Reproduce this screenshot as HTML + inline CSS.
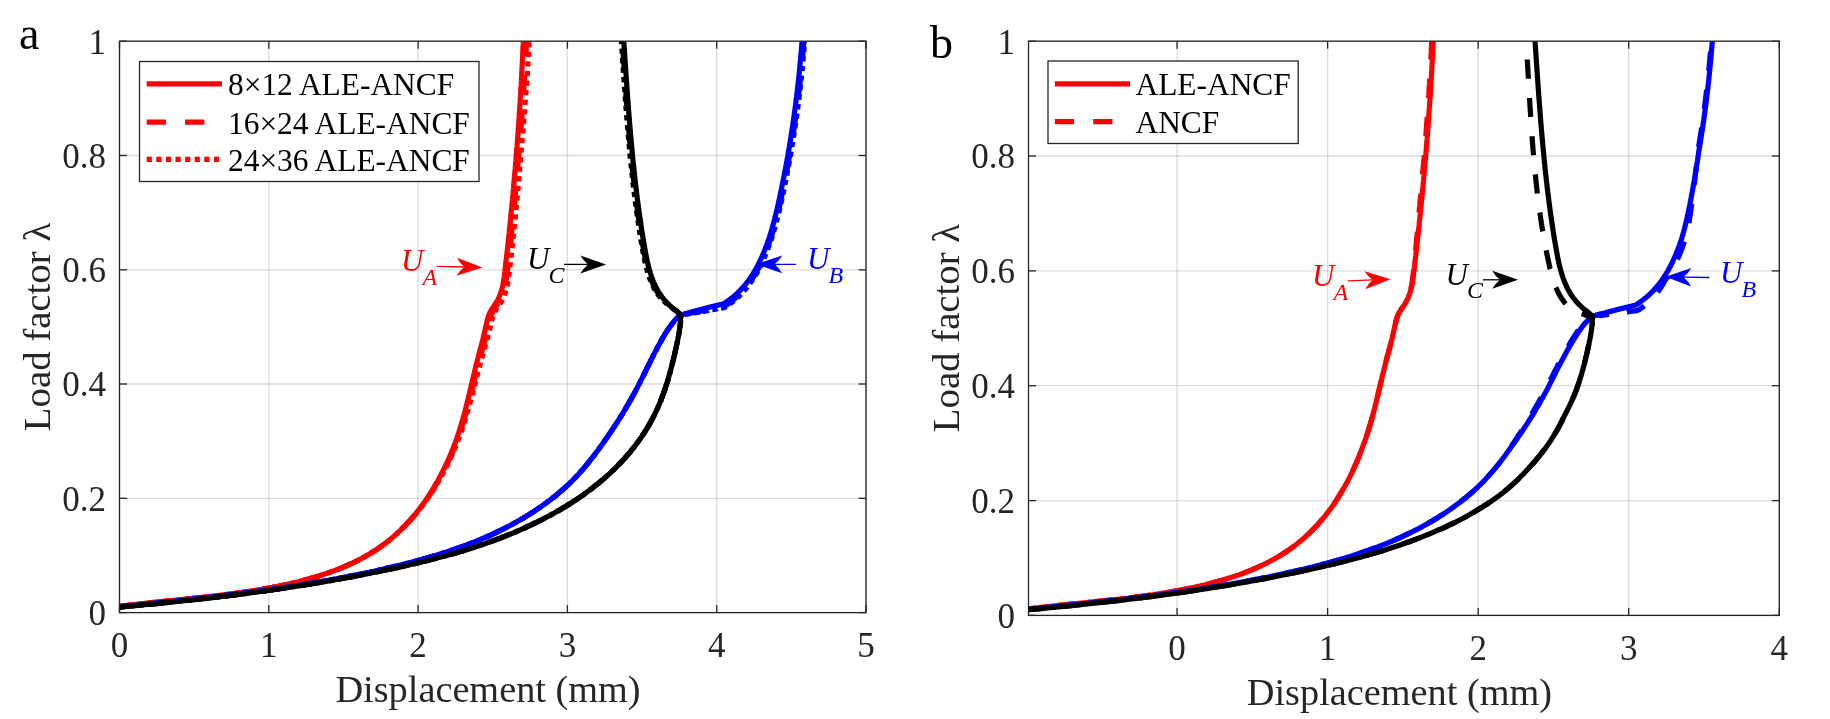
<!DOCTYPE html><html><head><meta charset="utf-8"><style>html,body{margin:0;padding:0;background:#fff;width:1830px;height:719px;overflow:hidden}</style></head><body><svg width="1830" height="719" viewBox="0 0 1830 719" style="position:absolute;left:0;top:0;will-change:transform;font-family:'Liberation Serif',serif">
<defs><clipPath id="ca"><rect x="119.5" y="41.2" width="746.5" height="571.4"/></clipPath><clipPath id="cb"><rect x="1028.5" y="41.2" width="750.8" height="574.2"/></clipPath></defs>
<rect width="1830" height="719" fill="#fff"/>
<line x1="119.5" y1="41.2" x2="119.5" y2="612.6" stroke="#262626" stroke-opacity="0.16" stroke-width="1.3"/>
<line x1="268.8" y1="41.2" x2="268.8" y2="612.6" stroke="#262626" stroke-opacity="0.16" stroke-width="1.3"/>
<line x1="418.1" y1="41.2" x2="418.1" y2="612.6" stroke="#262626" stroke-opacity="0.16" stroke-width="1.3"/>
<line x1="567.4" y1="41.2" x2="567.4" y2="612.6" stroke="#262626" stroke-opacity="0.16" stroke-width="1.3"/>
<line x1="716.7" y1="41.2" x2="716.7" y2="612.6" stroke="#262626" stroke-opacity="0.16" stroke-width="1.3"/>
<line x1="866.0" y1="41.2" x2="866.0" y2="612.6" stroke="#262626" stroke-opacity="0.16" stroke-width="1.3"/>
<line x1="119.5" y1="612.6" x2="866.0" y2="612.6" stroke="#262626" stroke-opacity="0.16" stroke-width="1.3"/>
<line x1="119.5" y1="498.3" x2="866.0" y2="498.3" stroke="#262626" stroke-opacity="0.16" stroke-width="1.3"/>
<line x1="119.5" y1="384.0" x2="866.0" y2="384.0" stroke="#262626" stroke-opacity="0.16" stroke-width="1.3"/>
<line x1="119.5" y1="269.8" x2="866.0" y2="269.8" stroke="#262626" stroke-opacity="0.16" stroke-width="1.3"/>
<line x1="119.5" y1="155.5" x2="866.0" y2="155.5" stroke="#262626" stroke-opacity="0.16" stroke-width="1.3"/>
<line x1="119.5" y1="41.2" x2="866.0" y2="41.2" stroke="#262626" stroke-opacity="0.16" stroke-width="1.3"/>
<g clip-path="url(#ca)" fill="none" stroke-linejoin="round">
<path d="M110.0 607.5 L112.7 607.3 L115.5 606.9 L118.4 606.5 L121.2 606.2 L124.0 605.8 L126.8 605.5 L129.6 605.1 L132.4 604.8 L135.2 604.5 L138.0 604.2 L140.8 603.8 L143.6 603.5 L146.4 603.2 L149.2 602.9 L151.9 602.6 L154.7 602.3 L157.5 602.0 L160.2 601.8 L163.0 601.5 L165.7 601.2 L168.5 600.9 L171.2 600.6 L174.0 600.3 L176.7 600.1 L179.5 599.8 L182.2 599.5 L185.0 599.2 L187.7 598.9 L190.4 598.6 L193.2 598.3 L195.9 598.0 L198.6 597.8 L201.4 597.5 L204.1 597.2 L206.8 596.8 L209.5 596.5 L212.3 596.2 L215.0 595.9 L217.7 595.6 L220.5 595.2 L223.2 594.9 L225.9 594.6 L228.6 594.2 L231.4 593.8 L234.1 593.5 L236.8 593.1 L239.6 592.7 L242.3 592.3 L245.0 591.9 L247.8 591.5 L250.5 591.1 L253.3 590.6 L256.0 590.2 L258.7 589.7 L261.5 589.3 L264.2 588.8 L267.0 588.3 L269.7 587.8 L272.5 587.3 L275.3 586.7 L278.0 586.2 L280.8 585.6 L283.5 585.1 L286.3 584.5 L289.1 583.9 L291.8 583.2 L294.6 582.6 L297.3 581.9 L300.1 581.2 L302.8 580.5 L305.5 579.8 L308.3 579.1 L311.0 578.3 L313.7 577.5 L316.4 576.7 L319.1 575.9 L321.8 575.0 L324.5 574.1 L327.1 573.2 L329.8 572.3 L332.4 571.4 L335.0 570.4 L337.6 569.4 L340.2 568.4 L342.8 567.3 L345.4 566.2 L347.9 565.1 L350.5 563.9 L353.0 562.8 L355.5 561.6 L357.9 560.3 L360.4 559.1 L362.8 557.8 L365.2 556.4 L367.6 555.1 L370.0 553.7 L372.3 552.2 L374.7 550.8 L376.9 549.3 L379.2 547.7 L381.5 546.1 L383.7 544.5 L385.9 542.9 L388.0 541.2 L390.1 539.5 L392.2 537.7 L394.3 535.9 L396.4 534.1 L398.4 532.2 L400.4 530.3 L402.4 528.4 L404.4 526.4 L406.3 524.4 L408.2 522.4 L410.1 520.4 L412.0 518.3 L413.9 516.2 L415.7 514.1 L417.5 511.9 L419.2 509.7 L421.0 507.5 L422.7 505.3 L424.4 503.0 L426.0 500.7 L427.6 498.4 L429.3 496.1 L430.8 493.7 L432.4 491.4 L433.9 489.0 L435.4 486.6 L436.9 484.1 L438.3 481.7 L439.7 479.2 L441.1 476.8 L442.5 474.3 L443.8 471.8 L445.2 469.3 L446.4 466.7 L447.7 464.2 L448.9 461.6 L450.1 459.1 L451.3 456.5 L452.5 453.9 L453.6 451.3 L454.7 448.7 L455.8 446.1 L456.8 443.5 L457.9 440.8 L458.9 438.2 L459.8 435.6 L460.8 432.9 L461.7 430.3 L462.6 427.6 L463.5 425.0 L464.3 422.3 L465.1 419.7 L466.0 417.0 L466.7 414.4 L467.5 411.7 L468.3 409.0 L469.0 406.4 L469.8 403.7 L470.5 401.0 L471.2 398.3 L471.9 395.7 L472.6 393.0 L473.3 390.3 L474.0 387.6 L474.7 384.9 L475.4 382.2 L476.1 379.5 L476.8 376.8 L477.5 374.1 L478.2 371.4 L478.9 368.7 L479.6 366.0 L480.3 363.3 L481.1 360.6 L481.9 357.9 L482.6 355.2 L483.4 352.5 L484.2 349.7 L485.0 347.0 L485.8 344.3 L486.5 341.6 L487.3 338.9 L488.0 336.2 L488.7 333.5 L489.4 330.7 L490.0 328.0 L490.6 325.4 L491.2 322.7 L491.8 320.0 L492.5 317.4 L493.4 314.9 L494.5 312.4 L495.8 310.0 L497.3 307.7 L498.8 305.4 L500.4 303.1 L501.8 300.7 L503.1 298.3 L504.2 295.8 L505.1 293.2 L505.9 290.6 L506.7 287.9 L507.3 285.3 L507.8 282.5 L508.3 279.8 L508.7 277.0 L509.0 274.3 L509.4 271.5 L509.7 268.7 L510.0 265.9 L510.3 263.1 L510.6 260.3 L510.9 257.5 L511.3 254.7 L511.6 252.0 L511.9 249.2 L512.2 246.4 L512.5 243.6 L512.8 240.8 L513.1 238.1 L513.4 235.3 L513.7 232.5 L513.9 229.7 L514.2 226.9 L514.5 224.2 L514.8 221.4 L515.1 218.6 L515.4 215.9 L515.6 213.1 L515.9 210.3 L516.2 207.5 L516.4 204.8 L516.7 202.0 L517.0 199.2 L517.2 196.5 L517.5 193.7 L517.7 190.9 L518.0 188.2 L518.2 185.4 L518.5 182.6 L518.7 179.9 L519.0 177.1 L519.2 174.3 L519.4 171.6 L519.7 168.8 L519.9 166.0 L520.1 163.3 L520.4 160.5 L520.6 157.7 L520.8 155.0 L521.0 152.2 L521.3 149.4 L521.5 146.7 L521.8 143.9 L522.0 141.2 L522.2 138.4 L522.5 135.6 L522.7 132.9 L523.0 130.1 L523.2 127.3 L523.4 124.5 L523.7 121.8 L523.9 119.0 L524.1 116.2 L524.3 113.5 L524.6 110.7 L524.8 107.9 L525.0 105.2 L525.2 102.4 L525.4 99.6 L525.6 96.8 L525.8 94.1 L526.0 91.3 L526.2 88.5 L526.4 85.7 L526.6 83.0 L526.8 80.2 L527.0 77.4 L527.2 74.6 L527.4 71.8 L527.6 69.0 L527.8 66.3 L527.9 63.5 L528.1 60.7 L528.3 57.9 L528.5 55.1 L528.6 52.3 L528.8 49.5 L529.0 46.7 L529.1 43.9 L529.3 41.1 L529.4 38.3 L529.5 35.5 L529.6 32.7 L530.0 30.0" stroke="#f00" stroke-width="5.2" stroke-dasharray="5.2 4.4"/>
<path d="M110.0 607.5 L112.7 607.3 L115.5 606.9 L118.4 606.5 L121.2 606.2 L124.0 605.8 L126.8 605.5 L129.6 605.1 L132.4 604.8 L135.2 604.5 L138.0 604.2 L140.8 603.8 L143.6 603.5 L146.4 603.2 L149.2 602.9 L151.9 602.6 L154.7 602.3 L157.5 602.0 L160.2 601.8 L163.0 601.5 L165.7 601.2 L168.5 600.9 L171.2 600.6 L174.0 600.3 L176.7 600.1 L179.5 599.8 L182.2 599.5 L185.0 599.2 L187.7 598.9 L190.4 598.6 L193.2 598.3 L195.9 598.0 L198.6 597.8 L201.4 597.5 L204.1 597.2 L206.8 596.8 L209.5 596.5 L212.3 596.2 L215.0 595.9 L217.7 595.6 L220.5 595.2 L223.2 594.9 L225.9 594.6 L228.6 594.2 L231.4 593.8 L234.1 593.5 L236.8 593.1 L239.6 592.7 L242.3 592.3 L245.0 591.9 L247.8 591.5 L250.5 591.1 L253.3 590.6 L256.0 590.2 L258.7 589.7 L261.5 589.3 L264.2 588.8 L267.0 588.3 L269.7 587.8 L272.5 587.3 L275.3 586.7 L278.0 586.2 L280.8 585.6 L283.5 585.1 L286.3 584.5 L289.1 583.9 L291.8 583.2 L294.6 582.6 L297.3 581.9 L300.1 581.2 L302.8 580.5 L305.5 579.8 L308.3 579.1 L311.0 578.3 L313.7 577.5 L316.4 576.7 L319.1 575.9 L321.8 575.0 L324.5 574.1 L327.1 573.2 L329.8 572.3 L332.4 571.4 L335.0 570.4 L337.6 569.4 L340.2 568.4 L342.8 567.3 L345.4 566.2 L347.9 565.1 L350.5 563.9 L353.0 562.8 L355.5 561.6 L357.9 560.3 L360.4 559.1 L362.8 557.8 L365.2 556.4 L367.6 555.1 L370.0 553.7 L372.3 552.2 L374.7 550.8 L376.9 549.3 L379.2 547.7 L381.5 546.1 L383.7 544.5 L385.9 542.9 L388.0 541.2 L390.1 539.5 L392.2 537.7 L394.3 535.9 L396.4 534.1 L398.4 532.2 L400.4 530.3 L402.4 528.4 L404.3 526.4 L406.3 524.4 L408.2 522.4 L410.0 520.4 L411.9 518.3 L413.7 516.2 L415.5 514.1 L417.3 511.9 L419.0 509.7 L420.7 507.5 L422.4 505.3 L424.1 503.0 L425.7 500.7 L427.3 498.4 L428.9 496.1 L430.5 493.7 L432.0 491.4 L433.5 489.0 L435.0 486.6 L436.4 484.1 L437.8 481.7 L439.2 479.2 L440.6 476.8 L441.9 474.3 L443.3 471.8 L444.5 469.3 L445.8 466.7 L447.0 464.2 L448.2 461.6 L449.4 459.1 L450.6 456.5 L451.7 453.9 L452.8 451.3 L453.9 448.7 L454.9 446.1 L456.0 443.5 L457.0 440.8 L457.9 438.2 L458.9 435.6 L459.8 432.9 L460.7 430.3 L461.6 427.6 L462.4 425.0 L463.2 422.3 L464.0 419.7 L464.8 417.0 L465.6 414.4 L466.3 411.7 L467.1 409.0 L467.8 406.4 L468.5 403.7 L469.2 401.0 L469.9 398.3 L470.5 395.7 L471.2 393.0 L471.9 390.3 L472.5 387.6 L473.2 384.9 L473.9 382.2 L474.5 379.5 L475.2 376.8 L475.9 374.1 L476.6 371.4 L477.3 368.7 L478.0 366.0 L478.7 363.3 L479.4 360.6 L480.1 357.9 L480.9 355.2 L481.6 352.5 L482.4 349.7 L483.1 347.0 L483.9 344.3 L484.6 341.6 L485.3 338.9 L486.0 336.2 L486.7 333.5 L487.4 330.7 L488.0 328.0 L488.6 325.4 L489.1 322.7 L489.8 320.0 L490.5 317.4 L491.4 314.9 L492.5 312.4 L493.8 310.0 L495.3 307.7 L496.8 305.4 L498.3 303.1 L499.8 300.7 L501.0 298.3 L502.1 295.8 L503.1 293.2 L503.9 290.6 L504.6 287.9 L505.2 285.3 L505.8 282.5 L506.2 279.8 L506.6 277.0 L507.0 274.3 L507.3 271.5 L507.7 268.7 L508.0 265.9 L508.3 263.1 L508.6 260.3 L508.9 257.5 L509.2 254.7 L509.5 252.0 L509.8 249.2 L510.1 246.4 L510.5 243.6 L510.7 240.8 L511.0 238.1 L511.3 235.3 L511.6 232.5 L511.9 229.7 L512.2 226.9 L512.5 224.2 L512.8 221.4 L513.0 218.6 L513.3 215.9 L513.6 213.1 L513.9 210.3 L514.1 207.5 L514.4 204.8 L514.7 202.0 L514.9 199.2 L515.2 196.5 L515.4 193.7 L515.7 190.9 L516.0 188.2 L516.2 185.4 L516.4 182.6 L516.7 179.9 L516.9 177.1 L517.2 174.3 L517.4 171.6 L517.6 168.8 L517.9 166.0 L518.1 163.3 L518.3 160.5 L518.6 157.7 L518.8 155.0 L519.0 152.2 L519.2 149.4 L519.5 146.7 L519.7 143.9 L519.9 141.2 L520.1 138.4 L520.4 135.6 L520.6 132.9 L520.8 130.1 L521.0 127.3 L521.3 124.5 L521.5 121.8 L521.7 119.0 L521.9 116.2 L522.1 113.5 L522.3 110.7 L522.5 107.9 L522.7 105.2 L522.9 102.4 L523.1 99.6 L523.3 96.8 L523.5 94.1 L523.7 91.3 L523.8 88.5 L524.0 85.7 L524.2 83.0 L524.4 80.2 L524.5 77.4 L524.7 74.6 L524.9 71.8 L525.1 69.0 L525.2 66.3 L525.4 63.5 L525.5 60.7 L525.7 57.9 L525.9 55.1 L526.0 52.3 L526.2 49.5 L526.3 46.7 L526.4 43.9 L526.6 41.1 L526.7 38.3 L526.8 35.5 L526.9 32.7 L527.3 30.0" stroke="#f00" stroke-width="5.2" stroke-dasharray="19.2 19.2"/>
<path d="M110.0 607.5 L112.7 607.3 L115.5 606.9 L118.4 606.5 L121.2 606.2 L124.0 605.8 L126.8 605.5 L129.6 605.1 L132.4 604.8 L135.2 604.5 L138.0 604.2 L140.8 603.8 L143.6 603.5 L146.4 603.2 L149.2 602.9 L151.9 602.6 L154.7 602.3 L157.5 602.0 L160.2 601.8 L163.0 601.5 L165.7 601.2 L168.5 600.9 L171.2 600.6 L174.0 600.3 L176.7 600.1 L179.5 599.8 L182.2 599.5 L185.0 599.2 L187.7 598.9 L190.4 598.6 L193.2 598.3 L195.9 598.0 L198.6 597.8 L201.4 597.5 L204.1 597.2 L206.8 596.8 L209.5 596.5 L212.3 596.2 L215.0 595.9 L217.7 595.6 L220.5 595.2 L223.2 594.9 L225.9 594.6 L228.6 594.2 L231.4 593.8 L234.1 593.5 L236.8 593.1 L239.6 592.7 L242.3 592.3 L245.0 591.9 L247.8 591.5 L250.5 591.1 L253.3 590.6 L256.0 590.2 L258.7 589.7 L261.5 589.3 L264.2 588.8 L267.0 588.3 L269.7 587.8 L272.5 587.3 L275.3 586.7 L278.0 586.2 L280.8 585.6 L283.5 585.1 L286.3 584.5 L289.1 583.9 L291.8 583.2 L294.6 582.6 L297.3 581.9 L300.1 581.2 L302.8 580.5 L305.5 579.8 L308.3 579.1 L311.0 578.3 L313.7 577.5 L316.4 576.7 L319.1 575.9 L321.8 575.0 L324.5 574.1 L327.1 573.2 L329.8 572.3 L332.4 571.4 L335.0 570.4 L337.6 569.4 L340.2 568.4 L342.8 567.3 L345.4 566.2 L347.9 565.1 L350.5 563.9 L353.0 562.8 L355.5 561.6 L357.9 560.3 L360.4 559.1 L362.8 557.8 L365.2 556.4 L367.6 555.1 L370.0 553.7 L372.3 552.2 L374.7 550.8 L376.9 549.3 L379.2 547.7 L381.5 546.1 L383.7 544.5 L385.9 542.9 L388.0 541.2 L390.1 539.5 L392.2 537.7 L394.3 535.9 L396.4 534.1 L398.4 532.2 L400.4 530.3 L402.3 528.4 L404.3 526.4 L406.2 524.4 L408.1 522.4 L409.9 520.4 L411.7 518.3 L413.5 516.2 L415.3 514.1 L417.1 511.9 L418.8 509.7 L420.5 507.5 L422.1 505.3 L423.8 503.0 L425.4 500.7 L426.9 498.4 L428.5 496.1 L430.0 493.7 L431.5 491.4 L433.0 489.0 L434.4 486.6 L435.8 484.1 L437.2 481.7 L438.6 479.2 L439.9 476.8 L441.2 474.3 L442.5 471.8 L443.8 469.3 L445.0 466.7 L446.2 464.2 L447.4 461.6 L448.5 459.1 L449.7 456.5 L450.8 453.9 L451.8 451.3 L452.9 448.7 L453.9 446.1 L454.9 443.5 L455.9 440.8 L456.8 438.2 L457.7 435.6 L458.6 432.9 L459.5 430.3 L460.3 427.6 L461.1 425.0 L461.9 422.3 L462.7 419.7 L463.4 417.0 L464.1 414.4 L464.9 411.7 L465.6 409.0 L466.2 406.4 L466.9 403.7 L467.6 401.0 L468.2 398.3 L468.9 395.7 L469.5 393.0 L470.1 390.3 L470.8 387.6 L471.4 384.9 L472.0 382.2 L472.7 379.5 L473.3 376.8 L474.0 374.1 L474.6 371.4 L475.3 368.7 L475.9 366.0 L476.6 363.3 L477.3 360.6 L478.0 357.9 L478.7 355.2 L479.4 352.5 L480.1 349.7 L480.9 347.0 L481.6 344.3 L482.3 341.6 L483.0 338.9 L483.6 336.2 L484.3 333.5 L484.9 330.7 L485.5 328.0 L486.1 325.4 L486.7 322.7 L487.3 320.0 L488.0 317.4 L488.9 314.9 L490.0 312.4 L491.3 310.0 L492.8 307.7 L494.3 305.4 L495.9 303.1 L497.3 300.7 L498.6 298.3 L499.7 295.8 L500.6 293.2 L501.4 290.6 L502.2 287.9 L502.8 285.3 L503.3 282.5 L503.8 279.8 L504.2 277.0 L504.5 274.3 L504.9 271.5 L505.2 268.7 L505.5 265.9 L505.8 263.1 L506.1 260.3 L506.4 257.5 L506.8 254.7 L507.1 252.0 L507.4 249.2 L507.7 246.4 L508.0 243.6 L508.3 240.8 L508.6 238.1 L508.9 235.3 L509.2 232.5 L509.4 229.7 L509.7 226.9 L510.0 224.2 L510.3 221.4 L510.6 218.6 L510.9 215.9 L511.1 213.1 L511.4 210.3 L511.7 207.5 L511.9 204.8 L512.2 202.0 L512.5 199.2 L512.7 196.5 L513.0 193.7 L513.2 190.9 L513.5 188.2 L513.7 185.4 L514.0 182.6 L514.2 179.9 L514.5 177.1 L514.7 174.3 L514.9 171.6 L515.2 168.8 L515.4 166.0 L515.6 163.3 L515.9 160.5 L516.1 157.7 L516.3 155.0 L516.5 152.2 L516.7 149.4 L517.0 146.7 L517.2 143.9 L517.4 141.2 L517.6 138.4 L517.8 135.6 L518.0 132.9 L518.2 130.1 L518.4 127.3 L518.6 124.5 L518.8 121.8 L519.0 119.0 L519.2 116.2 L519.3 113.5 L519.5 110.7 L519.7 107.9 L519.9 105.2 L520.1 102.4 L520.2 99.6 L520.4 96.8 L520.6 94.1 L520.7 91.3 L520.9 88.5 L521.1 85.7 L521.2 83.0 L521.4 80.2 L521.5 77.4 L521.7 74.6 L521.8 71.8 L522.0 69.0 L522.1 66.3 L522.3 63.5 L522.4 60.7 L522.5 57.9 L522.7 55.1 L522.8 52.3 L522.9 49.5 L523.0 46.7 L523.2 43.9 L523.3 41.1 L523.4 38.3 L523.5 35.5 L523.6 32.7 L524.0 30.0" stroke="#f00" stroke-width="5.2"/>
<path d="M110.0 607.7 L112.3 607.5 L114.6 607.2 L116.9 607.0 L119.1 606.8 L121.4 606.5 L123.7 606.3 L126.0 606.1 L128.3 605.8 L130.6 605.6 L132.9 605.4 L135.2 605.1 L137.5 604.9 L139.7 604.7 L142.0 604.5 L144.3 604.2 L146.6 604.0 L148.9 603.7 L151.2 603.5 L153.5 603.3 L155.8 603.0 L158.0 602.8 L160.3 602.6 L162.6 602.3 L164.9 602.1 L167.2 601.9 L169.5 601.6 L171.8 601.4 L174.1 601.1 L176.3 600.9 L178.6 600.6 L180.9 600.4 L183.2 600.2 L185.5 599.9 L187.8 599.7 L190.1 599.4 L192.3 599.2 L194.6 598.9 L196.9 598.7 L199.2 598.4 L201.5 598.1 L203.8 597.9 L206.0 597.6 L208.3 597.4 L210.6 597.1 L212.9 596.8 L215.2 596.6 L217.5 596.3 L219.7 596.0 L222.0 595.8 L224.3 595.5 L226.6 595.2 L228.9 594.9 L231.2 594.7 L233.4 594.4 L235.7 594.1 L238.0 593.8 L240.3 593.5 L242.6 593.2 L244.8 592.9 L247.1 592.6 L249.4 592.3 L251.7 592.0 L254.0 591.7 L256.2 591.4 L258.5 591.1 L260.8 590.8 L263.1 590.5 L265.3 590.2 L267.6 589.9 L269.9 589.6 L272.2 589.2 L274.4 588.9 L276.7 588.6 L279.0 588.3 L281.2 587.9 L283.5 587.6 L285.8 587.2 L288.1 586.9 L290.3 586.6 L292.6 586.2 L294.9 585.9 L297.1 585.5 L299.4 585.1 L301.7 584.8 L303.9 584.4 L306.2 584.0 L308.5 583.7 L310.7 583.3 L313.0 582.9 L315.3 582.5 L317.5 582.1 L319.8 581.8 L322.1 581.4 L324.3 581.0 L326.6 580.6 L328.9 580.2 L331.1 579.7 L333.4 579.3 L335.6 578.9 L337.9 578.5 L340.2 578.1 L342.4 577.6 L344.7 577.2 L346.9 576.8 L349.2 576.3 L351.4 575.9 L353.7 575.4 L355.9 575.0 L358.2 574.5 L360.4 574.1 L362.7 573.6 L364.9 573.1 L367.2 572.6 L369.4 572.2 L371.7 571.7 L373.9 571.2 L376.2 570.7 L378.4 570.2 L380.7 569.7 L382.9 569.2 L385.2 568.7 L387.4 568.1 L389.7 567.6 L391.9 567.1 L394.1 566.5 L396.4 566.0 L398.6 565.5 L400.9 564.9 L403.1 564.4 L405.3 563.8 L407.6 563.2 L409.8 562.6 L412.0 562.1 L414.2 561.5 L416.5 560.9 L418.7 560.3 L420.9 559.7 L423.1 559.0 L425.3 558.4 L427.6 557.8 L429.8 557.1 L432.0 556.5 L434.2 555.8 L436.4 555.2 L438.6 554.5 L440.8 553.8 L443.0 553.1 L445.2 552.4 L447.3 551.7 L449.5 551.0 L451.7 550.3 L453.9 549.5 L456.0 548.8 L458.2 548.0 L460.4 547.2 L462.5 546.4 L464.7 545.7 L466.8 544.9 L469.0 544.0 L471.1 543.2 L473.2 542.4 L475.4 541.5 L477.5 540.7 L479.6 539.8 L481.7 538.9 L483.8 538.0 L485.9 537.1 L488.0 536.2 L490.1 535.3 L492.2 534.3 L494.2 533.4 L496.3 532.4 L498.4 531.4 L500.4 530.4 L502.5 529.4 L504.5 528.4 L506.6 527.3 L508.6 526.3 L510.6 525.2 L512.6 524.1 L514.6 523.0 L516.6 521.9 L518.6 520.8 L520.6 519.6 L522.6 518.5 L524.6 517.3 L526.5 516.1 L528.5 514.9 L530.4 513.7 L532.4 512.4 L534.3 511.2 L536.2 509.9 L538.1 508.6 L540.0 507.3 L541.9 506.0 L543.8 504.7 L545.7 503.3 L547.5 501.9 L549.4 500.5 L551.2 499.1 L553.0 497.7 L554.9 496.3 L556.7 494.8 L558.4 493.3 L560.2 491.8 L562.0 490.3 L563.7 488.8 L565.4 487.2 L567.1 485.7 L568.8 484.1 L570.5 482.5 L572.1 480.9 L573.7 479.2 L575.3 477.6 L576.9 475.9 L578.5 474.2 L580.0 472.5 L581.5 470.8 L583.0 469.1 L584.5 467.3 L586.0 465.5 L587.4 463.8 L588.9 462.0 L590.3 460.2 L591.7 458.4 L593.1 456.6 L594.5 454.8 L595.9 452.9 L597.3 451.1 L598.6 449.3 L600.0 447.4 L601.3 445.5 L602.7 443.7 L604.0 441.8 L605.3 439.9 L606.6 438.1 L607.9 436.2 L609.2 434.3 L610.5 432.4 L611.8 430.5 L613.0 428.6 L614.3 426.7 L615.5 424.7 L616.8 422.8 L618.0 420.9 L619.2 419.0 L620.5 417.0 L621.7 415.1 L622.9 413.1 L624.1 411.1 L625.2 409.2 L626.4 407.2 L627.6 405.2 L628.7 403.2 L629.9 401.2 L631.0 399.2 L632.1 397.2 L633.2 395.2 L634.3 393.2 L635.4 391.2 L636.5 389.1 L637.5 387.1 L638.6 385.0 L639.7 383.0 L640.7 380.9 L641.7 378.9 L642.8 376.8 L643.8 374.7 L644.8 372.7 L645.8 370.6 L646.8 368.5 L647.9 366.4 L648.9 364.4 L649.9 362.3 L650.9 360.2 L652.0 358.2 L653.0 356.1 L654.0 354.1 L655.1 352.0 L656.2 350.0 L657.2 348.0 L658.3 345.9 L659.4 343.9 L660.5 341.9 L661.6 339.9 L662.8 337.9 L663.9 336.0 L665.1 334.0 L666.3 332.1 L667.5 330.2 L668.8 328.3 L670.2 326.4 L671.6 324.6 L673.1 322.8 L674.6 321.0 L676.2 319.3 L677.8 317.7 L679.5 316.1 L681.6 314.8 L681.7 314.8 L681.8 314.8 L682.0 314.8 L682.1 314.7 L682.3 314.7 L682.4 314.7 L682.5 314.7 L682.7 314.6 L682.8 314.6 L683.0 314.6 L683.1 314.6 L683.2 314.6 L683.4 314.5 L683.5 314.5 L683.6 314.5 L683.8 314.5 L683.9 314.5 L684.1 314.4 L684.2 314.4 L684.3 314.4 L684.5 314.4 L684.6 314.4 L684.8 314.3 L684.9 314.3 L685.0 314.3 L685.2 314.3 L685.3 314.2 L685.4 314.2 L685.6 314.2 L685.7 314.2 L685.9 314.2 L686.0 314.1 L686.1 314.1 L686.3 314.1 L686.4 314.1 L686.6 314.1 L686.7 314.0 L686.8 314.0 L687.0 314.0 L687.1 314.0 L687.3 313.9 L687.4 313.9 L687.5 313.9 L687.7 313.9 L687.8 313.9 L687.9 313.8 L688.1 313.8 L688.2 313.8 L688.4 313.8 L688.5 313.8 L688.6 313.7 L688.8 313.7 L688.9 313.7 L689.1 313.7 L689.2 313.7 L689.3 313.6 L689.5 313.6 L689.6 313.6 L689.7 313.6 L689.9 313.5 L690.0 313.5 L690.2 313.5 L690.3 313.5 L690.4 313.5 L690.6 313.4 L690.7 313.4 L690.9 313.4 L691.0 313.4 L691.1 313.4 L691.3 313.3 L691.4 313.3 L691.5 313.3 L691.7 313.3 L691.8 313.2 L692.0 313.2 L692.1 313.2 L692.2 313.2 L692.4 313.2 L692.5 313.1 L692.7 313.1 L692.8 313.1 L692.9 313.1 L693.1 313.1 L693.2 313.0 L693.4 313.0 L693.5 313.0 L693.6 313.0 L693.8 313.0 L693.9 312.9 L694.0 312.9 L694.2 312.9 L694.3 312.9 L694.5 312.8 L694.6 312.8 L694.7 312.8 L694.9 312.8 L695.0 312.8 L695.2 312.7 L695.3 312.7 L695.4 312.7 L695.6 312.7 L695.7 312.7 L695.8 312.6 L696.0 312.6 L696.1 312.6 L696.3 312.6 L696.4 312.6 L696.5 312.5 L696.7 312.5 L696.8 312.5 L697.0 312.5 L697.1 312.5 L697.2 312.4 L697.4 312.4 L697.5 312.4 L697.7 312.4 L697.8 312.3 L697.9 312.3 L698.1 312.3 L698.2 312.3 L698.3 312.3 L698.5 312.2 L698.6 312.2 L698.8 312.2 L698.9 312.2 L699.0 312.2 L699.2 312.1 L699.3 312.1 L699.5 312.1 L699.6 312.1 L699.7 312.1 L699.9 312.0 L700.0 312.0 L700.1 312.0 L700.3 312.0 L700.4 312.0 L700.6 311.9 L700.7 311.9 L700.8 311.9 L701.0 311.9 L701.1 311.8 L701.3 311.8 L701.4 311.8 L701.5 311.8 L701.7 311.7 L701.8 311.7 L702.0 311.7 L702.1 311.7 L702.2 311.6 L702.4 311.6 L702.5 311.6 L702.6 311.5 L702.8 311.5 L702.9 311.5 L703.1 311.5 L703.2 311.4 L703.3 311.4 L703.5 311.4 L703.6 311.4 L703.8 311.3 L703.9 311.3 L704.0 311.3 L704.2 311.2 L704.3 311.2 L704.5 311.2 L704.6 311.2 L704.7 311.1 L704.9 311.1 L705.0 311.1 L705.1 311.1 L705.3 311.0 L705.4 311.0 L705.6 311.0 L705.7 310.9 L705.8 310.9 L706.0 310.9 L706.1 310.9 L706.3 310.8 L706.4 310.8 L706.5 310.8 L706.7 310.8 L706.8 310.7 L707.0 310.7 L707.1 310.7 L707.2 310.7 L707.4 310.6 L707.5 310.6 L707.6 310.6 L707.8 310.5 L707.9 310.5 L708.1 310.5 L708.2 310.5 L708.3 310.4 L708.5 310.4 L708.6 310.4 L708.8 310.4 L708.9 310.3 L709.0 310.3 L709.2 310.3 L709.3 310.3 L709.5 310.2 L709.6 310.2 L709.7 310.2 L709.9 310.2 L710.0 310.1 L710.2 310.1 L710.3 310.1 L710.4 310.1 L710.6 310.0 L710.7 310.0 L710.8 310.0 L711.0 310.0 L711.1 309.9 L711.3 309.9 L711.4 309.9 L711.5 309.8 L711.7 309.8 L711.8 309.8 L712.0 309.8 L712.1 309.7 L712.2 309.7 L712.4 309.7 L712.5 309.7 L712.7 309.6 L712.8 309.6 L712.9 309.6 L713.1 309.6 L713.2 309.5 L713.4 309.5 L713.5 309.5 L713.6 309.5 L713.8 309.4 L713.9 309.4 L714.1 309.4 L714.2 309.4 L714.3 309.3 L714.5 309.3 L714.6 309.3 L714.7 309.3 L714.9 309.2 L715.0 309.2 L715.2 309.2 L715.3 309.2 L715.4 309.1 L715.6 309.1 L715.7 309.1 L715.9 309.1 L716.0 309.0 L716.1 309.0 L716.3 309.0 L716.4 309.0 L716.6 308.9 L716.7 308.9 L716.8 308.9 L717.0 308.9 L717.1 308.8 L717.3 308.8 L717.4 308.8 L717.5 308.8 L717.7 308.8 L717.8 308.7 L718.0 308.7 L718.1 308.7 L718.2 308.7 L718.4 308.6 L718.5 308.6 L718.7 308.6 L718.8 308.6 L718.9 308.5 L719.1 308.5 L719.2 308.5 L719.4 308.5 L719.5 308.4 L719.6 308.4 L719.8 308.4 L719.9 308.4 L720.0 308.3 L720.2 308.3 L720.3 308.3 L720.5 308.3 L720.6 308.3 L720.7 308.2 L720.9 308.2 L721.0 308.2 L721.2 308.2 L721.3 308.1 L721.4 308.1 L721.6 308.1 L721.7 308.1 L721.9 308.0 L722.0 308.0 L722.1 308.0 L722.3 308.0 L722.4 308.0 L722.6 307.9 L722.7 307.9 L722.8 307.9 L723.0 307.9 L723.1 307.8 L724.2 307.7 L725.1 307.2 L726.0 306.7 L726.9 306.1 L727.7 305.5 L728.6 304.9 L729.5 304.2 L730.3 303.6 L731.1 302.9 L732.0 302.3 L732.8 301.6 L733.6 300.9 L734.4 300.3 L735.2 299.6 L736.0 298.9 L736.8 298.2 L737.5 297.5 L738.3 296.8 L739.0 296.1 L739.8 295.3 L740.5 294.6 L741.2 293.9 L741.9 293.1 L742.6 292.4 L743.3 291.6 L744.0 290.9 L744.7 290.1 L745.4 289.3 L746.0 288.6 L746.7 287.8 L747.3 287.0 L748.0 286.2 L748.6 285.3 L749.2 284.5 L749.8 283.6 L750.4 282.8 L751.0 282.0 L751.6 281.1 L752.2 280.2 L752.8 279.4 L753.4 278.5 L753.9 277.7 L754.5 276.8 L755.1 275.9 L755.6 275.0 L756.1 274.2 L756.7 273.3 L757.2 272.4 L757.7 271.5 L758.2 270.6 L758.7 269.7 L759.1 268.8 L759.6 267.9 L760.1 267.0 L760.5 266.1 L761.0 265.1 L761.4 264.2 L761.8 263.3 L762.2 262.4 L762.7 261.5 L763.1 260.5 L763.5 259.6 L763.9 258.7 L764.3 257.7 L764.7 256.8 L765.1 255.8 L765.5 254.9 L765.8 254.0 L766.2 253.0 L766.6 252.1 L767.0 251.1 L767.3 250.2 L767.7 249.2 L768.0 248.3 L768.4 247.4 L768.7 246.5 L769.1 245.6 L769.4 244.6 L769.7 243.7 L770.1 242.8 L770.4 241.9 L770.7 240.9 L771.0 240.0 L771.4 239.1 L771.7 238.1 L772.0 237.2 L772.3 236.2 L772.6 235.3 L772.9 234.4 L773.2 233.4 L773.5 232.5 L773.7 231.5 L774.0 230.6 L774.3 229.6 L774.6 228.7 L774.9 227.7 L775.1 226.8 L775.4 225.8 L775.7 224.8 L775.9 223.9 L776.2 222.9 L776.4 222.0 L776.7 221.0 L776.9 220.0 L777.2 219.1 L777.4 218.1 L777.7 217.1 L777.9 216.2 L778.2 215.2 L778.4 214.2 L778.6 213.3 L778.9 212.3 L779.1 211.3 L779.3 210.4 L779.6 209.4 L779.8 208.4 L780.0 207.5 L780.2 206.5 L780.5 205.5 L780.7 204.5 L780.9 203.6 L781.1 202.6 L781.3 201.6 L781.6 200.6 L781.8 199.7 L782.0 198.7 L782.2 197.7 L782.4 196.7 L782.6 195.8 L782.8 194.8 L783.0 193.8 L783.2 192.8 L783.4 191.9 L783.6 190.9 L783.8 189.9 L784.0 189.0 L784.2 188.0 L784.4 187.0 L784.6 186.0 L784.8 185.1 L785.0 184.1 L785.2 183.1 L785.4 182.1 L785.6 181.2 L785.8 180.2 L786.0 179.2 L786.2 178.3 L786.4 177.3 L786.6 176.3 L786.8 175.3 L787.0 174.4 L787.1 173.4 L787.3 172.4 L787.5 171.5 L787.7 170.5 L787.9 169.5 L788.1 168.5 L788.3 167.6 L788.4 166.6 L788.6 165.6 L788.8 164.7 L789.0 163.7 L789.1 162.7 L789.3 161.8 L789.5 160.8 L789.7 159.8 L789.8 158.8 L790.0 157.9 L790.2 156.9 L790.4 155.9 L790.5 155.0 L790.7 154.0 L790.9 153.0 L791.0 152.1 L791.2 151.1 L791.4 150.1 L791.5 149.1 L791.7 148.2 L791.9 147.2 L792.0 146.2 L792.2 145.3 L792.3 144.3 L792.5 143.3 L792.7 142.4 L792.8 141.4 L793.0 140.4 L793.1 139.4 L793.3 138.5 L793.4 137.5 L793.6 136.5 L793.7 135.6 L793.9 134.6 L794.0 133.6 L794.2 132.7 L794.3 131.7 L794.5 130.7 L794.6 129.7 L794.8 128.8 L794.9 127.8 L795.1 126.8 L795.2 125.9 L795.4 124.9 L795.5 123.9 L795.6 122.9 L795.8 122.0 L795.9 121.0 L796.1 120.0 L796.2 119.1 L796.3 118.1 L796.5 117.1 L796.6 116.2 L796.7 115.2 L796.9 114.2 L797.0 113.2 L797.1 112.3 L797.3 111.3 L797.4 110.3 L797.5 109.4 L797.7 108.4 L797.8 107.4 L797.9 106.4 L798.1 105.5 L798.2 104.5 L798.3 103.5 L798.4 102.5 L798.5 101.6 L798.7 100.6 L798.8 99.6 L798.9 98.7 L799.0 97.7 L799.2 96.7 L799.3 95.7 L799.4 94.8 L799.5 93.8 L799.6 92.8 L799.7 91.8 L799.9 90.9 L800.0 89.9 L800.1 88.9 L800.2 87.9 L800.3 87.0 L800.4 86.0 L800.5 85.0 L800.6 84.0 L800.7 83.1 L800.8 82.1 L801.0 81.1 L801.1 80.1 L801.2 79.1 L801.3 78.2 L801.4 77.2 L801.5 76.2 L801.6 75.2 L801.7 74.3 L801.8 73.3 L801.9 72.3 L802.0 71.3 L802.1 70.3 L802.2 69.4 L802.3 68.4 L802.4 67.4 L802.5 66.4 L802.6 65.4 L802.6 64.5 L802.7 63.5 L802.8 62.5 L802.9 61.5 L803.0 60.5 L803.1 59.6 L803.2 58.6 L803.3 57.6 L803.4 56.6 L803.5 55.6 L803.5 54.6 L803.6 53.7 L803.7 52.7 L803.8 51.7 L803.9 50.7 L804.0 49.7 L804.0 48.7 L804.1 47.8 L804.2 46.8 L804.3 45.8 L804.4 44.8 L804.4 43.8 L804.5 42.8 L804.6 41.8 L804.7 40.8 L804.8 39.9 L804.8 38.9 L804.9 37.9 L805.0 36.9 L805.0 35.9 L805.1 34.9 L805.2 33.9 L805.3 32.9 L805.3 31.9 L805.4 30.9 L805.6 30.0" stroke="#00f" stroke-width="5.2" stroke-dasharray="5.2 4.4"/>
<path d="M110.0 607.7 L112.3 607.5 L114.6 607.2 L116.9 607.0 L119.1 606.8 L121.4 606.5 L123.7 606.3 L126.0 606.1 L128.3 605.8 L130.6 605.6 L132.9 605.4 L135.2 605.1 L137.5 604.9 L139.7 604.7 L142.0 604.5 L144.3 604.2 L146.6 604.0 L148.9 603.7 L151.2 603.5 L153.5 603.3 L155.8 603.0 L158.0 602.8 L160.3 602.6 L162.6 602.3 L164.9 602.1 L167.2 601.9 L169.5 601.6 L171.8 601.4 L174.1 601.1 L176.3 600.9 L178.6 600.6 L180.9 600.4 L183.2 600.2 L185.5 599.9 L187.8 599.7 L190.1 599.4 L192.3 599.2 L194.6 598.9 L196.9 598.7 L199.2 598.4 L201.5 598.1 L203.8 597.9 L206.0 597.6 L208.3 597.4 L210.6 597.1 L212.9 596.8 L215.2 596.6 L217.5 596.3 L219.7 596.0 L222.0 595.8 L224.3 595.5 L226.6 595.2 L228.9 594.9 L231.2 594.7 L233.4 594.4 L235.7 594.1 L238.0 593.8 L240.3 593.5 L242.6 593.2 L244.8 592.9 L247.1 592.6 L249.4 592.3 L251.7 592.0 L254.0 591.7 L256.2 591.4 L258.5 591.1 L260.8 590.8 L263.1 590.5 L265.3 590.2 L267.6 589.9 L269.9 589.6 L272.2 589.2 L274.4 588.9 L276.7 588.6 L279.0 588.3 L281.2 587.9 L283.5 587.6 L285.8 587.2 L288.1 586.9 L290.3 586.6 L292.6 586.2 L294.9 585.9 L297.1 585.5 L299.4 585.1 L301.7 584.8 L303.9 584.4 L306.2 584.0 L308.5 583.7 L310.7 583.3 L313.0 582.9 L315.3 582.5 L317.5 582.1 L319.8 581.8 L322.1 581.4 L324.3 581.0 L326.6 580.6 L328.9 580.2 L331.1 579.7 L333.4 579.3 L335.6 578.9 L337.9 578.5 L340.2 578.1 L342.4 577.6 L344.7 577.2 L346.9 576.8 L349.2 576.3 L351.4 575.9 L353.7 575.4 L355.9 575.0 L358.2 574.5 L360.4 574.1 L362.7 573.6 L364.9 573.1 L367.2 572.6 L369.4 572.2 L371.7 571.7 L373.9 571.2 L376.2 570.7 L378.4 570.2 L380.7 569.7 L382.9 569.2 L385.2 568.7 L387.4 568.1 L389.7 567.6 L391.9 567.1 L394.1 566.5 L396.4 566.0 L398.6 565.5 L400.9 564.9 L403.1 564.4 L405.3 563.8 L407.6 563.2 L409.8 562.6 L412.0 562.1 L414.2 561.5 L416.5 560.9 L418.7 560.3 L420.9 559.7 L423.1 559.0 L425.3 558.4 L427.6 557.8 L429.8 557.1 L432.0 556.5 L434.2 555.8 L436.4 555.2 L438.6 554.5 L440.8 553.8 L443.0 553.1 L445.2 552.4 L447.3 551.7 L449.5 551.0 L451.7 550.3 L453.9 549.5 L456.0 548.8 L458.2 548.0 L460.4 547.2 L462.5 546.4 L464.7 545.7 L466.8 544.9 L469.0 544.0 L471.1 543.2 L473.2 542.4 L475.4 541.5 L477.5 540.7 L479.6 539.8 L481.7 538.9 L483.8 538.0 L485.9 537.1 L488.0 536.2 L490.1 535.3 L492.2 534.3 L494.2 533.4 L496.3 532.4 L498.4 531.4 L500.4 530.4 L502.5 529.4 L504.5 528.4 L506.6 527.3 L508.6 526.3 L510.6 525.2 L512.6 524.1 L514.6 523.0 L516.6 521.9 L518.6 520.8 L520.6 519.6 L522.6 518.5 L524.6 517.3 L526.5 516.1 L528.5 514.9 L530.4 513.7 L532.4 512.4 L534.3 511.2 L536.2 509.9 L538.1 508.6 L540.0 507.3 L541.9 506.0 L543.8 504.7 L545.7 503.3 L547.5 501.9 L549.4 500.5 L551.2 499.1 L553.0 497.7 L554.9 496.3 L556.7 494.8 L558.4 493.3 L560.2 491.8 L562.0 490.3 L563.7 488.8 L565.4 487.2 L567.1 485.7 L568.8 484.1 L570.5 482.5 L572.1 480.9 L573.7 479.2 L575.3 477.6 L576.9 475.9 L578.5 474.2 L580.0 472.5 L581.5 470.8 L583.0 469.1 L584.5 467.3 L586.0 465.5 L587.4 463.8 L588.9 462.0 L590.3 460.2 L591.7 458.4 L593.1 456.6 L594.5 454.8 L595.9 452.9 L597.3 451.1 L598.6 449.3 L600.0 447.4 L601.3 445.5 L602.7 443.7 L604.0 441.8 L605.3 439.9 L606.6 438.1 L607.9 436.2 L609.2 434.3 L610.5 432.4 L611.8 430.5 L613.0 428.6 L614.3 426.7 L615.5 424.7 L616.8 422.8 L618.0 420.9 L619.2 419.0 L620.5 417.0 L621.7 415.1 L622.9 413.1 L624.1 411.1 L625.2 409.2 L626.4 407.2 L627.6 405.2 L628.7 403.2 L629.9 401.2 L631.0 399.2 L632.1 397.2 L633.2 395.2 L634.3 393.2 L635.4 391.2 L636.5 389.1 L637.5 387.1 L638.6 385.0 L639.7 383.0 L640.7 380.9 L641.7 378.9 L642.8 376.8 L643.8 374.7 L644.8 372.7 L645.8 370.6 L646.8 368.5 L647.9 366.4 L648.9 364.4 L649.9 362.3 L650.9 360.2 L652.0 358.2 L653.0 356.1 L654.0 354.1 L655.1 352.0 L656.2 350.0 L657.2 348.0 L658.3 345.9 L659.4 343.9 L660.5 341.9 L661.6 339.9 L662.8 337.9 L663.9 336.0 L665.1 334.0 L666.3 332.1 L667.5 330.2 L668.8 328.3 L670.2 326.4 L671.6 324.6 L673.0 322.8 L674.5 321.0 L676.0 319.3 L677.7 317.7 L679.3 316.1 L681.4 314.8 L681.5 314.8 L681.6 314.8 L681.8 314.7 L681.9 314.7 L682.1 314.7 L682.2 314.7 L682.3 314.6 L682.5 314.6 L682.6 314.6 L682.7 314.6 L682.9 314.5 L683.0 314.5 L683.2 314.5 L683.3 314.5 L683.4 314.4 L683.6 314.4 L683.7 314.4 L683.9 314.4 L684.0 314.3 L684.1 314.3 L684.3 314.3 L684.4 314.3 L684.5 314.2 L684.7 314.2 L684.8 314.2 L685.0 314.1 L685.1 314.1 L685.2 314.1 L685.4 314.1 L685.5 314.0 L685.7 314.0 L685.8 314.0 L685.9 314.0 L686.1 313.9 L686.2 313.9 L686.3 313.9 L686.5 313.9 L686.6 313.8 L686.8 313.8 L686.9 313.8 L687.0 313.8 L687.2 313.7 L687.3 313.7 L687.4 313.7 L687.6 313.7 L687.7 313.6 L687.9 313.6 L688.0 313.6 L688.1 313.5 L688.3 313.5 L688.4 313.5 L688.6 313.5 L688.7 313.4 L688.8 313.4 L689.0 313.4 L689.1 313.4 L689.2 313.3 L689.4 313.3 L689.5 313.3 L689.7 313.3 L689.8 313.2 L689.9 313.2 L690.1 313.2 L690.2 313.2 L690.3 313.1 L690.5 313.1 L690.6 313.1 L690.8 313.1 L690.9 313.0 L691.0 313.0 L691.2 313.0 L691.3 313.0 L691.5 312.9 L691.6 312.9 L691.7 312.9 L691.9 312.8 L692.0 312.8 L692.1 312.8 L692.3 312.8 L692.4 312.7 L692.6 312.7 L692.7 312.7 L692.8 312.7 L693.0 312.6 L693.1 312.6 L693.3 312.6 L693.4 312.6 L693.5 312.5 L693.7 312.5 L693.8 312.5 L693.9 312.5 L694.1 312.4 L694.2 312.4 L694.4 312.4 L694.5 312.4 L694.6 312.3 L694.8 312.3 L694.9 312.3 L695.0 312.3 L695.2 312.2 L695.3 312.2 L695.5 312.2 L695.6 312.2 L695.7 312.1 L695.9 312.1 L696.0 312.1 L696.2 312.0 L696.3 312.0 L696.4 312.0 L696.6 312.0 L696.7 311.9 L696.8 311.9 L697.0 311.9 L697.1 311.9 L697.3 311.8 L697.4 311.8 L697.5 311.8 L697.7 311.8 L697.8 311.7 L698.0 311.7 L698.1 311.7 L698.2 311.7 L698.4 311.6 L698.5 311.6 L698.6 311.6 L698.8 311.6 L698.9 311.5 L699.1 311.5 L699.2 311.5 L699.3 311.5 L699.5 311.4 L699.6 311.4 L699.7 311.4 L699.9 311.4 L700.0 311.3 L700.2 311.3 L700.3 311.3 L700.4 311.3 L700.6 311.2 L700.7 311.2 L700.9 311.2 L701.0 311.1 L701.1 311.1 L701.3 311.1 L701.4 311.1 L701.5 311.0 L701.7 311.0 L701.8 311.0 L702.0 310.9 L702.1 310.9 L702.2 310.9 L702.4 310.8 L702.5 310.8 L702.7 310.8 L702.8 310.8 L702.9 310.7 L703.1 310.7 L703.2 310.7 L703.3 310.6 L703.5 310.6 L703.6 310.6 L703.8 310.6 L703.9 310.5 L704.0 310.5 L704.2 310.5 L704.3 310.4 L704.5 310.4 L704.6 310.4 L704.7 310.3 L704.9 310.3 L705.0 310.3 L705.1 310.3 L705.3 310.2 L705.4 310.2 L705.6 310.2 L705.7 310.1 L705.8 310.1 L706.0 310.1 L706.1 310.0 L706.3 310.0 L706.4 310.0 L706.5 310.0 L706.7 309.9 L706.8 309.9 L706.9 309.9 L707.1 309.8 L707.2 309.8 L707.4 309.8 L707.5 309.8 L707.6 309.7 L707.8 309.7 L707.9 309.7 L708.1 309.6 L708.2 309.6 L708.3 309.6 L708.5 309.6 L708.6 309.5 L708.7 309.5 L708.9 309.5 L709.0 309.4 L709.2 309.4 L709.3 309.4 L709.4 309.4 L709.6 309.3 L709.7 309.3 L709.9 309.3 L710.0 309.2 L710.1 309.2 L710.3 309.2 L710.4 309.2 L710.6 309.1 L710.7 309.1 L710.8 309.1 L711.0 309.0 L711.1 309.0 L711.2 309.0 L711.4 309.0 L711.5 308.9 L711.7 308.9 L711.8 308.9 L711.9 308.8 L712.1 308.8 L712.2 308.8 L712.4 308.8 L712.5 308.7 L712.6 308.7 L712.8 308.7 L712.9 308.6 L713.0 308.6 L713.2 308.6 L713.3 308.6 L713.5 308.5 L713.6 308.5 L713.7 308.5 L713.9 308.5 L714.0 308.4 L714.2 308.4 L714.3 308.4 L714.4 308.3 L714.6 308.3 L714.7 308.3 L714.9 308.3 L715.0 308.2 L715.1 308.2 L715.3 308.2 L715.4 308.2 L715.5 308.1 L715.7 308.1 L715.8 308.1 L716.0 308.0 L716.1 308.0 L716.2 308.0 L716.4 308.0 L716.5 307.9 L716.7 307.9 L716.8 307.9 L716.9 307.9 L717.1 307.8 L717.2 307.8 L717.4 307.8 L717.5 307.7 L717.6 307.7 L717.8 307.7 L717.9 307.7 L718.1 307.6 L718.2 307.6 L718.3 307.6 L718.5 307.6 L718.6 307.5 L718.7 307.5 L718.9 307.5 L719.0 307.5 L719.2 307.4 L719.3 307.4 L719.4 307.4 L719.6 307.3 L719.7 307.3 L719.9 307.3 L720.0 307.3 L720.1 307.2 L720.3 307.2 L720.4 307.2 L720.6 307.2 L720.7 307.1 L720.8 307.1 L721.0 307.1 L721.1 307.1 L721.3 307.0 L721.4 307.0 L721.5 307.0 L721.7 307.0 L721.8 306.9 L722.0 306.9 L722.1 306.9 L722.2 306.9 L722.4 306.8 L722.5 306.8 L722.7 306.8 L722.8 306.7 L723.8 306.6 L724.7 306.1 L725.6 305.6 L726.5 305.0 L727.4 304.4 L728.2 303.8 L729.1 303.2 L729.9 302.5 L730.8 301.9 L731.6 301.3 L732.4 300.6 L733.2 299.9 L734.0 299.3 L734.8 298.6 L735.5 297.9 L736.3 297.2 L737.1 296.6 L737.8 295.9 L738.5 295.2 L739.3 294.4 L740.0 293.7 L740.7 293.0 L741.4 292.3 L742.1 291.5 L742.8 290.8 L743.5 290.1 L744.1 289.3 L744.8 288.6 L745.4 287.8 L746.1 287.0 L746.7 286.2 L747.4 285.4 L748.0 284.6 L748.6 283.8 L749.2 283.0 L749.8 282.2 L750.4 281.4 L751.0 280.5 L751.5 279.7 L752.1 278.8 L752.7 278.0 L753.2 277.2 L753.8 276.3 L754.3 275.4 L754.9 274.6 L755.4 273.7 L755.9 272.9 L756.4 272.0 L756.9 271.1 L757.4 270.2 L757.9 269.4 L758.4 268.5 L758.8 267.6 L759.3 266.7 L759.7 265.8 L760.2 264.9 L760.6 264.0 L761.0 263.1 L761.5 262.2 L761.9 261.3 L762.3 260.4 L762.7 259.4 L763.1 258.5 L763.5 257.6 L763.9 256.7 L764.3 255.8 L764.7 254.8 L765.1 253.9 L765.4 253.0 L765.8 252.0 L766.2 251.1 L766.5 250.1 L766.9 249.2 L767.3 248.3 L767.6 247.4 L768.0 246.5 L768.3 245.6 L768.6 244.6 L769.0 243.7 L769.3 242.8 L769.6 241.9 L769.9 240.9 L770.3 240.0 L770.6 239.1 L770.9 238.1 L771.2 237.2 L771.5 236.2 L771.8 235.3 L772.1 234.4 L772.4 233.4 L772.7 232.5 L773.0 231.5 L773.2 230.6 L773.5 229.6 L773.8 228.7 L774.1 227.7 L774.3 226.8 L774.6 225.8 L774.9 224.8 L775.1 223.9 L775.4 222.9 L775.7 222.0 L775.9 221.0 L776.2 220.0 L776.4 219.1 L776.7 218.1 L776.9 217.1 L777.1 216.2 L777.4 215.2 L777.6 214.2 L777.9 213.3 L778.1 212.3 L778.3 211.3 L778.6 210.4 L778.8 209.4 L779.0 208.4 L779.2 207.5 L779.5 206.5 L779.7 205.5 L779.9 204.5 L780.1 203.6 L780.3 202.6 L780.6 201.6 L780.8 200.6 L781.0 199.7 L781.2 198.7 L781.4 197.7 L781.6 196.7 L781.8 195.8 L782.0 194.8 L782.2 193.8 L782.4 192.8 L782.7 191.9 L782.9 190.9 L783.1 189.9 L783.3 189.0 L783.5 188.0 L783.7 187.0 L783.9 186.0 L784.1 185.1 L784.3 184.1 L784.5 183.1 L784.6 182.1 L784.8 181.2 L785.0 180.2 L785.2 179.2 L785.4 178.3 L785.6 177.3 L785.8 176.3 L786.0 175.3 L786.2 174.4 L786.4 173.4 L786.6 172.4 L786.7 171.5 L786.9 170.5 L787.1 169.5 L787.3 168.5 L787.5 167.6 L787.7 166.6 L787.8 165.6 L788.0 164.7 L788.2 163.7 L788.4 162.7 L788.5 161.8 L788.7 160.8 L788.9 159.8 L789.1 158.8 L789.2 157.9 L789.4 156.9 L789.6 155.9 L789.8 155.0 L789.9 154.0 L790.1 153.0 L790.3 152.1 L790.4 151.1 L790.6 150.1 L790.8 149.1 L790.9 148.2 L791.1 147.2 L791.2 146.2 L791.4 145.3 L791.6 144.3 L791.7 143.3 L791.9 142.4 L792.0 141.4 L792.2 140.4 L792.3 139.4 L792.5 138.5 L792.7 137.5 L792.8 136.5 L793.0 135.6 L793.1 134.6 L793.3 133.6 L793.4 132.7 L793.6 131.7 L793.7 130.7 L793.9 129.7 L794.0 128.8 L794.2 127.8 L794.3 126.8 L794.4 125.9 L794.6 124.9 L794.7 123.9 L794.9 122.9 L795.0 122.0 L795.1 121.0 L795.3 120.0 L795.4 119.1 L795.6 118.1 L795.7 117.1 L795.8 116.2 L796.0 115.2 L796.1 114.2 L796.2 113.2 L796.4 112.3 L796.5 111.3 L796.6 110.3 L796.8 109.4 L796.9 108.4 L797.0 107.4 L797.1 106.4 L797.3 105.5 L797.4 104.5 L797.5 103.5 L797.6 102.5 L797.8 101.6 L797.9 100.6 L798.0 99.6 L798.1 98.7 L798.3 97.7 L798.4 96.7 L798.5 95.7 L798.6 94.8 L798.7 93.8 L798.8 92.8 L799.0 91.8 L799.1 90.9 L799.2 89.9 L799.3 88.9 L799.4 87.9 L799.5 87.0 L799.6 86.0 L799.7 85.0 L799.9 84.0 L800.0 83.1 L800.1 82.1 L800.2 81.1 L800.3 80.1 L800.4 79.1 L800.5 78.2 L800.6 77.2 L800.7 76.2 L800.8 75.2 L800.9 74.3 L801.0 73.3 L801.1 72.3 L801.2 71.3 L801.3 70.3 L801.4 69.4 L801.5 68.4 L801.6 67.4 L801.7 66.4 L801.8 65.4 L801.9 64.5 L802.0 63.5 L802.1 62.5 L802.1 61.5 L802.2 60.5 L802.3 59.6 L802.4 58.6 L802.5 57.6 L802.6 56.6 L802.7 55.6 L802.8 54.6 L802.9 53.7 L802.9 52.7 L803.0 51.7 L803.1 50.7 L803.2 49.7 L803.3 48.7 L803.3 47.8 L803.4 46.8 L803.5 45.8 L803.6 44.8 L803.7 43.8 L803.7 42.8 L803.8 41.8 L803.9 40.8 L804.0 39.9 L804.0 38.9 L804.1 37.9 L804.2 36.9 L804.3 35.9 L804.3 34.9 L804.4 33.9 L804.5 32.9 L804.6 31.9 L804.6 30.9 L804.8 30.0" stroke="#00f" stroke-width="5.2" stroke-dasharray="19.2 19.2"/>
<path d="M110.0 607.7 L112.3 607.5 L114.6 607.2 L116.9 607.0 L119.1 606.8 L121.4 606.5 L123.7 606.3 L126.0 606.1 L128.3 605.8 L130.6 605.6 L132.9 605.4 L135.2 605.1 L137.5 604.9 L139.7 604.7 L142.0 604.5 L144.3 604.2 L146.6 604.0 L148.9 603.7 L151.2 603.5 L153.5 603.3 L155.8 603.0 L158.0 602.8 L160.3 602.6 L162.6 602.3 L164.9 602.1 L167.2 601.9 L169.5 601.6 L171.8 601.4 L174.1 601.1 L176.3 600.9 L178.6 600.6 L180.9 600.4 L183.2 600.2 L185.5 599.9 L187.8 599.7 L190.1 599.4 L192.3 599.2 L194.6 598.9 L196.9 598.7 L199.2 598.4 L201.5 598.1 L203.8 597.9 L206.0 597.6 L208.3 597.4 L210.6 597.1 L212.9 596.8 L215.2 596.6 L217.5 596.3 L219.7 596.0 L222.0 595.8 L224.3 595.5 L226.6 595.2 L228.9 594.9 L231.2 594.7 L233.4 594.4 L235.7 594.1 L238.0 593.8 L240.3 593.5 L242.6 593.2 L244.8 592.9 L247.1 592.6 L249.4 592.3 L251.7 592.0 L254.0 591.7 L256.2 591.4 L258.5 591.1 L260.8 590.8 L263.1 590.5 L265.3 590.2 L267.6 589.9 L269.9 589.6 L272.2 589.2 L274.4 588.9 L276.7 588.6 L279.0 588.3 L281.2 587.9 L283.5 587.6 L285.8 587.2 L288.1 586.9 L290.3 586.6 L292.6 586.2 L294.9 585.9 L297.1 585.5 L299.4 585.1 L301.7 584.8 L303.9 584.4 L306.2 584.0 L308.5 583.7 L310.7 583.3 L313.0 582.9 L315.3 582.5 L317.5 582.1 L319.8 581.8 L322.1 581.4 L324.3 581.0 L326.6 580.6 L328.9 580.2 L331.1 579.7 L333.4 579.3 L335.6 578.9 L337.9 578.5 L340.2 578.1 L342.4 577.6 L344.7 577.2 L346.9 576.8 L349.2 576.3 L351.4 575.9 L353.7 575.4 L355.9 575.0 L358.2 574.5 L360.4 574.1 L362.7 573.6 L364.9 573.1 L367.2 572.6 L369.4 572.2 L371.7 571.7 L373.9 571.2 L376.2 570.7 L378.4 570.2 L380.7 569.7 L382.9 569.2 L385.2 568.7 L387.4 568.1 L389.7 567.6 L391.9 567.1 L394.1 566.5 L396.4 566.0 L398.6 565.5 L400.9 564.9 L403.1 564.4 L405.3 563.8 L407.6 563.2 L409.8 562.6 L412.0 562.1 L414.2 561.5 L416.5 560.9 L418.7 560.3 L420.9 559.7 L423.1 559.0 L425.3 558.4 L427.6 557.8 L429.8 557.1 L432.0 556.5 L434.2 555.8 L436.4 555.2 L438.6 554.5 L440.8 553.8 L443.0 553.1 L445.2 552.4 L447.3 551.7 L449.5 551.0 L451.7 550.3 L453.9 549.5 L456.0 548.8 L458.2 548.0 L460.4 547.2 L462.5 546.4 L464.7 545.7 L466.8 544.9 L469.0 544.0 L471.1 543.2 L473.2 542.4 L475.4 541.5 L477.5 540.7 L479.6 539.8 L481.7 538.9 L483.8 538.0 L485.9 537.1 L488.0 536.2 L490.1 535.3 L492.2 534.3 L494.2 533.4 L496.3 532.4 L498.4 531.4 L500.4 530.4 L502.5 529.4 L504.5 528.4 L506.6 527.3 L508.6 526.3 L510.6 525.2 L512.6 524.1 L514.6 523.0 L516.6 521.9 L518.6 520.8 L520.6 519.6 L522.6 518.5 L524.6 517.3 L526.5 516.1 L528.5 514.9 L530.4 513.7 L532.4 512.4 L534.3 511.2 L536.2 509.9 L538.1 508.6 L540.0 507.3 L541.9 506.0 L543.8 504.7 L545.7 503.3 L547.5 501.9 L549.4 500.5 L551.2 499.1 L553.0 497.7 L554.9 496.3 L556.7 494.8 L558.4 493.3 L560.2 491.8 L562.0 490.3 L563.7 488.8 L565.4 487.2 L567.1 485.7 L568.8 484.1 L570.5 482.5 L572.1 480.9 L573.7 479.2 L575.3 477.6 L576.9 475.9 L578.5 474.2 L580.0 472.5 L581.5 470.8 L583.0 469.1 L584.5 467.3 L586.0 465.5 L587.4 463.8 L588.9 462.0 L590.3 460.2 L591.7 458.4 L593.1 456.6 L594.5 454.8 L595.9 452.9 L597.3 451.1 L598.6 449.3 L600.0 447.4 L601.3 445.5 L602.7 443.7 L604.0 441.8 L605.3 439.9 L606.6 438.1 L607.9 436.2 L609.2 434.3 L610.5 432.4 L611.8 430.5 L613.0 428.6 L614.3 426.7 L615.5 424.7 L616.8 422.8 L618.0 420.9 L619.2 419.0 L620.5 417.0 L621.7 415.1 L622.9 413.1 L624.1 411.1 L625.2 409.2 L626.4 407.2 L627.6 405.2 L628.7 403.2 L629.9 401.2 L631.0 399.2 L632.1 397.2 L633.2 395.2 L634.3 393.2 L635.4 391.2 L636.5 389.1 L637.5 387.1 L638.6 385.0 L639.7 383.0 L640.7 380.9 L641.7 378.9 L642.8 376.8 L643.8 374.7 L644.8 372.7 L645.8 370.6 L646.8 368.5 L647.9 366.4 L648.9 364.4 L649.9 362.3 L650.9 360.2 L652.0 358.2 L653.0 356.1 L654.0 354.1 L655.1 352.0 L656.2 350.0 L657.2 348.0 L658.3 345.9 L659.4 343.9 L660.5 341.9 L661.6 339.9 L662.8 337.9 L663.9 336.0 L665.1 334.0 L666.3 332.1 L667.5 330.2 L668.8 328.3 L670.1 326.4 L671.4 324.6 L672.8 322.8 L674.2 321.0 L675.7 319.3 L677.3 317.7 L678.9 316.1 L680.9 314.8 L681.0 314.8 L681.2 314.8 L681.3 314.7 L681.5 314.7 L681.6 314.6 L681.7 314.6 L681.9 314.6 L682.0 314.5 L682.1 314.5 L682.3 314.5 L682.4 314.4 L682.6 314.4 L682.7 314.3 L682.8 314.3 L683.0 314.3 L683.1 314.2 L683.2 314.2 L683.4 314.2 L683.5 314.1 L683.6 314.1 L683.8 314.1 L683.9 314.0 L684.1 314.0 L684.2 313.9 L684.3 313.9 L684.5 313.9 L684.6 313.8 L684.7 313.8 L684.9 313.8 L685.0 313.7 L685.2 313.7 L685.3 313.6 L685.4 313.6 L685.6 313.6 L685.7 313.5 L685.8 313.5 L686.0 313.5 L686.1 313.4 L686.3 313.4 L686.4 313.3 L686.5 313.3 L686.7 313.3 L686.8 313.2 L686.9 313.2 L687.1 313.2 L687.2 313.1 L687.3 313.1 L687.5 313.0 L687.6 313.0 L687.8 313.0 L687.9 312.9 L688.0 312.9 L688.2 312.9 L688.3 312.8 L688.4 312.8 L688.6 312.8 L688.7 312.7 L688.9 312.7 L689.0 312.6 L689.1 312.6 L689.3 312.6 L689.4 312.5 L689.5 312.5 L689.7 312.5 L689.8 312.4 L690.0 312.4 L690.1 312.3 L690.2 312.3 L690.4 312.3 L690.5 312.2 L690.6 312.2 L690.8 312.2 L690.9 312.1 L691.0 312.1 L691.2 312.0 L691.3 312.0 L691.5 312.0 L691.6 311.9 L691.7 311.9 L691.9 311.9 L692.0 311.8 L692.1 311.8 L692.3 311.8 L692.4 311.7 L692.6 311.7 L692.7 311.6 L692.8 311.6 L693.0 311.6 L693.1 311.5 L693.2 311.5 L693.4 311.5 L693.5 311.4 L693.7 311.4 L693.8 311.3 L693.9 311.3 L694.1 311.3 L694.2 311.2 L694.3 311.2 L694.5 311.2 L694.6 311.1 L694.8 311.1 L694.9 311.1 L695.0 311.0 L695.2 311.0 L695.3 310.9 L695.4 310.9 L695.6 310.9 L695.7 310.8 L695.8 310.8 L696.0 310.8 L696.1 310.7 L696.3 310.7 L696.4 310.6 L696.5 310.6 L696.7 310.6 L696.8 310.5 L696.9 310.5 L697.1 310.5 L697.2 310.4 L697.4 310.4 L697.5 310.4 L697.6 310.3 L697.8 310.3 L697.9 310.2 L698.0 310.2 L698.2 310.2 L698.3 310.1 L698.5 310.1 L698.6 310.1 L698.7 310.0 L698.9 310.0 L699.0 310.0 L699.1 309.9 L699.3 309.9 L699.4 309.8 L699.6 309.8 L699.7 309.8 L699.8 309.7 L700.0 309.7 L700.1 309.7 L700.2 309.6 L700.4 309.6 L700.5 309.6 L700.6 309.5 L700.8 309.5 L700.9 309.4 L701.1 309.4 L701.2 309.4 L701.3 309.3 L701.5 309.3 L701.6 309.3 L701.7 309.2 L701.9 309.2 L702.0 309.2 L702.2 309.1 L702.3 309.1 L702.4 309.1 L702.6 309.0 L702.7 309.0 L702.8 308.9 L703.0 308.9 L703.1 308.9 L703.3 308.8 L703.4 308.8 L703.5 308.8 L703.7 308.7 L703.8 308.7 L703.9 308.7 L704.1 308.6 L704.2 308.6 L704.4 308.5 L704.5 308.5 L704.6 308.5 L704.8 308.4 L704.9 308.4 L705.0 308.4 L705.2 308.3 L705.3 308.3 L705.5 308.3 L705.6 308.2 L705.7 308.2 L705.9 308.2 L706.0 308.1 L706.1 308.1 L706.3 308.1 L706.4 308.0 L706.6 308.0 L706.7 307.9 L706.8 307.9 L707.0 307.9 L707.1 307.8 L707.2 307.8 L707.4 307.8 L707.5 307.7 L707.7 307.7 L707.8 307.7 L707.9 307.6 L708.1 307.6 L708.2 307.6 L708.3 307.5 L708.5 307.5 L708.6 307.5 L708.8 307.4 L708.9 307.4 L709.0 307.4 L709.2 307.3 L709.3 307.3 L709.4 307.2 L709.6 307.2 L709.7 307.2 L709.9 307.1 L710.0 307.1 L710.1 307.1 L710.3 307.0 L710.4 307.0 L710.5 307.0 L710.7 306.9 L710.8 306.9 L711.0 306.9 L711.1 306.8 L711.2 306.8 L711.4 306.8 L711.5 306.7 L711.6 306.7 L711.8 306.7 L711.9 306.6 L712.1 306.6 L712.2 306.6 L712.3 306.5 L712.5 306.5 L712.6 306.5 L712.8 306.4 L712.9 306.4 L713.0 306.4 L713.2 306.3 L713.3 306.3 L713.4 306.3 L713.6 306.2 L713.7 306.2 L713.9 306.2 L714.0 306.1 L714.1 306.1 L714.3 306.1 L714.4 306.0 L714.5 306.0 L714.7 306.0 L714.8 305.9 L715.0 305.9 L715.1 305.9 L715.2 305.8 L715.4 305.8 L715.5 305.8 L715.6 305.7 L715.8 305.7 L715.9 305.7 L716.1 305.6 L716.2 305.6 L716.3 305.6 L716.5 305.5 L716.6 305.5 L716.8 305.5 L716.9 305.4 L717.0 305.4 L717.2 305.4 L717.3 305.3 L717.4 305.3 L717.6 305.3 L717.7 305.2 L717.9 305.2 L718.0 305.2 L718.1 305.1 L718.3 305.1 L718.4 305.1 L718.5 305.0 L718.7 305.0 L718.8 305.0 L719.0 304.9 L719.1 304.9 L719.2 304.9 L719.4 304.8 L719.5 304.8 L719.7 304.8 L719.8 304.7 L719.9 304.7 L720.1 304.7 L720.2 304.6 L720.3 304.6 L720.5 304.6 L720.6 304.5 L720.8 304.5 L720.9 304.5 L721.0 304.5 L721.2 304.4 L721.3 304.4 L721.5 304.4 L721.6 304.3 L721.7 304.3 L721.9 304.3 L722.0 304.2 L723.0 304.1 L723.9 303.5 L724.8 303.0 L725.7 302.4 L726.5 301.8 L727.4 301.2 L728.2 300.7 L729.0 300.1 L729.8 299.5 L730.6 298.9 L731.4 298.2 L732.2 297.6 L733.0 297.0 L733.7 296.3 L734.5 295.7 L735.2 295.1 L736.0 294.4 L736.7 293.7 L737.4 293.1 L738.1 292.4 L738.8 291.7 L739.5 291.0 L740.2 290.3 L740.9 289.6 L741.5 288.9 L742.2 288.2 L742.8 287.5 L743.5 286.7 L744.1 286.0 L744.7 285.3 L745.3 284.5 L746.0 283.8 L746.5 283.0 L747.1 282.3 L747.7 281.5 L748.3 280.7 L748.9 279.9 L749.4 279.2 L750.0 278.4 L750.5 277.6 L751.1 276.8 L751.6 276.0 L752.1 275.2 L752.6 274.4 L753.2 273.6 L753.7 272.7 L754.2 271.9 L754.6 271.1 L755.1 270.2 L755.6 269.4 L756.1 268.6 L756.5 267.7 L757.0 266.9 L757.5 266.0 L757.9 265.2 L758.4 264.3 L758.8 263.4 L759.2 262.6 L759.6 261.7 L760.1 260.8 L760.5 260.0 L760.9 259.1 L761.3 258.2 L761.7 257.3 L762.1 256.4 L762.5 255.5 L762.9 254.6 L763.2 253.7 L763.6 252.8 L764.0 251.9 L764.4 251.0 L764.7 250.1 L765.1 249.2 L765.4 248.3 L765.8 247.4 L766.1 246.5 L766.5 245.6 L766.8 244.6 L767.1 243.7 L767.5 242.8 L767.8 241.9 L768.1 240.9 L768.4 240.0 L768.8 239.1 L769.1 238.1 L769.4 237.2 L769.7 236.2 L770.0 235.3 L770.3 234.4 L770.6 233.4 L770.9 232.5 L771.1 231.5 L771.4 230.6 L771.7 229.6 L772.0 228.7 L772.3 227.7 L772.5 226.8 L772.8 225.8 L773.1 224.8 L773.3 223.9 L773.6 222.9 L773.8 222.0 L774.1 221.0 L774.3 220.0 L774.6 219.1 L774.8 218.1 L775.1 217.1 L775.3 216.2 L775.6 215.2 L775.8 214.2 L776.0 213.3 L776.3 212.3 L776.5 211.3 L776.7 210.4 L777.0 209.4 L777.2 208.4 L777.4 207.5 L777.6 206.5 L777.9 205.5 L778.1 204.5 L778.3 203.6 L778.5 202.6 L778.7 201.6 L779.0 200.6 L779.2 199.7 L779.4 198.7 L779.6 197.7 L779.8 196.7 L780.0 195.8 L780.2 194.8 L780.4 193.8 L780.6 192.8 L780.8 191.9 L781.0 190.9 L781.2 189.9 L781.4 189.0 L781.6 188.0 L781.8 187.0 L782.0 186.0 L782.2 185.1 L782.4 184.1 L782.6 183.1 L782.8 182.1 L783.0 181.2 L783.2 180.2 L783.4 179.2 L783.6 178.3 L783.8 177.3 L784.0 176.3 L784.2 175.3 L784.4 174.4 L784.5 173.4 L784.7 172.4 L784.9 171.5 L785.1 170.5 L785.3 169.5 L785.5 168.5 L785.7 167.6 L785.8 166.6 L786.0 165.6 L786.2 164.7 L786.4 163.7 L786.5 162.7 L786.7 161.8 L786.9 160.8 L787.1 159.8 L787.2 158.8 L787.4 157.9 L787.6 156.9 L787.8 155.9 L787.9 155.0 L788.1 154.0 L788.3 153.0 L788.4 152.1 L788.6 151.1 L788.8 150.1 L788.9 149.1 L789.1 148.2 L789.3 147.2 L789.4 146.2 L789.6 145.3 L789.7 144.3 L789.9 143.3 L790.1 142.4 L790.2 141.4 L790.4 140.4 L790.5 139.4 L790.7 138.5 L790.8 137.5 L791.0 136.5 L791.1 135.6 L791.3 134.6 L791.4 133.6 L791.6 132.7 L791.7 131.7 L791.9 130.7 L792.0 129.7 L792.2 128.8 L792.3 127.8 L792.5 126.8 L792.6 125.9 L792.8 124.9 L792.9 123.9 L793.0 122.9 L793.2 122.0 L793.3 121.0 L793.5 120.0 L793.6 119.1 L793.7 118.1 L793.9 117.1 L794.0 116.2 L794.1 115.2 L794.3 114.2 L794.4 113.2 L794.5 112.3 L794.7 111.3 L794.8 110.3 L794.9 109.4 L795.1 108.4 L795.2 107.4 L795.3 106.4 L795.5 105.5 L795.6 104.5 L795.7 103.5 L795.8 102.5 L795.9 101.6 L796.1 100.6 L796.2 99.6 L796.3 98.7 L796.4 97.7 L796.6 96.7 L796.7 95.7 L796.8 94.8 L796.9 93.8 L797.0 92.8 L797.1 91.8 L797.3 90.9 L797.4 89.9 L797.5 88.9 L797.6 87.9 L797.7 87.0 L797.8 86.0 L797.9 85.0 L798.0 84.0 L798.1 83.1 L798.2 82.1 L798.4 81.1 L798.5 80.1 L798.6 79.1 L798.7 78.2 L798.8 77.2 L798.9 76.2 L799.0 75.2 L799.1 74.3 L799.2 73.3 L799.3 72.3 L799.4 71.3 L799.5 70.3 L799.6 69.4 L799.7 68.4 L799.8 67.4 L799.9 66.4 L800.0 65.4 L800.0 64.5 L800.1 63.5 L800.2 62.5 L800.3 61.5 L800.4 60.5 L800.5 59.6 L800.6 58.6 L800.7 57.6 L800.8 56.6 L800.9 55.6 L800.9 54.6 L801.0 53.7 L801.1 52.7 L801.2 51.7 L801.3 50.7 L801.4 49.7 L801.4 48.7 L801.5 47.8 L801.6 46.8 L801.7 45.8 L801.8 44.8 L801.8 43.8 L801.9 42.8 L802.0 41.8 L802.1 40.8 L802.2 39.9 L802.2 38.9 L802.3 37.9 L802.4 36.9 L802.4 35.9 L802.5 34.9 L802.6 33.9 L802.7 32.9 L802.7 31.9 L802.8 30.9 L803.0 30.0" stroke="#00f" stroke-width="5.2"/>
<path d="M110.0 608.0 L112.3 607.6 L114.6 607.4 L117.0 607.2 L119.3 607.0 L121.6 606.8 L124.0 606.6 L126.3 606.4 L128.6 606.2 L131.0 606.0 L133.3 605.8 L135.6 605.6 L137.9 605.4 L140.3 605.1 L142.6 604.9 L144.9 604.7 L147.3 604.5 L149.6 604.3 L151.9 604.0 L154.2 603.8 L156.6 603.6 L158.9 603.4 L161.2 603.1 L163.6 602.9 L165.9 602.7 L168.2 602.4 L170.5 602.2 L172.9 602.0 L175.2 601.7 L177.5 601.5 L179.9 601.2 L182.2 601.0 L184.5 600.7 L186.8 600.5 L189.2 600.2 L191.5 600.0 L193.8 599.7 L196.1 599.5 L198.5 599.2 L200.8 598.9 L203.1 598.7 L205.4 598.4 L207.8 598.1 L210.1 597.9 L212.4 597.6 L214.7 597.3 L217.1 597.1 L219.4 596.8 L221.7 596.5 L224.0 596.2 L226.4 595.9 L228.7 595.6 L231.0 595.4 L233.3 595.1 L235.6 594.8 L238.0 594.5 L240.3 594.2 L242.6 593.9 L244.9 593.6 L247.2 593.3 L249.6 593.0 L251.9 592.7 L254.2 592.3 L256.5 592.0 L258.8 591.7 L261.2 591.4 L263.5 591.1 L265.8 590.8 L268.1 590.4 L270.4 590.1 L272.7 589.8 L275.0 589.4 L277.4 589.1 L279.7 588.8 L282.0 588.4 L284.3 588.1 L286.6 587.7 L288.9 587.4 L291.2 587.0 L293.6 586.7 L295.9 586.3 L298.2 585.9 L300.5 585.6 L302.8 585.2 L305.1 584.8 L307.4 584.5 L309.7 584.1 L312.0 583.7 L314.3 583.3 L316.6 583.0 L319.0 582.6 L321.3 582.2 L323.6 581.8 L325.9 581.4 L328.2 581.0 L330.5 580.6 L332.8 580.2 L335.1 579.8 L337.4 579.4 L339.7 579.0 L342.0 578.5 L344.3 578.1 L346.6 577.7 L348.9 577.3 L351.2 576.9 L353.5 576.4 L355.8 576.0 L358.1 575.5 L360.4 575.1 L362.7 574.7 L365.0 574.2 L367.3 573.8 L369.5 573.3 L371.8 572.8 L374.1 572.4 L376.4 571.9 L378.7 571.5 L381.0 571.0 L383.3 570.5 L385.6 570.0 L387.9 569.5 L390.2 569.1 L392.4 568.6 L394.7 568.1 L397.0 567.6 L399.3 567.1 L401.6 566.6 L403.9 566.1 L406.1 565.6 L408.4 565.0 L410.7 564.5 L413.0 564.0 L415.3 563.5 L417.5 562.9 L419.8 562.4 L422.1 561.8 L424.4 561.3 L426.6 560.7 L428.9 560.2 L431.2 559.6 L433.4 559.0 L435.7 558.4 L437.9 557.8 L440.2 557.2 L442.5 556.6 L444.7 556.0 L447.0 555.4 L449.2 554.8 L451.5 554.2 L453.7 553.5 L456.0 552.9 L458.2 552.2 L460.4 551.5 L462.7 550.9 L464.9 550.2 L467.1 549.5 L469.4 548.8 L471.6 548.1 L473.8 547.4 L476.0 546.7 L478.3 545.9 L480.5 545.2 L482.7 544.4 L484.9 543.7 L487.1 542.9 L489.3 542.1 L491.5 541.3 L493.7 540.5 L495.9 539.7 L498.1 538.9 L500.3 538.1 L502.4 537.2 L504.6 536.4 L506.8 535.5 L509.0 534.6 L511.1 533.8 L513.3 532.9 L515.5 532.0 L517.6 531.0 L519.8 530.1 L521.9 529.2 L524.1 528.2 L526.2 527.2 L528.3 526.2 L530.5 525.3 L532.6 524.2 L534.7 523.2 L536.8 522.2 L538.9 521.1 L541.0 520.1 L543.1 519.0 L545.2 517.9 L547.3 516.8 L549.4 515.7 L551.5 514.6 L553.5 513.5 L555.6 512.3 L557.6 511.1 L559.7 510.0 L561.7 508.8 L563.7 507.6 L565.7 506.4 L567.7 505.1 L569.7 503.9 L571.7 502.6 L573.6 501.3 L575.6 500.1 L577.6 498.8 L579.5 497.4 L581.4 496.1 L583.3 494.8 L585.2 493.4 L587.1 492.0 L589.0 490.6 L590.9 489.2 L592.7 487.8 L594.5 486.4 L596.4 484.9 L598.2 483.5 L600.0 482.0 L601.7 480.5 L603.5 479.0 L605.2 477.5 L607.0 475.9 L608.7 474.4 L610.4 472.8 L612.1 471.2 L613.8 469.6 L615.4 468.0 L617.0 466.4 L618.7 464.7 L620.3 463.1 L621.8 461.4 L623.4 459.7 L625.0 458.0 L626.5 456.3 L628.0 454.5 L629.5 452.8 L631.0 451.0 L632.4 449.2 L633.8 447.4 L635.2 445.6 L636.6 443.7 L638.0 441.9 L639.3 440.0 L640.7 438.1 L642.0 436.2 L643.3 434.2 L644.5 432.3 L645.8 430.3 L647.0 428.4 L648.2 426.4 L649.3 424.4 L650.5 422.3 L651.6 420.3 L652.7 418.2 L653.8 416.1 L654.8 414.0 L655.8 411.9 L656.8 409.8 L657.8 407.6 L658.7 405.4 L659.7 403.3 L660.6 401.0 L661.4 398.8 L662.3 396.6 L663.1 394.4 L663.9 392.1 L664.7 389.8 L665.5 387.6 L666.2 385.3 L667.0 383.0 L667.7 380.7 L668.4 378.4 L669.0 376.1 L669.7 373.8 L670.3 371.5 L670.9 369.2 L671.5 366.9 L672.1 364.5 L672.7 362.2 L673.3 359.9 L673.8 357.6 L674.4 355.3 L674.9 353.0 L675.4 350.8 L675.9 348.5 L676.4 346.2 L676.9 344.0 L677.3 341.7 L677.8 339.5 L678.2 337.2 L678.7 335.0 L679.1 332.8 L679.4 330.5 L679.8 328.3 L680.1 326.1 L680.4 323.8 L680.6 321.6 L680.4 319.0 L680.7 317.7 L680.6 316.7 L680.4 315.7 L680.0 314.9 L679.6 314.1 L679.0 313.3 L678.4 312.7 L677.7 312.0 L676.9 311.4 L676.0 310.7 L675.1 310.1 L674.2 309.5 L673.4 308.9 L672.5 308.3 L671.6 307.6 L670.7 307.0 L669.9 306.3 L669.0 305.6 L668.2 304.9 L667.4 304.2 L666.5 303.5 L665.7 302.8 L664.9 302.1 L664.1 301.3 L663.4 300.6 L662.6 299.8 L661.9 299.1 L661.1 298.3 L660.4 297.5 L659.7 296.7 L659.0 295.9 L658.3 295.1 L657.7 294.3 L657.2 293.5 L656.6 292.6 L656.1 291.8 L655.6 290.9 L655.1 290.1 L654.7 289.2 L654.2 288.4 L653.7 287.5 L653.3 286.6 L652.9 285.7 L652.4 284.8 L652.0 284.0 L651.6 283.1 L651.2 282.1 L650.9 281.2 L650.5 280.3 L650.1 279.4 L649.8 278.5 L649.4 277.5 L649.1 276.6 L648.8 275.6 L648.5 274.7 L648.2 273.7 L647.9 272.8 L647.6 271.8 L647.3 270.9 L647.0 269.9 L646.8 268.9 L646.5 268.0 L646.2 267.0 L646.0 266.0 L645.7 265.0 L645.5 264.0 L645.3 263.0 L645.0 262.1 L644.8 261.1 L644.6 260.1 L644.4 259.1 L644.2 258.1 L644.0 257.1 L643.8 256.1 L643.6 255.1 L643.4 254.1 L643.2 253.1 L643.0 252.0 L642.8 251.0 L642.7 250.0 L642.5 249.0 L642.3 248.0 L642.1 247.0 L642.0 246.0 L641.8 245.0 L641.6 244.0 L641.4 243.0 L641.3 242.0 L641.1 241.0 L640.9 239.9 L640.8 238.9 L640.6 237.9 L640.4 236.9 L640.3 235.9 L640.1 234.9 L640.0 233.9 L639.8 232.9 L639.6 231.9 L639.5 230.9 L639.3 229.9 L639.2 228.9 L639.0 227.9 L638.9 226.9 L638.7 225.9 L638.6 224.9 L638.4 223.8 L638.3 222.8 L638.1 221.8 L638.0 220.8 L637.8 219.8 L637.7 218.8 L637.5 217.8 L637.4 216.8 L637.2 215.8 L637.1 214.8 L637.0 213.8 L636.8 212.8 L636.7 211.8 L636.5 210.8 L636.4 209.8 L636.3 208.8 L636.1 207.8 L636.0 206.8 L635.9 205.8 L635.7 204.8 L635.6 203.8 L635.5 202.8 L635.3 201.8 L635.2 200.8 L635.1 199.8 L634.9 198.8 L634.8 197.8 L634.7 196.8 L634.6 195.8 L634.4 194.8 L634.3 193.8 L634.2 192.8 L634.1 191.8 L634.0 190.8 L633.8 189.8 L633.7 188.8 L633.6 187.8 L633.5 186.8 L633.4 185.8 L633.2 184.8 L633.1 183.7 L633.0 182.7 L632.9 181.7 L632.8 180.7 L632.7 179.7 L632.5 178.7 L632.4 177.7 L632.3 176.7 L632.2 175.7 L632.1 174.7 L632.0 173.7 L631.9 172.7 L631.8 171.7 L631.7 170.7 L631.6 169.7 L631.5 168.7 L631.4 167.7 L631.3 166.7 L631.1 165.7 L631.0 164.7 L630.9 163.7 L630.8 162.7 L630.7 161.7 L630.6 160.7 L630.5 159.7 L630.4 158.7 L630.3 157.7 L630.2 156.7 L630.1 155.7 L630.0 154.7 L629.9 153.7 L629.9 152.7 L629.8 151.7 L629.7 150.7 L629.6 149.7 L629.5 148.7 L629.4 147.7 L629.3 146.7 L629.2 145.7 L629.1 144.7 L629.0 143.7 L628.9 142.7 L628.8 141.7 L628.7 140.7 L628.7 139.7 L628.6 138.7 L628.5 137.7 L628.4 136.7 L628.3 135.7 L628.2 134.7 L628.1 133.7 L628.0 132.7 L628.0 131.7 L627.9 130.7 L627.8 129.7 L627.7 128.7 L627.6 127.7 L627.5 126.7 L627.5 125.7 L627.4 124.7 L627.3 123.7 L627.2 122.7 L627.1 121.7 L627.0 120.7 L627.0 119.7 L626.9 118.7 L626.8 117.7 L626.7 116.7 L626.6 115.7 L626.6 114.7 L626.5 113.7 L626.4 112.7 L626.3 111.7 L626.3 110.7 L626.2 109.7 L626.1 108.7 L626.0 107.7 L625.9 106.7 L625.9 105.7 L625.8 104.7 L625.7 103.7 L625.6 102.7 L625.6 101.7 L625.5 100.7 L625.4 99.7 L625.3 98.7 L625.3 97.7 L625.2 96.7 L625.1 95.7 L625.1 94.7 L625.0 93.6 L624.9 92.6 L624.8 91.6 L624.8 90.6 L624.7 89.6 L624.6 88.6 L624.5 87.6 L624.5 86.6 L624.4 85.6 L624.3 84.6 L624.3 83.6 L624.2 82.6 L624.1 81.6 L624.1 80.6 L624.0 79.6 L623.9 78.6 L623.8 77.5 L623.8 76.5 L623.7 75.5 L623.6 74.5 L623.6 73.5 L623.5 72.5 L623.4 71.5 L623.4 70.5 L623.3 69.5 L623.2 68.5 L623.2 67.5 L623.1 66.4 L623.0 65.4 L622.9 64.4 L622.9 63.4 L622.8 62.4 L622.7 61.4 L622.7 60.4 L622.6 59.4 L622.5 58.4 L622.5 57.3 L622.4 56.3 L622.3 55.3 L622.3 54.3 L622.2 53.3 L622.1 52.3 L622.1 51.3 L622.0 50.3 L621.9 49.2 L621.8 48.2 L621.8 47.2 L621.7 46.2 L621.6 45.2 L621.6 44.2 L621.5 43.1 L621.4 42.1 L621.4 41.1 L621.3 40.1 L621.2 39.1 L621.2 38.1 L621.1 37.0 L621.0 36.0 L621.0 35.0 L620.9 34.0 L620.8 33.0 L620.7 32.0 L620.7 30.9 L620.6 30.0" stroke="#000" stroke-width="5.2" stroke-dasharray="5.2 4.4"/>
<path d="M110.0 608.0 L112.3 607.6 L114.6 607.4 L117.0 607.2 L119.3 607.0 L121.6 606.8 L124.0 606.6 L126.3 606.4 L128.6 606.2 L131.0 606.0 L133.3 605.8 L135.6 605.6 L137.9 605.4 L140.3 605.1 L142.6 604.9 L144.9 604.7 L147.3 604.5 L149.6 604.3 L151.9 604.0 L154.2 603.8 L156.6 603.6 L158.9 603.4 L161.2 603.1 L163.6 602.9 L165.9 602.7 L168.2 602.4 L170.5 602.2 L172.9 602.0 L175.2 601.7 L177.5 601.5 L179.9 601.2 L182.2 601.0 L184.5 600.7 L186.8 600.5 L189.2 600.2 L191.5 600.0 L193.8 599.7 L196.1 599.5 L198.5 599.2 L200.8 598.9 L203.1 598.7 L205.4 598.4 L207.8 598.1 L210.1 597.9 L212.4 597.6 L214.7 597.3 L217.1 597.1 L219.4 596.8 L221.7 596.5 L224.0 596.2 L226.4 595.9 L228.7 595.6 L231.0 595.4 L233.3 595.1 L235.6 594.8 L238.0 594.5 L240.3 594.2 L242.6 593.9 L244.9 593.6 L247.2 593.3 L249.6 593.0 L251.9 592.7 L254.2 592.3 L256.5 592.0 L258.8 591.7 L261.2 591.4 L263.5 591.1 L265.8 590.8 L268.1 590.4 L270.4 590.1 L272.7 589.8 L275.0 589.4 L277.4 589.1 L279.7 588.8 L282.0 588.4 L284.3 588.1 L286.6 587.7 L288.9 587.4 L291.2 587.0 L293.6 586.7 L295.9 586.3 L298.2 585.9 L300.5 585.6 L302.8 585.2 L305.1 584.8 L307.4 584.5 L309.7 584.1 L312.0 583.7 L314.3 583.3 L316.6 583.0 L319.0 582.6 L321.3 582.2 L323.6 581.8 L325.9 581.4 L328.2 581.0 L330.5 580.6 L332.8 580.2 L335.1 579.8 L337.4 579.4 L339.7 579.0 L342.0 578.5 L344.3 578.1 L346.6 577.7 L348.9 577.3 L351.2 576.9 L353.5 576.4 L355.8 576.0 L358.1 575.5 L360.4 575.1 L362.7 574.7 L365.0 574.2 L367.3 573.8 L369.5 573.3 L371.8 572.8 L374.1 572.4 L376.4 571.9 L378.7 571.5 L381.0 571.0 L383.3 570.5 L385.6 570.0 L387.9 569.5 L390.2 569.1 L392.4 568.6 L394.7 568.1 L397.0 567.6 L399.3 567.1 L401.6 566.6 L403.9 566.1 L406.1 565.6 L408.4 565.0 L410.7 564.5 L413.0 564.0 L415.3 563.5 L417.5 562.9 L419.8 562.4 L422.1 561.8 L424.4 561.3 L426.6 560.7 L428.9 560.2 L431.2 559.6 L433.4 559.0 L435.7 558.4 L437.9 557.8 L440.2 557.2 L442.5 556.6 L444.7 556.0 L447.0 555.4 L449.2 554.8 L451.5 554.2 L453.7 553.5 L456.0 552.9 L458.2 552.2 L460.4 551.5 L462.7 550.9 L464.9 550.2 L467.1 549.5 L469.4 548.8 L471.6 548.1 L473.8 547.4 L476.0 546.7 L478.3 545.9 L480.5 545.2 L482.7 544.4 L484.9 543.7 L487.1 542.9 L489.3 542.1 L491.5 541.3 L493.7 540.5 L495.9 539.7 L498.1 538.9 L500.3 538.1 L502.4 537.2 L504.6 536.4 L506.8 535.5 L509.0 534.6 L511.1 533.8 L513.3 532.9 L515.5 532.0 L517.6 531.0 L519.8 530.1 L521.9 529.2 L524.1 528.2 L526.2 527.2 L528.3 526.2 L530.5 525.3 L532.6 524.2 L534.7 523.2 L536.8 522.2 L538.9 521.1 L541.0 520.1 L543.1 519.0 L545.2 517.9 L547.3 516.8 L549.4 515.7 L551.5 514.6 L553.5 513.5 L555.6 512.3 L557.6 511.1 L559.7 510.0 L561.7 508.8 L563.7 507.6 L565.7 506.4 L567.7 505.1 L569.7 503.9 L571.7 502.6 L573.6 501.3 L575.6 500.1 L577.6 498.8 L579.5 497.4 L581.4 496.1 L583.3 494.8 L585.2 493.4 L587.1 492.0 L589.0 490.6 L590.9 489.2 L592.7 487.8 L594.5 486.4 L596.4 484.9 L598.2 483.5 L600.0 482.0 L601.7 480.5 L603.5 479.0 L605.2 477.5 L607.0 475.9 L608.7 474.4 L610.4 472.8 L612.1 471.2 L613.8 469.6 L615.4 468.0 L617.0 466.4 L618.7 464.7 L620.3 463.1 L621.8 461.4 L623.4 459.7 L625.0 458.0 L626.5 456.3 L628.0 454.5 L629.5 452.8 L631.0 451.0 L632.4 449.2 L633.8 447.4 L635.2 445.6 L636.6 443.7 L638.0 441.9 L639.3 440.0 L640.7 438.1 L642.0 436.2 L643.3 434.2 L644.5 432.3 L645.8 430.3 L647.0 428.4 L648.2 426.4 L649.3 424.4 L650.5 422.3 L651.6 420.3 L652.7 418.2 L653.8 416.1 L654.8 414.0 L655.8 411.9 L656.8 409.8 L657.8 407.6 L658.7 405.4 L659.7 403.3 L660.6 401.0 L661.4 398.8 L662.3 396.6 L663.1 394.4 L663.9 392.1 L664.7 389.8 L665.5 387.6 L666.2 385.3 L667.0 383.0 L667.7 380.7 L668.4 378.4 L669.0 376.1 L669.7 373.8 L670.3 371.5 L670.9 369.2 L671.5 366.9 L672.1 364.5 L672.7 362.2 L673.3 359.9 L673.8 357.6 L674.4 355.3 L674.9 353.0 L675.4 350.8 L675.9 348.5 L676.4 346.2 L676.9 344.0 L677.3 341.7 L677.8 339.5 L678.2 337.2 L678.7 335.0 L679.1 332.8 L679.4 330.5 L679.8 328.3 L680.1 326.1 L680.4 323.8 L680.6 321.6 L680.4 319.0 L680.7 317.7 L680.6 316.7 L680.4 315.7 L680.0 314.9 L679.6 314.1 L679.0 313.3 L678.4 312.7 L677.7 312.0 L676.9 311.4 L676.1 310.7 L675.2 310.1 L674.4 309.5 L673.5 308.9 L672.7 308.3 L671.8 307.6 L671.0 307.0 L670.2 306.3 L669.4 305.6 L668.6 304.9 L667.8 304.2 L667.0 303.5 L666.3 302.8 L665.5 302.1 L664.7 301.3 L664.0 300.6 L663.3 299.8 L662.6 299.1 L661.9 298.3 L661.2 297.5 L660.5 296.7 L659.9 295.9 L659.2 295.1 L658.7 294.3 L658.1 293.5 L657.6 292.6 L657.1 291.8 L656.6 290.9 L656.1 290.1 L655.6 289.2 L655.1 288.4 L654.7 287.5 L654.2 286.6 L653.8 285.7 L653.4 284.8 L653.0 284.0 L652.6 283.1 L652.2 282.1 L651.8 281.2 L651.4 280.3 L651.1 279.4 L650.7 278.5 L650.4 277.5 L650.1 276.6 L649.7 275.6 L649.4 274.7 L649.1 273.7 L648.8 272.8 L648.5 271.8 L648.3 270.9 L648.0 269.9 L647.7 268.9 L647.4 268.0 L647.2 267.0 L646.9 266.0 L646.7 265.0 L646.5 264.0 L646.2 263.0 L646.0 262.1 L645.8 261.1 L645.6 260.1 L645.4 259.1 L645.2 258.1 L644.9 257.1 L644.8 256.1 L644.6 255.1 L644.4 254.1 L644.2 253.1 L644.0 252.0 L643.8 251.0 L643.6 250.0 L643.4 249.0 L643.3 248.0 L643.1 247.0 L642.9 246.0 L642.7 245.0 L642.6 244.0 L642.4 243.0 L642.2 242.0 L642.1 241.0 L641.9 239.9 L641.7 238.9 L641.6 237.9 L641.4 236.9 L641.2 235.9 L641.1 234.9 L640.9 233.9 L640.8 232.9 L640.6 231.9 L640.4 230.9 L640.3 229.9 L640.1 228.9 L640.0 227.9 L639.8 226.9 L639.7 225.9 L639.5 224.9 L639.4 223.8 L639.2 222.8 L639.1 221.8 L638.9 220.8 L638.8 219.8 L638.6 218.8 L638.5 217.8 L638.3 216.8 L638.2 215.8 L638.1 214.8 L637.9 213.8 L637.8 212.8 L637.6 211.8 L637.5 210.8 L637.4 209.8 L637.2 208.8 L637.1 207.8 L637.0 206.8 L636.8 205.8 L636.7 204.8 L636.6 203.8 L636.4 202.8 L636.3 201.8 L636.2 200.8 L636.0 199.8 L635.9 198.8 L635.8 197.8 L635.7 196.8 L635.5 195.8 L635.4 194.8 L635.3 193.8 L635.2 192.8 L635.0 191.8 L634.9 190.8 L634.8 189.8 L634.7 188.8 L634.5 187.8 L634.4 186.8 L634.3 185.8 L634.2 184.8 L634.1 183.7 L634.0 182.7 L633.8 181.7 L633.7 180.7 L633.6 179.7 L633.5 178.7 L633.4 177.7 L633.3 176.7 L633.2 175.7 L633.1 174.7 L633.0 173.7 L632.8 172.7 L632.7 171.7 L632.6 170.7 L632.5 169.7 L632.4 168.7 L632.3 167.7 L632.2 166.7 L632.1 165.7 L632.0 164.7 L631.9 163.7 L631.8 162.7 L631.7 161.7 L631.6 160.7 L631.5 159.7 L631.4 158.7 L631.3 157.7 L631.2 156.7 L631.1 155.7 L631.0 154.7 L630.9 153.7 L630.8 152.7 L630.7 151.7 L630.6 150.7 L630.5 149.7 L630.4 148.7 L630.3 147.7 L630.2 146.7 L630.2 145.7 L630.1 144.7 L630.0 143.7 L629.9 142.7 L629.8 141.7 L629.7 140.7 L629.6 139.7 L629.5 138.7 L629.4 137.7 L629.3 136.7 L629.3 135.7 L629.2 134.7 L629.1 133.7 L629.0 132.7 L628.9 131.7 L628.8 130.7 L628.7 129.7 L628.7 128.7 L628.6 127.7 L628.5 126.7 L628.4 125.7 L628.3 124.7 L628.2 123.7 L628.2 122.7 L628.1 121.7 L628.0 120.7 L627.9 119.7 L627.8 118.7 L627.8 117.7 L627.7 116.7 L627.6 115.7 L627.5 114.7 L627.4 113.7 L627.4 112.7 L627.3 111.7 L627.2 110.7 L627.1 109.7 L627.1 108.7 L627.0 107.7 L626.9 106.7 L626.8 105.7 L626.8 104.7 L626.7 103.7 L626.6 102.7 L626.5 101.7 L626.5 100.7 L626.4 99.7 L626.3 98.7 L626.2 97.7 L626.2 96.7 L626.1 95.7 L626.0 94.7 L625.9 93.6 L625.9 92.6 L625.8 91.6 L625.7 90.6 L625.7 89.6 L625.6 88.6 L625.5 87.6 L625.4 86.6 L625.4 85.6 L625.3 84.6 L625.2 83.6 L625.2 82.6 L625.1 81.6 L625.0 80.6 L624.9 79.6 L624.9 78.6 L624.8 77.5 L624.7 76.5 L624.7 75.5 L624.6 74.5 L624.5 73.5 L624.5 72.5 L624.4 71.5 L624.3 70.5 L624.2 69.5 L624.2 68.5 L624.1 67.5 L624.0 66.4 L624.0 65.4 L623.9 64.4 L623.8 63.4 L623.8 62.4 L623.7 61.4 L623.6 60.4 L623.6 59.4 L623.5 58.4 L623.4 57.3 L623.4 56.3 L623.3 55.3 L623.2 54.3 L623.2 53.3 L623.1 52.3 L623.0 51.3 L622.9 50.3 L622.9 49.2 L622.8 48.2 L622.7 47.2 L622.7 46.2 L622.6 45.2 L622.5 44.2 L622.5 43.1 L622.4 42.1 L622.3 41.1 L622.3 40.1 L622.2 39.1 L622.1 38.1 L622.1 37.0 L622.0 36.0 L621.9 35.0 L621.8 34.0 L621.8 33.0 L621.7 32.0 L621.6 30.9 L621.6 30.0" stroke="#000" stroke-width="5.2" stroke-dasharray="19.2 19.2"/>
<path d="M110.0 608.0 L112.3 607.6 L114.6 607.4 L117.0 607.2 L119.3 607.0 L121.6 606.8 L124.0 606.6 L126.3 606.4 L128.6 606.2 L131.0 606.0 L133.3 605.8 L135.6 605.6 L137.9 605.4 L140.3 605.1 L142.6 604.9 L144.9 604.7 L147.3 604.5 L149.6 604.3 L151.9 604.0 L154.2 603.8 L156.6 603.6 L158.9 603.4 L161.2 603.1 L163.6 602.9 L165.9 602.7 L168.2 602.4 L170.5 602.2 L172.9 602.0 L175.2 601.7 L177.5 601.5 L179.9 601.2 L182.2 601.0 L184.5 600.7 L186.8 600.5 L189.2 600.2 L191.5 600.0 L193.8 599.7 L196.1 599.5 L198.5 599.2 L200.8 598.9 L203.1 598.7 L205.4 598.4 L207.8 598.1 L210.1 597.9 L212.4 597.6 L214.7 597.3 L217.1 597.1 L219.4 596.8 L221.7 596.5 L224.0 596.2 L226.4 595.9 L228.7 595.6 L231.0 595.4 L233.3 595.1 L235.6 594.8 L238.0 594.5 L240.3 594.2 L242.6 593.9 L244.9 593.6 L247.2 593.3 L249.6 593.0 L251.9 592.7 L254.2 592.3 L256.5 592.0 L258.8 591.7 L261.2 591.4 L263.5 591.1 L265.8 590.8 L268.1 590.4 L270.4 590.1 L272.7 589.8 L275.0 589.4 L277.4 589.1 L279.7 588.8 L282.0 588.4 L284.3 588.1 L286.6 587.7 L288.9 587.4 L291.2 587.0 L293.6 586.7 L295.9 586.3 L298.2 585.9 L300.5 585.6 L302.8 585.2 L305.1 584.8 L307.4 584.5 L309.7 584.1 L312.0 583.7 L314.3 583.3 L316.6 583.0 L319.0 582.6 L321.3 582.2 L323.6 581.8 L325.9 581.4 L328.2 581.0 L330.5 580.6 L332.8 580.2 L335.1 579.8 L337.4 579.4 L339.7 579.0 L342.0 578.5 L344.3 578.1 L346.6 577.7 L348.9 577.3 L351.2 576.9 L353.5 576.4 L355.8 576.0 L358.1 575.5 L360.4 575.1 L362.7 574.7 L365.0 574.2 L367.3 573.8 L369.5 573.3 L371.8 572.8 L374.1 572.4 L376.4 571.9 L378.7 571.5 L381.0 571.0 L383.3 570.5 L385.6 570.0 L387.9 569.5 L390.2 569.1 L392.4 568.6 L394.7 568.1 L397.0 567.6 L399.3 567.1 L401.6 566.6 L403.9 566.1 L406.1 565.6 L408.4 565.0 L410.7 564.5 L413.0 564.0 L415.3 563.5 L417.5 562.9 L419.8 562.4 L422.1 561.8 L424.4 561.3 L426.6 560.7 L428.9 560.2 L431.2 559.6 L433.4 559.0 L435.7 558.4 L437.9 557.8 L440.2 557.2 L442.5 556.6 L444.7 556.0 L447.0 555.4 L449.2 554.8 L451.5 554.2 L453.7 553.5 L456.0 552.9 L458.2 552.2 L460.4 551.5 L462.7 550.9 L464.9 550.2 L467.1 549.5 L469.4 548.8 L471.6 548.1 L473.8 547.4 L476.0 546.7 L478.3 545.9 L480.5 545.2 L482.7 544.4 L484.9 543.7 L487.1 542.9 L489.3 542.1 L491.5 541.3 L493.7 540.5 L495.9 539.7 L498.1 538.9 L500.3 538.1 L502.4 537.2 L504.6 536.4 L506.8 535.5 L509.0 534.6 L511.1 533.8 L513.3 532.9 L515.5 532.0 L517.6 531.0 L519.8 530.1 L521.9 529.2 L524.1 528.2 L526.2 527.2 L528.3 526.2 L530.5 525.3 L532.6 524.2 L534.7 523.2 L536.8 522.2 L538.9 521.1 L541.0 520.1 L543.1 519.0 L545.2 517.9 L547.3 516.8 L549.4 515.7 L551.5 514.6 L553.5 513.5 L555.6 512.3 L557.6 511.1 L559.7 510.0 L561.7 508.8 L563.7 507.6 L565.7 506.4 L567.7 505.1 L569.7 503.9 L571.7 502.6 L573.6 501.3 L575.6 500.1 L577.6 498.8 L579.5 497.4 L581.4 496.1 L583.3 494.8 L585.2 493.4 L587.1 492.0 L589.0 490.6 L590.9 489.2 L592.7 487.8 L594.5 486.4 L596.4 484.9 L598.2 483.5 L600.0 482.0 L601.7 480.5 L603.5 479.0 L605.2 477.5 L607.0 475.9 L608.7 474.4 L610.4 472.8 L612.1 471.2 L613.8 469.6 L615.4 468.0 L617.0 466.4 L618.7 464.7 L620.3 463.1 L621.8 461.4 L623.4 459.7 L625.0 458.0 L626.5 456.3 L628.0 454.5 L629.5 452.8 L631.0 451.0 L632.4 449.2 L633.8 447.4 L635.2 445.6 L636.6 443.7 L638.0 441.9 L639.3 440.0 L640.7 438.1 L642.0 436.2 L643.3 434.2 L644.5 432.3 L645.8 430.3 L647.0 428.4 L648.2 426.4 L649.3 424.4 L650.5 422.3 L651.6 420.3 L652.7 418.2 L653.8 416.1 L654.8 414.0 L655.8 411.9 L656.8 409.8 L657.8 407.6 L658.7 405.4 L659.7 403.3 L660.6 401.0 L661.4 398.8 L662.3 396.6 L663.1 394.4 L663.9 392.1 L664.7 389.8 L665.5 387.6 L666.2 385.3 L667.0 383.0 L667.7 380.7 L668.4 378.4 L669.0 376.1 L669.7 373.8 L670.3 371.5 L670.9 369.2 L671.5 366.9 L672.1 364.5 L672.7 362.2 L673.3 359.9 L673.8 357.6 L674.4 355.3 L674.9 353.0 L675.4 350.8 L675.9 348.5 L676.4 346.2 L676.9 344.0 L677.3 341.7 L677.8 339.5 L678.2 337.2 L678.7 335.0 L679.1 332.8 L679.4 330.5 L679.8 328.3 L680.1 326.1 L680.4 323.8 L680.6 321.6 L680.4 319.0 L680.7 317.7 L680.6 316.7 L680.4 315.7 L680.0 314.9 L679.6 314.1 L679.0 313.3 L678.4 312.7 L677.7 312.0 L677.0 311.4 L676.2 310.7 L675.4 310.1 L674.6 309.5 L673.8 308.9 L673.0 308.3 L672.2 307.6 L671.4 307.0 L670.7 306.3 L669.9 305.6 L669.2 304.9 L668.5 304.2 L667.7 303.5 L667.0 302.8 L666.3 302.1 L665.6 301.3 L665.0 300.6 L664.3 299.8 L663.7 299.1 L663.0 298.3 L662.4 297.5 L661.8 296.7 L661.3 295.9 L660.7 295.1 L660.1 294.3 L659.6 293.5 L659.0 292.6 L658.5 291.8 L658.0 290.9 L657.5 290.1 L657.1 289.2 L656.6 288.4 L656.1 287.5 L655.7 286.6 L655.3 285.7 L654.8 284.8 L654.4 284.0 L654.0 283.1 L653.6 282.1 L653.3 281.2 L652.9 280.3 L652.5 279.4 L652.2 278.5 L651.8 277.5 L651.5 276.6 L651.2 275.6 L650.9 274.7 L650.6 273.7 L650.3 272.8 L650.0 271.8 L649.7 270.9 L649.4 269.9 L649.2 268.9 L648.9 268.0 L648.6 267.0 L648.4 266.0 L648.1 265.0 L647.9 264.0 L647.7 263.0 L647.4 262.1 L647.2 261.1 L647.0 260.1 L646.8 259.1 L646.6 258.1 L646.4 257.1 L646.2 256.1 L646.0 255.1 L645.8 254.1 L645.6 253.1 L645.4 252.0 L645.2 251.0 L645.1 250.0 L644.9 249.0 L644.7 248.0 L644.5 247.0 L644.4 246.0 L644.2 245.0 L644.0 244.0 L643.8 243.0 L643.7 242.0 L643.5 241.0 L643.3 239.9 L643.2 238.9 L643.0 237.9 L642.8 236.9 L642.7 235.9 L642.5 234.9 L642.4 233.9 L642.2 232.9 L642.0 231.9 L641.9 230.9 L641.7 229.9 L641.6 228.9 L641.4 227.9 L641.3 226.9 L641.1 225.9 L641.0 224.9 L640.8 223.8 L640.7 222.8 L640.5 221.8 L640.4 220.8 L640.2 219.8 L640.1 218.8 L639.9 217.8 L639.8 216.8 L639.6 215.8 L639.5 214.8 L639.4 213.8 L639.2 212.8 L639.1 211.8 L638.9 210.8 L638.8 209.8 L638.7 208.8 L638.5 207.8 L638.4 206.8 L638.3 205.8 L638.1 204.8 L638.0 203.8 L637.9 202.8 L637.7 201.8 L637.6 200.8 L637.5 199.8 L637.3 198.8 L637.2 197.8 L637.1 196.8 L637.0 195.8 L636.8 194.8 L636.7 193.8 L636.6 192.8 L636.5 191.8 L636.4 190.8 L636.2 189.8 L636.1 188.8 L636.0 187.8 L635.9 186.8 L635.8 185.8 L635.6 184.8 L635.5 183.7 L635.4 182.7 L635.3 181.7 L635.2 180.7 L635.1 179.7 L634.9 178.7 L634.8 177.7 L634.7 176.7 L634.6 175.7 L634.5 174.7 L634.4 173.7 L634.3 172.7 L634.2 171.7 L634.1 170.7 L634.0 169.7 L633.9 168.7 L633.8 167.7 L633.7 166.7 L633.5 165.7 L633.4 164.7 L633.3 163.7 L633.2 162.7 L633.1 161.7 L633.0 160.7 L632.9 159.7 L632.8 158.7 L632.7 157.7 L632.6 156.7 L632.5 155.7 L632.4 154.7 L632.3 153.7 L632.3 152.7 L632.2 151.7 L632.1 150.7 L632.0 149.7 L631.9 148.7 L631.8 147.7 L631.7 146.7 L631.6 145.7 L631.5 144.7 L631.4 143.7 L631.3 142.7 L631.2 141.7 L631.1 140.7 L631.1 139.7 L631.0 138.7 L630.9 137.7 L630.8 136.7 L630.7 135.7 L630.6 134.7 L630.5 133.7 L630.4 132.7 L630.4 131.7 L630.3 130.7 L630.2 129.7 L630.1 128.7 L630.0 127.7 L629.9 126.7 L629.9 125.7 L629.8 124.7 L629.7 123.7 L629.6 122.7 L629.5 121.7 L629.4 120.7 L629.4 119.7 L629.3 118.7 L629.2 117.7 L629.1 116.7 L629.0 115.7 L629.0 114.7 L628.9 113.7 L628.8 112.7 L628.7 111.7 L628.7 110.7 L628.6 109.7 L628.5 108.7 L628.4 107.7 L628.3 106.7 L628.3 105.7 L628.2 104.7 L628.1 103.7 L628.0 102.7 L628.0 101.7 L627.9 100.7 L627.8 99.7 L627.7 98.7 L627.7 97.7 L627.6 96.7 L627.5 95.7 L627.5 94.7 L627.4 93.6 L627.3 92.6 L627.2 91.6 L627.2 90.6 L627.1 89.6 L627.0 88.6 L626.9 87.6 L626.9 86.6 L626.8 85.6 L626.7 84.6 L626.7 83.6 L626.6 82.6 L626.5 81.6 L626.5 80.6 L626.4 79.6 L626.3 78.6 L626.2 77.5 L626.2 76.5 L626.1 75.5 L626.0 74.5 L626.0 73.5 L625.9 72.5 L625.8 71.5 L625.8 70.5 L625.7 69.5 L625.6 68.5 L625.6 67.5 L625.5 66.4 L625.4 65.4 L625.3 64.4 L625.3 63.4 L625.2 62.4 L625.1 61.4 L625.1 60.4 L625.0 59.4 L624.9 58.4 L624.9 57.3 L624.8 56.3 L624.7 55.3 L624.7 54.3 L624.6 53.3 L624.5 52.3 L624.5 51.3 L624.4 50.3 L624.3 49.2 L624.2 48.2 L624.2 47.2 L624.1 46.2 L624.0 45.2 L624.0 44.2 L623.9 43.1 L623.8 42.1 L623.8 41.1 L623.7 40.1 L623.6 39.1 L623.6 38.1 L623.5 37.0 L623.4 36.0 L623.4 35.0 L623.3 34.0 L623.2 33.0 L623.1 32.0 L623.1 30.9 L623.0 30.0" stroke="#000" stroke-width="5.2"/>
</g>
<rect x="119.5" y="41.2" width="746.5" height="571.4" fill="none" stroke="#262626" stroke-width="1.3"/>
<line x1="119.5" y1="612.6" x2="119.5" y2="605.1" stroke="#262626" stroke-width="1.3"/>
<line x1="119.5" y1="41.2" x2="119.5" y2="48.7" stroke="#262626" stroke-width="1.3"/>
<line x1="268.8" y1="612.6" x2="268.8" y2="605.1" stroke="#262626" stroke-width="1.3"/>
<line x1="268.8" y1="41.2" x2="268.8" y2="48.7" stroke="#262626" stroke-width="1.3"/>
<line x1="418.1" y1="612.6" x2="418.1" y2="605.1" stroke="#262626" stroke-width="1.3"/>
<line x1="418.1" y1="41.2" x2="418.1" y2="48.7" stroke="#262626" stroke-width="1.3"/>
<line x1="567.4" y1="612.6" x2="567.4" y2="605.1" stroke="#262626" stroke-width="1.3"/>
<line x1="567.4" y1="41.2" x2="567.4" y2="48.7" stroke="#262626" stroke-width="1.3"/>
<line x1="716.7" y1="612.6" x2="716.7" y2="605.1" stroke="#262626" stroke-width="1.3"/>
<line x1="716.7" y1="41.2" x2="716.7" y2="48.7" stroke="#262626" stroke-width="1.3"/>
<line x1="866.0" y1="612.6" x2="866.0" y2="605.1" stroke="#262626" stroke-width="1.3"/>
<line x1="866.0" y1="41.2" x2="866.0" y2="48.7" stroke="#262626" stroke-width="1.3"/>
<line x1="119.5" y1="612.6" x2="127.0" y2="612.6" stroke="#262626" stroke-width="1.3"/>
<line x1="866.0" y1="612.6" x2="858.5" y2="612.6" stroke="#262626" stroke-width="1.3"/>
<line x1="119.5" y1="498.3" x2="127.0" y2="498.3" stroke="#262626" stroke-width="1.3"/>
<line x1="866.0" y1="498.3" x2="858.5" y2="498.3" stroke="#262626" stroke-width="1.3"/>
<line x1="119.5" y1="384.0" x2="127.0" y2="384.0" stroke="#262626" stroke-width="1.3"/>
<line x1="866.0" y1="384.0" x2="858.5" y2="384.0" stroke="#262626" stroke-width="1.3"/>
<line x1="119.5" y1="269.8" x2="127.0" y2="269.8" stroke="#262626" stroke-width="1.3"/>
<line x1="866.0" y1="269.8" x2="858.5" y2="269.8" stroke="#262626" stroke-width="1.3"/>
<line x1="119.5" y1="155.5" x2="127.0" y2="155.5" stroke="#262626" stroke-width="1.3"/>
<line x1="866.0" y1="155.5" x2="858.5" y2="155.5" stroke="#262626" stroke-width="1.3"/>
<line x1="119.5" y1="41.2" x2="127.0" y2="41.2" stroke="#262626" stroke-width="1.3"/>
<line x1="866.0" y1="41.2" x2="858.5" y2="41.2" stroke="#262626" stroke-width="1.3"/>
<text x="119.5" y="656.5" font-size="35.0" fill="#262626" text-anchor="middle" >0</text>
<text x="268.8" y="656.5" font-size="35.0" fill="#262626" text-anchor="middle" >1</text>
<text x="418.1" y="656.5" font-size="35.0" fill="#262626" text-anchor="middle" >2</text>
<text x="567.4" y="656.5" font-size="35.0" fill="#262626" text-anchor="middle" >3</text>
<text x="716.7" y="656.5" font-size="35.0" fill="#262626" text-anchor="middle" >4</text>
<text x="866.0" y="656.5" font-size="35.0" fill="#262626" text-anchor="middle" >5</text>
<text x="106.0" y="624.9" font-size="35.0" fill="#262626" text-anchor="end" >0</text>
<text x="106.0" y="510.6" font-size="35.0" fill="#262626" text-anchor="end" >0.2</text>
<text x="106.0" y="396.3" font-size="35.0" fill="#262626" text-anchor="end" >0.4</text>
<text x="106.0" y="282.1" font-size="35.0" fill="#262626" text-anchor="end" >0.6</text>
<text x="106.0" y="167.8" font-size="35.0" fill="#262626" text-anchor="end" >0.8</text>
<text x="106.0" y="53.5" font-size="35.0" fill="#262626" text-anchor="end" >1</text>
<text x="488.0" y="701.8" font-size="38.3" fill="#262626" text-anchor="middle" >Displacement (mm)</text>
<text x="49.5" y="327.0" font-size="38.8" fill="#262626" text-anchor="middle" transform="rotate(-90 49.5 327)">Load factor λ</text>
<text x="19.0" y="49.0" font-size="46.0" fill="#000" text-anchor="start" >a</text>
<rect x="139.5" y="61.5" width="339.5" height="120" fill="#fff" stroke="#262626" stroke-width="1.3"/>
<line x1="146.7" y1="83.9" x2="221.9" y2="83.9" stroke="#f00" stroke-width="5.2"/>
<line x1="146.7" y1="122.1" x2="221.9" y2="122.1" stroke="#f00" stroke-width="5.2" stroke-dasharray="19.2 19.2"/>
<line x1="146.7" y1="159.4" x2="221.9" y2="159.4" stroke="#f00" stroke-width="5.2" stroke-dasharray="5.2 4.4"/>
<text x="228.0" y="95.3" font-size="31.4" fill="#000" text-anchor="start" >8×12 ALE-ANCF</text>
<text x="228.0" y="133.5" font-size="31.4" fill="#000" text-anchor="start" >16×24 ALE-ANCF</text>
<text x="228.0" y="171.0" font-size="31.4" fill="#000" text-anchor="start" >24×36 ALE-ANCF</text>
<text x="401.0" y="270.8" font-size="31" fill="#f00" font-style="italic">U</text><text x="422.5" y="284.6" font-size="24" fill="#f00" font-style="italic">A</text>
<line x1="436.8" y1="266.4" x2="464.4" y2="267.0" stroke="#f00" stroke-width="1.3"/><path d="M482.4 267.4 L456.9 257.8 Q459.5 262.8 464.4 267.0 Q459.3 270.9 456.5 275.8 Z" fill="#f00"/>
<text x="527.0" y="269.2" font-size="31" fill="#000" font-style="italic">U</text><text x="548.5" y="283.0" font-size="24" fill="#000" font-style="italic">C</text>
<line x1="564.0" y1="264.4" x2="588.1" y2="264.4" stroke="#000" stroke-width="1.3"/><path d="M606.1 264.4 L580.4 255.4 Q583.1 260.3 588.1 264.4 Q583.1 268.4 580.4 273.4 Z" fill="#000"/>
<text x="807.0" y="269.0" font-size="31" fill="#00f" font-style="italic">U</text><text x="828.5" y="282.8" font-size="24" fill="#00f" font-style="italic">B</text>
<line x1="796.1" y1="264.4" x2="774.5" y2="264.3" stroke="#00f" stroke-width="1.3"/><path d="M756.5 264.2 L782.2 273.2 Q779.5 268.3 774.5 264.3 Q779.5 260.3 782.2 255.5 Z" fill="#00f"/>
<line x1="1177.1" y1="41.2" x2="1177.1" y2="615.4" stroke="#262626" stroke-opacity="0.16" stroke-width="1.3"/>
<line x1="1327.6" y1="41.2" x2="1327.6" y2="615.4" stroke="#262626" stroke-opacity="0.16" stroke-width="1.3"/>
<line x1="1478.2" y1="41.2" x2="1478.2" y2="615.4" stroke="#262626" stroke-opacity="0.16" stroke-width="1.3"/>
<line x1="1628.7" y1="41.2" x2="1628.7" y2="615.4" stroke="#262626" stroke-opacity="0.16" stroke-width="1.3"/>
<line x1="1779.3" y1="41.2" x2="1779.3" y2="615.4" stroke="#262626" stroke-opacity="0.16" stroke-width="1.3"/>
<line x1="1028.5" y1="615.4" x2="1779.3" y2="615.4" stroke="#262626" stroke-opacity="0.16" stroke-width="1.3"/>
<line x1="1028.5" y1="500.6" x2="1779.3" y2="500.6" stroke="#262626" stroke-opacity="0.16" stroke-width="1.3"/>
<line x1="1028.5" y1="385.7" x2="1779.3" y2="385.7" stroke="#262626" stroke-opacity="0.16" stroke-width="1.3"/>
<line x1="1028.5" y1="270.9" x2="1779.3" y2="270.9" stroke="#262626" stroke-opacity="0.16" stroke-width="1.3"/>
<line x1="1028.5" y1="156.0" x2="1779.3" y2="156.0" stroke="#262626" stroke-opacity="0.16" stroke-width="1.3"/>
<line x1="1028.5" y1="41.2" x2="1779.3" y2="41.2" stroke="#262626" stroke-opacity="0.16" stroke-width="1.3"/>
<g clip-path="url(#cb)" fill="none" stroke-linejoin="round">
<path d="M1016.9 610.3 L1019.7 610.0 L1022.5 609.7 L1025.3 609.3 L1028.2 608.9 L1031.0 608.6 L1033.8 608.2 L1036.7 607.9 L1039.5 607.6 L1042.3 607.2 L1045.1 606.9 L1047.9 606.6 L1050.7 606.3 L1053.5 606.0 L1056.3 605.7 L1059.1 605.4 L1061.9 605.1 L1064.7 604.8 L1067.5 604.5 L1070.2 604.2 L1073.0 603.9 L1075.8 603.7 L1078.5 603.4 L1081.3 603.1 L1084.1 602.8 L1086.8 602.5 L1089.6 602.2 L1092.3 602.0 L1095.1 601.7 L1097.9 601.4 L1100.6 601.1 L1103.4 600.8 L1106.1 600.5 L1108.9 600.2 L1111.6 599.9 L1114.4 599.6 L1117.1 599.3 L1119.8 599.0 L1122.6 598.6 L1125.3 598.3 L1128.1 598.0 L1130.8 597.6 L1133.6 597.3 L1136.3 596.9 L1139.1 596.6 L1141.8 596.2 L1144.6 595.8 L1147.3 595.5 L1150.1 595.1 L1152.8 594.7 L1155.6 594.2 L1158.3 593.8 L1161.1 593.4 L1163.8 592.9 L1166.6 592.5 L1169.4 592.0 L1172.1 591.5 L1174.9 591.0 L1177.7 590.5 L1180.5 590.0 L1183.2 589.5 L1186.0 588.9 L1188.8 588.4 L1191.6 587.8 L1194.3 587.2 L1197.1 586.6 L1199.9 586.0 L1202.7 585.3 L1205.4 584.7 L1208.2 584.0 L1211.0 583.3 L1213.7 582.6 L1216.4 581.8 L1219.2 581.0 L1221.9 580.3 L1224.6 579.5 L1227.4 578.6 L1230.1 577.8 L1232.8 576.9 L1235.4 576.0 L1238.1 575.1 L1240.8 574.1 L1243.4 573.2 L1246.0 572.1 L1248.7 571.1 L1251.3 570.1 L1253.8 569.0 L1256.4 567.9 L1259.0 566.7 L1261.5 565.5 L1264.0 564.3 L1266.5 563.1 L1269.0 561.8 L1271.4 560.5 L1273.9 559.2 L1276.3 557.8 L1278.7 556.4 L1281.0 555.0 L1283.4 553.5 L1285.7 552.0 L1288.0 550.5 L1290.2 548.9 L1292.5 547.3 L1294.7 545.7 L1296.9 544.0 L1299.0 542.2 L1301.1 540.5 L1303.2 538.7 L1305.3 536.9 L1307.3 535.0 L1309.3 533.1 L1311.3 531.2 L1313.3 529.2 L1315.2 527.2 L1317.1 525.2 L1319.0 523.1 L1320.8 521.0 L1322.6 518.9 L1324.4 516.8 L1326.1 514.6 L1327.8 512.4 L1329.4 510.2 L1331.1 508.0 L1332.7 505.7 L1334.3 503.4 L1335.8 501.1 L1337.3 498.8 L1338.8 496.4 L1340.3 494.0 L1341.7 491.6 L1343.1 489.2 L1344.5 486.8 L1345.9 484.3 L1347.2 481.9 L1348.5 479.4 L1349.8 476.9 L1351.0 474.4 L1352.3 471.8 L1353.4 469.3 L1354.6 466.7 L1355.7 464.2 L1356.9 461.6 L1357.9 459.0 L1359.0 456.4 L1360.0 453.8 L1361.0 451.2 L1362.0 448.6 L1363.0 445.9 L1364.0 443.3 L1365.0 440.6 L1365.9 438.0 L1366.8 435.3 L1367.7 432.7 L1368.5 430.0 L1369.3 427.3 L1370.1 424.7 L1370.9 422.0 L1371.7 419.3 L1372.4 416.7 L1373.1 414.0 L1373.8 411.3 L1374.5 408.6 L1375.2 405.9 L1375.9 403.2 L1376.5 400.5 L1377.2 397.8 L1377.8 395.1 L1378.5 392.4 L1379.1 389.7 L1379.8 387.0 L1380.4 384.3 L1381.0 381.6 L1381.7 378.9 L1382.3 376.2 L1383.0 373.5 L1383.7 370.8 L1384.3 368.0 L1385.0 365.3 L1385.7 362.6 L1386.4 359.9 L1387.1 357.1 L1387.9 354.4 L1388.6 351.7 L1389.3 348.9 L1390.1 346.2 L1390.8 343.5 L1391.5 340.7 L1392.2 338.0 L1392.8 335.3 L1393.4 332.6 L1394.0 329.8 L1394.6 327.1 L1395.2 324.4 L1395.8 321.8 L1396.5 319.1 L1397.4 316.6 L1398.4 314.1 L1399.7 311.7 L1401.2 309.3 L1402.8 307.0 L1404.4 304.7 L1405.8 302.3 L1407.1 299.8 L1408.3 297.3 L1409.3 294.8 L1410.1 292.2 L1410.9 289.5 L1411.5 286.8 L1412.1 284.1 L1412.5 281.3 L1413.0 278.5 L1413.3 275.7 L1413.7 272.9 L1414.0 270.1 L1414.4 267.3 L1414.7 264.5 L1415.0 261.7 L1415.3 258.9 L1415.7 256.1 L1416.0 253.3 L1416.3 250.5 L1416.6 247.7 L1416.9 244.9 L1417.2 242.1 L1417.5 239.3 L1417.8 236.5 L1418.2 233.7 L1418.5 230.9 L1418.8 228.1 L1419.1 225.3 L1419.3 222.5 L1419.6 219.7 L1419.9 217.0 L1420.2 214.2 L1420.5 211.4 L1420.8 208.6 L1421.1 205.8 L1421.3 203.0 L1421.6 200.2 L1421.9 197.5 L1422.2 194.7 L1422.4 191.9 L1422.7 189.1 L1423.0 186.3 L1423.2 183.5 L1423.5 180.7 L1423.7 178.0 L1424.0 175.2 L1424.2 172.4 L1424.5 169.6 L1424.7 166.8 L1425.0 164.1 L1425.2 161.3 L1425.5 158.5 L1425.7 155.7 L1425.9 152.9 L1426.2 150.1 L1426.4 147.4 L1426.6 144.6 L1426.8 141.8 L1427.1 139.0 L1427.3 136.2 L1427.5 133.4 L1427.7 130.7 L1427.9 127.9 L1428.1 125.1 L1428.3 122.3 L1428.5 119.5 L1428.7 116.7 L1428.9 113.9 L1429.1 111.2 L1429.3 108.4 L1429.5 105.6 L1429.7 102.8 L1429.9 100.0 L1430.1 97.2 L1430.3 94.4 L1430.4 91.6 L1430.6 88.8 L1430.8 86.0 L1431.0 83.2 L1431.1 80.4 L1431.3 77.6 L1431.5 74.8 L1431.6 72.0 L1431.8 69.2 L1431.9 66.4 L1432.1 63.6 L1432.2 60.8 L1432.4 58.0 L1432.5 55.2 L1432.7 52.4 L1432.8 49.6 L1432.9 46.8 L1433.1 44.0 L1433.2 41.2 L1433.3 38.3 L1433.4 35.5 L1433.5 32.7 L1433.9 29.9" stroke="#f00" stroke-width="5.2"/>
<path d="M1016.9 610.3 L1019.7 610.0 L1022.5 609.7 L1025.3 609.3 L1028.2 608.9 L1031.0 608.6 L1033.8 608.2 L1036.7 607.9 L1039.5 607.6 L1042.3 607.2 L1045.1 606.9 L1047.9 606.6 L1050.7 606.3 L1053.5 606.0 L1056.3 605.7 L1059.1 605.4 L1061.9 605.1 L1064.7 604.8 L1067.5 604.5 L1070.2 604.2 L1073.0 603.9 L1075.8 603.7 L1078.5 603.4 L1081.3 603.1 L1084.1 602.8 L1086.8 602.5 L1089.6 602.2 L1092.3 602.0 L1095.1 601.7 L1097.9 601.4 L1100.6 601.1 L1103.4 600.8 L1106.1 600.5 L1108.9 600.2 L1111.6 599.9 L1114.4 599.6 L1117.1 599.3 L1119.8 599.0 L1122.6 598.6 L1125.3 598.3 L1128.1 598.0 L1130.8 597.6 L1133.6 597.3 L1136.3 596.9 L1139.1 596.6 L1141.8 596.2 L1144.6 595.8 L1147.3 595.5 L1150.1 595.1 L1152.8 594.7 L1155.6 594.2 L1158.3 593.8 L1161.1 593.4 L1163.8 592.9 L1166.6 592.5 L1169.4 592.0 L1172.1 591.5 L1174.9 591.0 L1177.7 590.5 L1180.5 590.0 L1183.2 589.5 L1186.0 588.9 L1188.8 588.4 L1191.6 587.8 L1194.3 587.2 L1197.1 586.6 L1199.9 586.0 L1202.7 585.3 L1205.4 584.7 L1208.2 584.0 L1211.0 583.3 L1213.7 582.6 L1216.4 581.8 L1219.2 581.0 L1221.9 580.3 L1224.6 579.5 L1227.4 578.6 L1230.1 577.8 L1232.8 576.9 L1235.4 576.0 L1238.1 575.1 L1240.8 574.1 L1243.4 573.2 L1246.0 572.1 L1248.7 571.1 L1251.3 570.1 L1253.8 569.0 L1256.4 567.9 L1259.0 566.7 L1261.5 565.5 L1264.0 564.3 L1266.5 563.1 L1269.0 561.8 L1271.4 560.5 L1273.9 559.2 L1276.3 557.8 L1278.7 556.4 L1281.0 555.0 L1283.4 553.5 L1285.7 552.0 L1288.0 550.5 L1290.2 548.9 L1292.5 547.3 L1294.7 545.7 L1296.9 544.0 L1299.0 542.2 L1301.1 540.5 L1303.2 538.7 L1305.3 536.9 L1307.3 535.0 L1309.3 533.1 L1311.3 531.2 L1313.3 529.2 L1315.2 527.2 L1317.1 525.2 L1319.0 523.1 L1320.8 521.0 L1322.6 518.9 L1324.4 516.8 L1326.1 514.6 L1327.8 512.4 L1329.4 510.2 L1331.1 508.0 L1332.7 505.7 L1334.3 503.4 L1335.8 501.1 L1337.3 498.8 L1338.8 496.4 L1340.3 494.0 L1341.7 491.6 L1343.1 489.2 L1344.5 486.8 L1345.9 484.3 L1347.2 481.9 L1348.5 479.4 L1349.8 476.9 L1351.0 474.4 L1352.3 471.8 L1353.4 469.3 L1354.6 466.7 L1355.7 464.2 L1356.9 461.6 L1357.9 459.0 L1359.0 456.4 L1360.0 453.8 L1361.0 451.2 L1362.0 448.6 L1363.0 445.9 L1364.0 443.3 L1365.0 440.6 L1365.9 438.0 L1366.8 435.3 L1367.7 432.7 L1368.5 430.0 L1369.3 427.3 L1370.1 424.7 L1370.9 422.0 L1371.7 419.3 L1372.4 416.7 L1373.1 414.0 L1373.8 411.3 L1374.5 408.6 L1375.2 405.9 L1375.9 403.2 L1376.5 400.5 L1377.2 397.8 L1377.8 395.1 L1378.5 392.4 L1379.1 389.7 L1379.8 387.0 L1380.4 384.3 L1381.0 381.6 L1381.7 378.9 L1382.3 376.2 L1383.0 373.5 L1383.7 370.8 L1384.3 368.0 L1385.0 365.3 L1385.7 362.6 L1386.4 359.9 L1387.1 357.1 L1387.9 354.4 L1388.6 351.7 L1389.3 348.9 L1390.1 346.2 L1390.8 343.5 L1391.5 340.7 L1392.2 338.0 L1392.8 335.3 L1393.4 332.6 L1394.0 329.8 L1394.6 327.1 L1395.2 324.4 L1395.8 321.8 L1396.5 319.1 L1397.4 316.6 L1398.4 314.1 L1399.7 311.7 L1401.2 309.3 L1402.8 307.0 L1404.4 304.7 L1405.8 302.3 L1407.1 299.8 L1408.2 297.3 L1409.2 294.8 L1410.0 292.2 L1410.7 289.5 L1411.3 286.8 L1411.8 284.1 L1412.3 281.3 L1412.6 278.5 L1413.0 275.7 L1413.3 272.9 L1413.6 270.1 L1413.9 267.3 L1414.2 264.5 L1414.4 261.7 L1414.7 258.9 L1415.0 256.1 L1415.3 253.3 L1415.6 250.5 L1415.8 247.7 L1416.1 244.9 L1416.4 242.1 L1416.6 239.3 L1416.9 236.5 L1417.2 233.7 L1417.4 230.9 L1417.7 228.1 L1417.9 225.3 L1418.2 222.5 L1418.4 219.7 L1418.7 217.0 L1418.9 214.2 L1419.2 211.4 L1419.4 208.6 L1419.7 205.8 L1419.9 203.0 L1420.1 200.2 L1420.4 197.5 L1420.7 194.7 L1420.9 191.9 L1421.2 189.1 L1421.5 186.3 L1421.7 183.5 L1422.0 180.7 L1422.2 178.0 L1422.5 175.2 L1422.7 172.4 L1423.0 169.6 L1423.2 166.8 L1423.5 164.1 L1423.7 161.3 L1424.0 158.5 L1424.2 155.7 L1424.4 152.9 L1424.7 150.1 L1424.9 147.4 L1425.1 144.6 L1425.3 141.8 L1425.6 139.0 L1425.8 136.2 L1426.0 133.4 L1426.2 130.7 L1426.4 127.9 L1426.6 125.1 L1426.8 122.3 L1427.0 119.5 L1427.2 116.7 L1427.4 113.9 L1427.6 111.2 L1427.8 108.4 L1428.0 105.6 L1428.2 102.8 L1428.4 100.0 L1428.6 97.2 L1428.8 94.4 L1428.9 91.6 L1429.1 88.8 L1429.3 86.0 L1429.5 83.2 L1429.6 80.4 L1429.8 77.6 L1430.0 74.8 L1430.1 72.0 L1430.3 69.2 L1430.4 66.4 L1430.6 63.6 L1430.7 60.8 L1430.9 58.0 L1431.0 55.2 L1431.2 52.4 L1431.3 49.6 L1431.4 46.8 L1431.6 44.0 L1431.7 41.2 L1431.8 38.3 L1431.9 35.5 L1432.0 32.7 L1432.4 29.9" stroke="#f00" stroke-width="5.2" stroke-dasharray="19.2 19.2"/>
<path d="M1016.9 610.5 L1019.2 610.2 L1021.5 610.0 L1023.8 609.8 L1026.1 609.5 L1028.4 609.3 L1030.7 609.1 L1033.0 608.8 L1035.4 608.6 L1037.7 608.4 L1040.0 608.1 L1042.3 607.9 L1044.6 607.7 L1046.9 607.4 L1049.2 607.2 L1051.5 607.0 L1053.8 606.7 L1056.1 606.5 L1058.4 606.3 L1060.7 606.0 L1063.0 605.8 L1065.3 605.6 L1067.6 605.3 L1069.9 605.1 L1072.2 604.8 L1074.5 604.6 L1076.8 604.4 L1079.1 604.1 L1081.5 603.9 L1083.8 603.6 L1086.1 603.4 L1088.4 603.1 L1090.7 602.9 L1093.0 602.7 L1095.3 602.4 L1097.6 602.2 L1099.9 601.9 L1102.2 601.6 L1104.5 601.4 L1106.8 601.1 L1109.1 600.9 L1111.4 600.6 L1113.7 600.4 L1116.0 600.1 L1118.3 599.8 L1120.6 599.6 L1122.9 599.3 L1125.2 599.0 L1127.5 598.8 L1129.8 598.5 L1132.1 598.2 L1134.4 597.9 L1136.7 597.7 L1139.0 597.4 L1141.3 597.1 L1143.6 596.8 L1145.9 596.5 L1148.2 596.2 L1150.5 595.9 L1152.8 595.7 L1155.1 595.4 L1157.4 595.1 L1159.7 594.8 L1162.0 594.5 L1164.2 594.2 L1166.5 593.8 L1168.8 593.5 L1171.1 593.2 L1173.4 592.9 L1175.7 592.6 L1178.0 592.3 L1180.3 591.9 L1182.6 591.6 L1184.9 591.3 L1187.2 591.0 L1189.5 590.6 L1191.7 590.3 L1194.0 589.9 L1196.3 589.6 L1198.6 589.3 L1200.9 588.9 L1203.2 588.6 L1205.5 588.2 L1207.8 587.8 L1210.0 587.5 L1212.3 587.1 L1214.6 586.7 L1216.9 586.4 L1219.2 586.0 L1221.5 585.6 L1223.7 585.2 L1226.0 584.8 L1228.3 584.4 L1230.6 584.0 L1232.9 583.6 L1235.1 583.2 L1237.4 582.8 L1239.7 582.4 L1242.0 582.0 L1244.3 581.6 L1246.5 581.2 L1248.8 580.7 L1251.1 580.3 L1253.4 579.9 L1255.6 579.4 L1257.9 579.0 L1260.2 578.5 L1262.4 578.1 L1264.7 577.6 L1267.0 577.2 L1269.3 576.7 L1271.5 576.2 L1273.8 575.8 L1276.1 575.3 L1278.3 574.8 L1280.6 574.3 L1282.9 573.8 L1285.1 573.3 L1287.4 572.8 L1289.6 572.3 L1291.9 571.8 L1294.2 571.3 L1296.4 570.8 L1298.7 570.2 L1301.0 569.7 L1303.2 569.2 L1305.5 568.6 L1307.7 568.1 L1310.0 567.5 L1312.2 567.0 L1314.5 566.4 L1316.7 565.8 L1319.0 565.3 L1321.2 564.7 L1323.5 564.1 L1325.7 563.5 L1328.0 562.9 L1330.2 562.3 L1332.4 561.7 L1334.7 561.0 L1336.9 560.4 L1339.1 559.7 L1341.3 559.1 L1343.5 558.4 L1345.8 557.8 L1348.0 557.1 L1350.2 556.4 L1352.4 555.7 L1354.6 555.0 L1356.8 554.3 L1358.9 553.6 L1361.1 552.8 L1363.3 552.1 L1365.5 551.3 L1367.7 550.6 L1369.8 549.8 L1372.0 549.0 L1374.1 548.2 L1376.3 547.4 L1378.4 546.6 L1380.6 545.8 L1382.7 544.9 L1384.9 544.1 L1387.0 543.2 L1389.1 542.4 L1391.2 541.5 L1393.3 540.6 L1395.4 539.7 L1397.5 538.7 L1399.6 537.8 L1401.7 536.9 L1403.8 535.9 L1405.9 534.9 L1407.9 533.9 L1410.0 532.9 L1412.0 531.9 L1414.1 530.9 L1416.1 529.8 L1418.2 528.8 L1420.2 527.7 L1422.2 526.6 L1424.2 525.5 L1426.2 524.4 L1428.2 523.3 L1430.2 522.1 L1432.2 521.0 L1434.1 519.8 L1436.1 518.6 L1438.1 517.4 L1440.0 516.2 L1441.9 514.9 L1443.9 513.7 L1445.8 512.4 L1447.7 511.1 L1449.6 509.8 L1451.5 508.5 L1453.4 507.1 L1455.3 505.7 L1457.1 504.4 L1459.0 503.0 L1460.8 501.6 L1462.6 500.1 L1464.5 498.7 L1466.2 497.2 L1468.0 495.7 L1469.8 494.2 L1471.5 492.7 L1473.3 491.2 L1475.0 489.6 L1476.7 488.0 L1478.4 486.5 L1480.0 484.8 L1481.7 483.2 L1483.3 481.6 L1484.9 479.9 L1486.4 478.2 L1488.0 476.5 L1489.5 474.8 L1491.0 473.1 L1492.5 471.4 L1494.0 469.6 L1495.5 467.8 L1496.9 466.1 L1498.4 464.3 L1499.8 462.5 L1501.2 460.7 L1502.6 458.8 L1504.0 457.0 L1505.3 455.2 L1506.7 453.3 L1508.0 451.5 L1509.4 449.6 L1510.7 447.7 L1512.1 445.9 L1513.4 444.0 L1514.8 442.1 L1516.1 440.2 L1517.4 438.3 L1518.7 436.4 L1520.0 434.5 L1521.3 432.6 L1522.6 430.7 L1523.8 428.7 L1525.1 426.8 L1526.4 424.9 L1527.6 422.9 L1528.8 421.0 L1530.1 419.0 L1531.3 417.0 L1532.5 415.1 L1533.7 413.1 L1534.9 411.1 L1536.1 409.1 L1537.2 407.1 L1538.4 405.1 L1539.6 403.1 L1540.7 401.1 L1541.8 399.1 L1543.0 397.1 L1544.1 395.0 L1545.2 393.0 L1546.3 391.0 L1547.4 388.9 L1548.4 386.8 L1549.5 384.8 L1550.5 382.7 L1551.6 380.6 L1552.6 378.6 L1553.7 376.5 L1554.7 374.4 L1555.7 372.3 L1556.8 370.2 L1557.9 368.1 L1559.0 366.1 L1560.1 364.0 L1561.2 361.9 L1562.3 359.8 L1563.4 357.8 L1564.5 355.7 L1565.6 353.6 L1566.7 351.6 L1567.9 349.5 L1569.0 347.5 L1570.2 345.5 L1571.4 343.4 L1572.6 341.4 L1573.8 339.4 L1575.0 337.4 L1576.3 335.5 L1577.5 333.5 L1578.8 331.6 L1580.1 329.7 L1581.5 327.8 L1582.9 325.9 L1584.3 324.1 L1585.9 322.4 L1587.4 320.7 L1589.0 319.0 L1590.6 317.4 L1592.6 316.1 L1592.8 316.1 L1592.9 316.1 L1593.1 316.1 L1593.2 316.0 L1593.3 316.0 L1593.5 315.9 L1593.6 315.9 L1593.8 315.9 L1593.9 315.8 L1594.0 315.8 L1594.2 315.8 L1594.3 315.7 L1594.4 315.7 L1594.6 315.6 L1594.7 315.6 L1594.9 315.6 L1595.0 315.5 L1595.1 315.5 L1595.3 315.5 L1595.4 315.4 L1595.5 315.4 L1595.7 315.4 L1595.8 315.3 L1596.0 315.3 L1596.1 315.2 L1596.2 315.2 L1596.4 315.2 L1596.5 315.1 L1596.7 315.1 L1596.8 315.1 L1596.9 315.0 L1597.1 315.0 L1597.2 314.9 L1597.3 314.9 L1597.5 314.9 L1597.6 314.8 L1597.8 314.8 L1597.9 314.8 L1598.0 314.7 L1598.2 314.7 L1598.3 314.6 L1598.5 314.6 L1598.6 314.6 L1598.7 314.5 L1598.9 314.5 L1599.0 314.5 L1599.1 314.4 L1599.3 314.4 L1599.4 314.3 L1599.6 314.3 L1599.7 314.3 L1599.8 314.2 L1600.0 314.2 L1600.1 314.2 L1600.2 314.1 L1600.4 314.1 L1600.5 314.0 L1600.7 314.0 L1600.8 314.0 L1600.9 313.9 L1601.1 313.9 L1601.2 313.9 L1601.4 313.8 L1601.5 313.8 L1601.6 313.7 L1601.8 313.7 L1601.9 313.7 L1602.0 313.6 L1602.2 313.6 L1602.3 313.6 L1602.5 313.5 L1602.6 313.5 L1602.7 313.4 L1602.9 313.4 L1603.0 313.4 L1603.1 313.3 L1603.3 313.3 L1603.4 313.3 L1603.6 313.2 L1603.7 313.2 L1603.8 313.2 L1604.0 313.1 L1604.1 313.1 L1604.3 313.0 L1604.4 313.0 L1604.5 313.0 L1604.7 312.9 L1604.8 312.9 L1604.9 312.9 L1605.1 312.8 L1605.2 312.8 L1605.4 312.7 L1605.5 312.7 L1605.6 312.7 L1605.8 312.6 L1605.9 312.6 L1606.1 312.6 L1606.2 312.5 L1606.3 312.5 L1606.5 312.4 L1606.6 312.4 L1606.7 312.4 L1606.9 312.3 L1607.0 312.3 L1607.2 312.3 L1607.3 312.2 L1607.4 312.2 L1607.6 312.2 L1607.7 312.1 L1607.8 312.1 L1608.0 312.0 L1608.1 312.0 L1608.3 312.0 L1608.4 311.9 L1608.5 311.9 L1608.7 311.9 L1608.8 311.8 L1609.0 311.8 L1609.1 311.7 L1609.2 311.7 L1609.4 311.7 L1609.5 311.6 L1609.6 311.6 L1609.8 311.6 L1609.9 311.5 L1610.1 311.5 L1610.2 311.5 L1610.3 311.4 L1610.5 311.4 L1610.6 311.3 L1610.8 311.3 L1610.9 311.3 L1611.0 311.2 L1611.2 311.2 L1611.3 311.2 L1611.4 311.1 L1611.6 311.1 L1611.7 311.1 L1611.9 311.0 L1612.0 311.0 L1612.1 310.9 L1612.3 310.9 L1612.4 310.9 L1612.6 310.8 L1612.7 310.8 L1612.8 310.8 L1613.0 310.7 L1613.1 310.7 L1613.2 310.7 L1613.4 310.6 L1613.5 310.6 L1613.7 310.5 L1613.8 310.5 L1613.9 310.5 L1614.1 310.4 L1614.2 310.4 L1614.4 310.4 L1614.5 310.3 L1614.6 310.3 L1614.8 310.3 L1614.9 310.2 L1615.0 310.2 L1615.2 310.1 L1615.3 310.1 L1615.5 310.1 L1615.6 310.0 L1615.7 310.0 L1615.9 310.0 L1616.0 309.9 L1616.2 309.9 L1616.3 309.9 L1616.4 309.8 L1616.6 309.8 L1616.7 309.8 L1616.8 309.7 L1617.0 309.7 L1617.1 309.6 L1617.3 309.6 L1617.4 309.6 L1617.5 309.5 L1617.7 309.5 L1617.8 309.5 L1618.0 309.4 L1618.1 309.4 L1618.2 309.4 L1618.4 309.3 L1618.5 309.3 L1618.6 309.3 L1618.8 309.2 L1618.9 309.2 L1619.1 309.1 L1619.2 309.1 L1619.3 309.1 L1619.5 309.0 L1619.6 309.0 L1619.8 309.0 L1619.9 308.9 L1620.0 308.9 L1620.2 308.9 L1620.3 308.8 L1620.5 308.8 L1620.6 308.8 L1620.7 308.7 L1620.9 308.7 L1621.0 308.7 L1621.1 308.6 L1621.3 308.6 L1621.4 308.6 L1621.6 308.5 L1621.7 308.5 L1621.8 308.4 L1622.0 308.4 L1622.1 308.4 L1622.3 308.3 L1622.4 308.3 L1622.5 308.3 L1622.7 308.2 L1622.8 308.2 L1623.0 308.2 L1623.1 308.1 L1623.2 308.1 L1623.4 308.1 L1623.5 308.0 L1623.6 308.0 L1623.8 308.0 L1623.9 307.9 L1624.1 307.9 L1624.2 307.9 L1624.3 307.8 L1624.5 307.8 L1624.6 307.8 L1624.8 307.7 L1624.9 307.7 L1625.0 307.7 L1625.2 307.6 L1625.3 307.6 L1625.5 307.6 L1625.6 307.5 L1625.7 307.5 L1625.9 307.5 L1626.0 307.4 L1626.1 307.4 L1626.3 307.4 L1626.4 307.3 L1626.6 307.3 L1626.7 307.3 L1626.8 307.2 L1627.0 307.2 L1627.1 307.2 L1627.3 307.1 L1627.4 307.1 L1627.5 307.0 L1627.7 307.0 L1627.8 307.0 L1628.0 306.9 L1628.1 306.9 L1628.2 306.9 L1628.4 306.8 L1628.5 306.8 L1628.7 306.8 L1628.8 306.8 L1628.9 306.7 L1629.1 306.7 L1629.2 306.7 L1629.3 306.6 L1629.5 306.6 L1629.6 306.6 L1629.8 306.5 L1629.9 306.5 L1630.0 306.5 L1630.2 306.4 L1630.3 306.4 L1630.5 306.4 L1630.6 306.3 L1630.7 306.3 L1630.9 306.3 L1631.0 306.2 L1631.2 306.2 L1631.3 306.2 L1631.4 306.1 L1631.6 306.1 L1631.7 306.1 L1631.9 306.0 L1632.0 306.0 L1632.1 306.0 L1632.3 305.9 L1632.4 305.9 L1632.6 305.9 L1632.7 305.8 L1632.8 305.8 L1633.0 305.8 L1633.1 305.7 L1633.3 305.7 L1633.4 305.7 L1633.5 305.6 L1633.7 305.6 L1633.8 305.6 L1634.0 305.6 L1634.1 305.5 L1635.1 305.3 L1636.0 304.8 L1636.9 304.2 L1637.8 303.7 L1638.6 303.1 L1639.5 302.5 L1640.3 301.9 L1641.1 301.3 L1642.0 300.7 L1642.8 300.1 L1643.6 299.5 L1644.4 298.9 L1645.1 298.3 L1645.9 297.6 L1646.7 297.0 L1647.4 296.3 L1648.2 295.7 L1648.9 295.0 L1649.6 294.3 L1650.3 293.6 L1651.0 293.0 L1651.7 292.3 L1652.4 291.6 L1653.1 290.9 L1653.8 290.2 L1654.4 289.4 L1655.1 288.7 L1655.7 288.0 L1656.4 287.2 L1657.0 286.5 L1657.6 285.8 L1658.2 285.0 L1658.8 284.2 L1659.4 283.5 L1660.0 282.7 L1660.6 281.9 L1661.2 281.2 L1661.7 280.4 L1662.3 279.6 L1662.8 278.8 L1663.4 278.0 L1663.9 277.2 L1664.4 276.4 L1665.0 275.6 L1665.5 274.7 L1666.0 273.9 L1666.5 273.1 L1667.0 272.3 L1667.5 271.4 L1668.0 270.6 L1668.4 269.7 L1668.9 268.9 L1669.4 268.0 L1669.8 267.2 L1670.3 266.3 L1670.7 265.5 L1671.2 264.6 L1671.6 263.7 L1672.0 262.9 L1672.5 262.0 L1672.9 261.1 L1673.3 260.2 L1673.7 259.3 L1674.1 258.4 L1674.5 257.5 L1674.9 256.6 L1675.3 255.7 L1675.7 254.8 L1676.0 253.9 L1676.4 253.0 L1676.8 252.1 L1677.1 251.2 L1677.5 250.3 L1677.9 249.4 L1678.2 248.5 L1678.6 247.5 L1678.9 246.6 L1679.2 245.7 L1679.6 244.8 L1679.9 243.8 L1680.2 242.9 L1680.6 242.0 L1680.9 241.0 L1681.2 240.1 L1681.5 239.1 L1681.8 238.2 L1682.1 237.3 L1682.3 236.3 L1682.6 235.4 L1682.9 234.4 L1683.1 233.5 L1683.4 232.5 L1683.7 231.6 L1683.9 230.6 L1684.2 229.7 L1684.4 228.7 L1684.7 227.7 L1684.9 226.8 L1685.2 225.8 L1685.4 224.8 L1685.6 223.9 L1685.9 222.9 L1686.1 221.9 L1686.3 221.0 L1686.5 220.0 L1686.8 219.0 L1687.0 218.1 L1687.2 217.1 L1687.4 216.1 L1687.6 215.2 L1687.8 214.2 L1688.1 213.2 L1688.3 212.2 L1688.5 211.3 L1688.7 210.3 L1688.9 209.3 L1689.1 208.3 L1689.3 207.3 L1689.5 206.4 L1689.7 205.4 L1689.9 204.4 L1690.1 203.4 L1690.2 202.5 L1690.4 201.5 L1690.6 200.5 L1690.8 199.5 L1691.0 198.5 L1691.2 197.6 L1691.4 196.6 L1691.5 195.6 L1691.7 194.6 L1691.9 193.6 L1692.1 192.7 L1692.3 191.7 L1692.4 190.7 L1692.6 189.7 L1692.8 188.7 L1693.0 187.8 L1693.1 186.8 L1693.3 185.8 L1693.5 184.8 L1693.7 183.9 L1693.8 182.9 L1694.0 181.9 L1694.2 180.9 L1694.3 180.0 L1694.5 179.0 L1694.7 178.0 L1694.8 177.0 L1695.0 176.0 L1695.2 175.1 L1695.3 174.1 L1695.5 173.1 L1695.6 172.1 L1695.8 171.2 L1696.0 170.2 L1696.1 169.2 L1696.3 168.2 L1696.4 167.3 L1696.6 166.3 L1696.7 165.3 L1696.9 164.3 L1697.0 163.4 L1697.2 162.4 L1697.3 161.4 L1697.5 160.4 L1697.6 159.5 L1697.8 158.5 L1697.9 157.5 L1698.1 156.5 L1698.2 155.6 L1698.4 154.6 L1698.5 153.6 L1698.6 152.6 L1698.8 151.7 L1698.9 150.7 L1699.1 149.7 L1699.2 148.7 L1699.4 147.8 L1699.6 146.8 L1699.7 145.8 L1699.9 144.8 L1700.1 143.9 L1700.2 142.9 L1700.4 141.9 L1700.5 140.9 L1700.7 140.0 L1700.8 139.0 L1701.0 138.0 L1701.2 137.0 L1701.3 136.1 L1701.5 135.1 L1701.6 134.1 L1701.8 133.1 L1701.9 132.2 L1702.1 131.2 L1702.2 130.2 L1702.4 129.2 L1702.5 128.3 L1702.7 127.3 L1702.8 126.3 L1702.9 125.3 L1703.1 124.4 L1703.2 123.4 L1703.4 122.4 L1703.5 121.4 L1703.7 120.5 L1703.8 119.5 L1703.9 118.5 L1704.1 117.5 L1704.2 116.6 L1704.3 115.6 L1704.5 114.6 L1704.6 113.6 L1704.7 112.6 L1704.9 111.7 L1705.0 110.7 L1705.1 109.7 L1705.3 108.7 L1705.4 107.8 L1705.5 106.8 L1705.7 105.8 L1705.8 104.8 L1705.9 103.9 L1706.0 102.9 L1706.2 101.9 L1706.3 100.9 L1706.4 99.9 L1706.5 99.0 L1706.6 98.0 L1706.8 97.0 L1706.9 96.0 L1707.0 95.0 L1707.1 94.1 L1707.2 93.1 L1707.4 92.1 L1707.5 91.1 L1707.6 90.1 L1707.7 89.2 L1707.8 88.2 L1707.9 87.2 L1708.0 86.2 L1708.1 85.2 L1708.3 84.3 L1708.4 83.3 L1708.5 82.3 L1708.6 81.3 L1708.7 80.3 L1708.8 79.4 L1708.9 78.4 L1709.0 77.4 L1709.1 76.4 L1709.2 75.4 L1709.3 74.4 L1709.4 73.5 L1709.5 72.5 L1709.6 71.5 L1709.7 70.5 L1709.8 69.5 L1709.9 68.5 L1710.0 67.6 L1710.1 66.6 L1710.2 65.6 L1710.3 64.6 L1710.4 63.6 L1710.5 62.6 L1710.6 61.6 L1710.7 60.6 L1710.8 59.7 L1710.8 58.7 L1710.9 57.7 L1711.0 56.7 L1711.1 55.7 L1711.2 54.7 L1711.3 53.7 L1711.4 52.7 L1711.5 51.8 L1711.5 50.8 L1711.6 49.8 L1711.7 48.8 L1711.8 47.8 L1711.9 46.8 L1711.9 45.8 L1712.0 44.8 L1712.1 43.8 L1712.2 42.8 L1712.3 41.8 L1712.3 40.8 L1712.4 39.9 L1712.5 38.9 L1712.6 37.9 L1712.6 36.9 L1712.7 35.9 L1712.8 34.9 L1712.9 33.9 L1712.9 32.9 L1713.0 31.9 L1713.1 30.9 L1713.3 29.9" stroke="#00f" stroke-width="5.2"/>
<path d="M1016.9 610.5 L1019.2 610.2 L1021.5 610.0 L1023.8 609.8 L1026.1 609.5 L1028.4 609.3 L1030.7 609.1 L1033.0 608.8 L1035.4 608.6 L1037.7 608.4 L1040.0 608.1 L1042.3 607.9 L1044.6 607.7 L1046.9 607.4 L1049.2 607.2 L1051.5 607.0 L1053.8 606.7 L1056.1 606.5 L1058.4 606.3 L1060.7 606.0 L1063.0 605.8 L1065.3 605.6 L1067.6 605.3 L1069.9 605.1 L1072.2 604.8 L1074.5 604.6 L1076.8 604.4 L1079.1 604.1 L1081.5 603.9 L1083.8 603.6 L1086.1 603.4 L1088.4 603.1 L1090.7 602.9 L1093.0 602.7 L1095.3 602.4 L1097.6 602.2 L1099.9 601.9 L1102.2 601.6 L1104.5 601.4 L1106.8 601.1 L1109.1 600.9 L1111.4 600.6 L1113.7 600.4 L1116.0 600.1 L1118.3 599.8 L1120.6 599.6 L1122.9 599.3 L1125.2 599.0 L1127.5 598.8 L1129.8 598.5 L1132.1 598.2 L1134.4 597.9 L1136.7 597.7 L1139.0 597.4 L1141.3 597.1 L1143.6 596.8 L1145.9 596.5 L1148.2 596.2 L1150.5 595.9 L1152.8 595.7 L1155.1 595.4 L1157.4 595.1 L1159.7 594.8 L1162.0 594.5 L1164.2 594.2 L1166.5 593.8 L1168.8 593.5 L1171.1 593.2 L1173.4 592.9 L1175.7 592.6 L1178.0 592.3 L1180.3 591.9 L1182.6 591.6 L1184.9 591.3 L1187.2 591.0 L1189.5 590.6 L1191.7 590.3 L1194.0 589.9 L1196.3 589.6 L1198.6 589.3 L1200.9 588.9 L1203.2 588.6 L1205.5 588.2 L1207.8 587.8 L1210.0 587.5 L1212.3 587.1 L1214.6 586.7 L1216.9 586.4 L1219.2 586.0 L1221.5 585.6 L1223.7 585.2 L1226.0 584.8 L1228.3 584.4 L1230.6 584.0 L1232.9 583.6 L1235.1 583.2 L1237.4 582.8 L1239.7 582.4 L1242.0 582.0 L1244.3 581.6 L1246.5 581.2 L1248.8 580.7 L1251.1 580.3 L1253.4 579.9 L1255.6 579.4 L1257.9 579.0 L1260.2 578.5 L1262.4 578.1 L1264.7 577.6 L1267.0 577.2 L1269.3 576.7 L1271.5 576.2 L1273.8 575.8 L1276.1 575.3 L1278.3 574.8 L1280.6 574.3 L1282.9 573.8 L1285.1 573.3 L1287.4 572.8 L1289.6 572.3 L1291.9 571.8 L1294.2 571.3 L1296.4 570.8 L1298.7 570.2 L1301.0 569.7 L1303.2 569.2 L1305.5 568.6 L1307.7 568.1 L1310.0 567.5 L1312.2 567.0 L1314.5 566.4 L1316.7 565.8 L1319.0 565.3 L1321.2 564.7 L1323.5 564.1 L1325.7 563.5 L1328.0 562.9 L1330.2 562.3 L1332.4 561.7 L1334.7 561.0 L1336.9 560.4 L1339.1 559.7 L1341.3 559.1 L1343.5 558.4 L1345.8 557.8 L1348.0 557.1 L1350.2 556.4 L1352.4 555.7 L1354.6 555.0 L1356.8 554.3 L1358.9 553.6 L1361.1 552.8 L1363.3 552.1 L1365.5 551.3 L1367.7 550.6 L1369.8 549.8 L1372.0 549.0 L1374.1 548.2 L1376.3 547.4 L1378.4 546.6 L1380.6 545.8 L1382.7 544.9 L1384.9 544.1 L1387.0 543.2 L1389.1 542.4 L1391.2 541.5 L1393.3 540.6 L1395.4 539.7 L1397.5 538.7 L1399.6 537.8 L1401.7 536.9 L1403.8 535.9 L1405.9 534.9 L1407.9 533.9 L1410.0 532.9 L1412.0 531.9 L1414.1 530.9 L1416.1 529.8 L1418.2 528.8 L1420.2 527.7 L1422.2 526.6 L1424.2 525.5 L1426.2 524.4 L1428.2 523.3 L1430.2 522.1 L1432.2 521.0 L1434.1 519.8 L1436.1 518.6 L1438.1 517.4 L1440.0 516.2 L1441.9 514.9 L1443.9 513.7 L1445.8 512.4 L1447.7 511.1 L1449.6 509.8 L1451.5 508.5 L1453.4 507.1 L1455.3 505.7 L1457.1 504.4 L1459.0 503.0 L1460.8 501.6 L1462.6 500.1 L1464.5 498.7 L1466.2 497.2 L1468.0 495.7 L1469.8 494.2 L1471.5 492.7 L1473.3 491.2 L1475.0 489.6 L1476.7 488.0 L1478.4 486.5 L1480.0 484.8 L1481.7 483.2 L1483.3 481.6 L1484.9 479.9 L1486.4 478.2 L1488.0 476.5 L1489.5 474.8 L1491.0 473.1 L1492.5 471.4 L1494.0 469.6 L1495.5 467.8 L1496.9 466.1 L1498.4 464.3 L1499.8 462.5 L1501.2 460.7 L1502.5 458.8 L1503.9 457.0 L1505.2 455.2 L1506.4 453.3 L1507.7 451.5 L1509.0 449.6 L1510.3 447.7 L1511.6 445.9 L1512.8 444.0 L1514.1 442.1 L1515.3 440.2 L1516.6 438.3 L1517.8 436.4 L1519.0 434.5 L1520.3 432.6 L1521.5 430.7 L1522.7 428.7 L1523.9 426.8 L1525.0 424.9 L1526.2 422.9 L1527.4 421.0 L1528.6 419.0 L1529.8 417.0 L1531.0 415.1 L1532.2 413.1 L1533.4 411.1 L1534.6 409.1 L1535.7 407.1 L1536.9 405.1 L1538.1 403.1 L1539.2 401.1 L1540.3 399.1 L1541.5 397.1 L1542.6 395.0 L1543.7 393.0 L1544.8 391.0 L1545.9 388.9 L1546.9 386.8 L1548.0 384.8 L1549.0 382.7 L1550.1 380.6 L1551.1 378.6 L1552.2 376.5 L1553.2 374.4 L1554.2 372.3 L1555.3 370.2 L1556.4 368.1 L1557.5 366.1 L1558.6 364.0 L1559.7 361.9 L1560.8 359.8 L1561.9 357.8 L1563.0 355.7 L1564.1 353.6 L1565.2 351.6 L1566.4 349.5 L1567.5 347.5 L1568.7 345.5 L1569.9 343.4 L1571.1 341.4 L1572.3 339.4 L1573.5 337.4 L1574.8 335.5 L1576.0 333.5 L1577.3 331.6 L1578.7 329.7 L1580.3 327.8 L1582.0 325.9 L1583.7 324.1 L1585.5 322.4 L1587.3 320.7 L1589.0 319.0 L1590.6 317.4 L1592.6 316.1 L1592.8 316.1 L1592.9 316.1 L1593.1 316.1 L1593.2 316.0 L1593.3 316.0 L1593.5 315.9 L1593.6 315.9 L1593.8 315.9 L1593.9 315.8 L1594.0 315.8 L1594.2 315.8 L1594.3 315.7 L1594.4 315.7 L1594.6 315.6 L1594.7 315.6 L1594.9 315.6 L1595.0 315.5 L1595.1 315.5 L1595.3 315.5 L1595.4 315.4 L1595.5 315.4 L1595.7 315.4 L1595.8 315.3 L1596.0 315.3 L1596.1 315.2 L1596.2 315.2 L1596.4 315.2 L1596.5 315.1 L1596.7 315.1 L1596.8 315.1 L1596.9 315.0 L1597.1 315.0 L1597.2 314.9 L1597.3 314.9 L1597.5 314.9 L1597.6 314.8 L1597.8 314.8 L1597.9 314.8 L1598.0 314.7 L1598.2 314.7 L1598.3 314.6 L1598.5 314.6 L1598.6 314.6 L1598.7 314.5 L1598.9 314.5 L1599.0 314.5 L1599.1 314.4 L1599.3 314.4 L1599.4 314.3 L1599.6 314.3 L1599.7 314.3 L1599.8 314.2 L1600.0 314.2 L1600.1 315.6 L1600.2 315.6 L1600.4 315.6 L1600.5 315.5 L1600.7 315.5 L1600.8 315.5 L1600.9 315.5 L1601.1 315.4 L1601.2 315.4 L1601.4 315.4 L1601.5 315.4 L1601.6 315.4 L1601.8 315.3 L1601.9 315.3 L1602.0 315.3 L1602.2 315.3 L1602.3 315.3 L1602.5 315.2 L1602.6 315.2 L1602.7 315.2 L1602.9 315.2 L1603.0 315.2 L1603.1 315.1 L1603.3 315.1 L1603.4 315.1 L1603.6 315.1 L1603.7 315.1 L1603.8 315.0 L1604.0 315.0 L1604.1 315.0 L1604.3 315.0 L1604.4 315.0 L1604.5 314.9 L1604.7 314.9 L1604.8 314.9 L1604.9 314.9 L1605.1 314.8 L1605.2 314.8 L1605.4 314.8 L1605.5 314.8 L1605.6 314.8 L1605.8 314.7 L1605.9 314.7 L1606.1 314.7 L1606.2 314.7 L1606.3 314.7 L1606.5 314.6 L1606.6 314.6 L1606.7 314.6 L1606.9 314.6 L1607.0 314.6 L1607.2 314.5 L1607.3 314.5 L1607.4 314.5 L1607.6 314.5 L1607.7 314.5 L1607.8 314.4 L1608.0 314.4 L1608.1 314.4 L1608.3 314.4 L1608.4 314.4 L1608.6 314.3 L1608.7 314.3 L1608.8 314.3 L1609.0 314.3 L1609.1 314.3 L1609.3 314.2 L1609.4 314.2 L1609.6 314.2 L1609.7 314.2 L1609.9 314.2 L1610.0 314.1 L1610.1 314.1 L1610.3 314.1 L1610.4 314.1 L1610.6 314.1 L1610.7 314.0 L1610.9 314.0 L1611.0 314.0 L1611.2 314.0 L1611.3 314.0 L1611.4 313.9 L1611.6 313.9 L1611.7 313.9 L1611.9 313.9 L1612.0 313.9 L1612.2 313.8 L1612.3 313.8 L1612.5 313.8 L1612.6 313.8 L1612.7 313.8 L1612.9 313.7 L1613.0 313.7 L1613.2 313.7 L1613.3 313.7 L1613.5 313.7 L1613.6 313.6 L1613.8 313.6 L1613.9 313.6 L1614.0 313.6 L1614.2 313.6 L1614.3 313.5 L1614.5 313.5 L1614.6 313.5 L1614.8 313.5 L1614.9 313.5 L1615.1 313.4 L1615.2 313.4 L1615.3 313.4 L1615.5 313.4 L1615.6 313.4 L1615.8 313.3 L1615.9 313.3 L1616.1 313.3 L1616.2 313.3 L1616.4 313.3 L1616.5 313.2 L1616.6 313.2 L1616.8 313.2 L1616.9 313.2 L1617.1 313.2 L1617.2 313.1 L1617.4 313.1 L1617.5 313.1 L1617.7 313.1 L1617.8 313.1 L1617.9 313.0 L1618.1 313.0 L1618.2 313.0 L1618.4 313.0 L1618.5 313.0 L1618.7 312.9 L1618.8 312.9 L1619.0 312.9 L1619.1 312.9 L1619.3 312.9 L1619.4 312.9 L1619.5 312.8 L1619.7 312.8 L1619.8 312.8 L1620.0 312.8 L1620.1 312.8 L1620.3 312.7 L1620.4 312.7 L1620.6 312.7 L1620.7 312.7 L1620.8 312.7 L1621.0 312.6 L1621.1 312.6 L1621.3 312.6 L1621.4 312.6 L1621.6 312.6 L1621.7 312.5 L1621.9 312.5 L1622.0 312.5 L1622.1 312.5 L1622.3 312.5 L1622.4 312.4 L1622.6 312.4 L1622.7 312.4 L1622.9 312.4 L1623.0 312.4 L1623.2 312.4 L1623.3 312.3 L1623.4 312.3 L1623.6 312.3 L1623.7 312.3 L1623.9 312.3 L1624.0 312.2 L1624.2 312.2 L1624.3 312.2 L1624.5 312.2 L1624.6 312.2 L1624.7 312.1 L1624.9 312.1 L1625.0 312.1 L1625.2 312.1 L1625.3 312.1 L1625.5 312.0 L1625.6 312.0 L1625.8 312.0 L1625.9 312.0 L1626.0 312.0 L1626.2 312.0 L1626.3 311.9 L1626.5 311.9 L1626.6 311.9 L1626.8 311.9 L1626.9 311.9 L1627.1 311.8 L1627.2 311.8 L1627.4 311.8 L1627.5 311.8 L1627.6 311.8 L1627.8 311.8 L1627.9 311.7 L1628.1 311.7 L1628.2 311.7 L1628.4 311.7 L1628.5 311.7 L1628.7 311.6 L1628.8 311.6 L1628.9 311.6 L1629.1 311.6 L1629.2 311.6 L1629.4 311.5 L1629.5 311.5 L1629.7 311.5 L1629.8 311.5 L1630.0 311.5 L1630.1 311.5 L1630.2 311.4 L1630.4 311.4 L1630.5 311.4 L1630.7 311.4 L1630.8 311.4 L1631.0 311.3 L1631.1 311.3 L1631.3 311.3 L1631.4 311.3 L1631.5 311.3 L1631.7 311.3 L1631.8 311.2 L1632.0 311.2 L1632.1 311.2 L1632.3 311.2 L1632.4 311.2 L1632.6 311.2 L1632.7 311.1 L1632.9 311.1 L1633.0 311.1 L1633.1 311.1 L1633.3 311.1 L1633.4 311.0 L1633.6 311.0 L1633.7 311.0 L1633.9 311.0 L1634.0 311.0 L1634.2 311.0 L1634.3 310.9 L1634.4 310.9 L1634.6 310.9 L1634.7 310.9 L1634.9 310.9 L1635.0 310.9 L1635.2 310.8 L1636.2 310.7 L1637.2 310.4 L1638.2 310.1 L1639.2 309.6 L1640.1 309.0 L1641.1 308.3 L1642.0 307.6 L1642.9 307.0 L1643.8 306.3 L1644.7 305.6 L1645.6 304.9 L1646.4 304.2 L1647.3 303.4 L1648.1 302.7 L1648.9 302.0 L1649.7 301.2 L1650.5 300.5 L1651.2 299.7 L1652.0 298.9 L1652.8 298.2 L1653.5 297.4 L1654.2 296.6 L1655.0 295.8 L1655.7 295.0 L1656.4 294.2 L1657.1 293.2 L1657.8 292.2 L1658.5 291.2 L1659.2 290.1 L1659.9 289.1 L1660.6 288.1 L1661.2 287.0 L1661.9 285.9 L1662.5 284.9 L1663.2 283.8 L1663.8 282.7 L1664.4 281.6 L1665.0 280.5 L1665.6 279.6 L1666.2 278.8 L1666.8 278.0 L1667.4 277.2 L1668.0 276.4 L1668.6 275.6 L1669.2 274.7 L1669.7 273.9 L1670.3 273.1 L1670.8 272.3 L1671.4 271.4 L1671.9 270.6 L1672.4 269.7 L1672.9 268.9 L1673.3 268.0 L1673.8 267.2 L1674.2 266.3 L1674.7 265.5 L1675.1 264.6 L1675.5 263.7 L1675.9 262.9 L1676.4 262.0 L1676.8 261.1 L1677.2 260.2 L1677.6 259.3 L1677.9 258.4 L1678.3 257.5 L1678.7 256.6 L1679.1 255.7 L1679.5 254.8 L1679.8 253.9 L1680.2 253.0 L1680.6 252.1 L1680.9 251.2 L1681.3 250.3 L1681.6 249.4 L1681.9 248.5 L1682.3 247.5 L1682.6 246.6 L1682.9 245.7 L1683.3 244.8 L1683.6 243.8 L1683.9 242.9 L1684.2 242.0 L1684.5 241.0 L1684.8 240.1 L1685.1 239.1 L1685.4 238.2 L1685.6 237.3 L1685.9 236.3 L1686.2 235.4 L1686.4 234.4 L1686.7 233.5 L1686.9 232.5 L1687.2 231.6 L1687.4 230.6 L1687.6 229.7 L1687.8 228.7 L1688.0 227.7 L1688.2 226.8 L1688.4 225.8 L1688.5 224.8 L1688.7 223.9 L1688.9 222.9 L1689.1 221.9 L1689.2 221.0 L1689.4 220.0 L1689.5 219.0 L1689.7 218.1 L1689.8 217.1 L1690.0 216.1 L1690.1 215.2 L1690.3 214.2 L1690.4 213.2 L1690.6 212.2 L1690.7 211.3 L1690.9 210.3 L1691.0 209.3 L1691.1 208.3 L1691.3 207.3 L1691.4 206.4 L1691.5 205.4 L1691.7 204.4 L1691.8 203.4 L1691.9 202.5 L1692.0 201.5 L1692.2 200.5 L1692.3 199.5 L1692.4 198.5 L1692.6 197.6 L1692.7 196.6 L1692.8 195.6 L1693.0 194.6 L1693.1 193.6 L1693.2 192.7 L1693.3 191.7 L1693.5 190.7 L1693.6 189.7 L1693.7 188.7 L1693.9 187.8 L1694.0 186.8 L1694.1 185.8 L1694.2 184.8 L1694.3 183.9 L1694.5 182.9 L1694.6 181.9 L1694.7 180.9 L1694.8 180.0 L1694.9 179.0 L1695.1 178.0 L1695.2 177.0 L1695.3 176.0 L1695.4 175.1 L1695.5 174.1 L1695.6 173.1 L1695.7 172.1 L1695.9 171.2 L1696.0 170.2 L1696.1 169.2 L1696.2 168.2 L1696.3 167.3 L1696.4 166.3 L1696.5 165.3 L1696.6 164.3 L1696.7 163.4 L1696.8 162.4 L1696.9 161.4 L1697.0 160.4 L1697.1 159.5 L1697.2 158.5 L1697.3 157.5 L1697.4 156.5 L1697.5 155.6 L1697.6 154.6 L1697.7 153.6 L1697.8 152.6 L1697.9 151.7 L1698.0 150.7 L1698.1 149.7 L1698.2 148.7 L1698.4 147.8 L1698.6 146.8 L1698.7 145.8 L1698.9 144.8 L1699.1 143.9 L1699.2 142.9 L1699.4 141.9 L1699.5 140.9 L1699.7 140.0 L1699.8 139.0 L1700.0 138.0 L1700.2 137.0 L1700.3 136.1 L1700.5 135.1 L1700.6 134.1 L1700.8 133.1 L1700.9 132.2 L1701.1 131.2 L1701.2 130.2 L1701.4 129.2 L1701.5 128.3 L1701.7 127.3 L1701.8 126.3 L1701.9 125.3 L1702.1 124.4 L1702.2 123.4 L1702.4 122.4 L1702.5 121.4 L1702.7 120.5 L1702.8 119.5 L1702.9 118.5 L1703.1 117.5 L1703.2 116.6 L1703.3 115.6 L1703.5 114.6 L1703.6 113.6 L1703.7 112.6 L1703.9 111.7 L1704.0 110.7 L1704.1 109.7 L1704.3 108.7 L1704.4 107.8 L1704.5 106.8 L1704.7 105.8 L1704.8 104.8 L1704.9 103.9 L1705.0 102.9 L1705.2 101.9 L1705.3 100.9 L1705.4 99.9 L1705.5 99.0 L1705.6 98.0 L1705.8 97.0 L1705.9 96.0 L1706.0 95.0 L1706.1 94.1 L1706.2 93.1 L1706.4 92.1 L1706.5 91.1 L1706.6 90.1 L1706.7 89.2 L1706.8 88.2 L1706.9 87.2 L1707.0 86.2 L1707.1 85.2 L1707.3 84.3 L1707.4 83.3 L1707.5 82.3 L1707.6 81.3 L1707.7 80.3 L1707.8 79.4 L1707.9 78.4 L1708.0 77.4 L1708.1 76.4 L1708.2 75.4 L1708.3 74.4 L1708.4 73.5 L1708.5 72.5 L1708.6 71.5 L1708.7 70.5 L1708.8 69.5 L1708.9 68.5 L1709.0 67.6 L1709.1 66.6 L1709.2 65.6 L1709.3 64.6 L1709.4 63.6 L1709.5 62.6 L1709.6 61.6 L1709.7 60.6 L1709.8 59.7 L1709.8 58.7 L1709.9 57.7 L1710.0 56.7 L1710.1 55.7 L1710.2 54.7 L1710.3 53.7 L1710.4 52.7 L1710.5 51.8 L1710.5 50.8 L1710.6 49.8 L1710.7 48.8 L1710.8 47.8 L1710.9 46.8 L1710.9 45.8 L1711.0 44.8 L1711.1 43.8 L1711.2 42.8 L1711.3 41.8 L1711.3 40.8 L1711.4 39.9 L1711.5 38.9 L1711.6 37.9 L1711.6 36.9 L1711.7 35.9 L1711.8 34.9 L1711.9 33.9 L1711.9 32.9 L1712.0 31.9 L1712.1 30.9 L1712.3 29.9" stroke="#00f" stroke-width="5.2" stroke-dasharray="19.2 19.2"/>
<path d="M1016.9 610.8 L1019.3 610.4 L1021.6 610.2 L1023.9 610.0 L1026.3 609.8 L1028.6 609.6 L1031.0 609.4 L1033.3 609.2 L1035.7 609.0 L1038.0 608.8 L1040.4 608.6 L1042.7 608.3 L1045.1 608.1 L1047.4 607.9 L1049.8 607.7 L1052.1 607.5 L1054.5 607.3 L1056.8 607.0 L1059.1 606.8 L1061.5 606.6 L1063.8 606.3 L1066.2 606.1 L1068.5 605.9 L1070.9 605.7 L1073.2 605.4 L1075.6 605.2 L1077.9 604.9 L1080.3 604.7 L1082.6 604.5 L1084.9 604.2 L1087.3 604.0 L1089.6 603.7 L1092.0 603.5 L1094.3 603.2 L1096.7 603.0 L1099.0 602.7 L1101.4 602.5 L1103.7 602.2 L1106.0 601.9 L1108.4 601.7 L1110.7 601.4 L1113.1 601.2 L1115.4 600.9 L1117.8 600.6 L1120.1 600.3 L1122.4 600.1 L1124.8 599.8 L1127.1 599.5 L1129.5 599.2 L1131.8 598.9 L1134.1 598.7 L1136.5 598.4 L1138.8 598.1 L1141.2 597.8 L1143.5 597.5 L1145.8 597.2 L1148.2 596.9 L1150.5 596.6 L1152.9 596.3 L1155.2 596.0 L1157.5 595.7 L1159.9 595.4 L1162.2 595.1 L1164.5 594.7 L1166.9 594.4 L1169.2 594.1 L1171.5 593.8 L1173.9 593.5 L1176.2 593.1 L1178.5 592.8 L1180.9 592.5 L1183.2 592.1 L1185.5 591.8 L1187.9 591.5 L1190.2 591.1 L1192.5 590.8 L1194.9 590.4 L1197.2 590.1 L1199.5 589.7 L1201.9 589.4 L1204.2 589.0 L1206.5 588.6 L1208.8 588.3 L1211.2 587.9 L1213.5 587.5 L1215.8 587.2 L1218.2 586.8 L1220.5 586.4 L1222.8 586.0 L1225.1 585.6 L1227.4 585.3 L1229.8 584.9 L1232.1 584.5 L1234.4 584.1 L1236.7 583.7 L1239.1 583.3 L1241.4 582.9 L1243.7 582.5 L1246.0 582.1 L1248.3 581.6 L1250.7 581.2 L1253.0 580.8 L1255.3 580.4 L1257.6 579.9 L1259.9 579.5 L1262.2 579.1 L1264.6 578.6 L1266.9 578.2 L1269.2 577.8 L1271.5 577.3 L1273.8 576.9 L1276.1 576.4 L1278.4 576.0 L1280.7 575.5 L1283.1 575.0 L1285.4 574.6 L1287.7 574.1 L1290.0 573.6 L1292.3 573.2 L1294.6 572.7 L1296.9 572.2 L1299.2 571.7 L1301.5 571.2 L1303.8 570.7 L1306.1 570.2 L1308.4 569.7 L1310.8 569.2 L1313.1 568.7 L1315.4 568.2 L1317.8 567.7 L1320.1 567.1 L1322.4 566.6 L1324.8 566.1 L1327.1 565.5 L1329.4 565.0 L1331.8 564.5 L1334.1 563.9 L1336.4 563.3 L1338.7 562.8 L1341.1 562.2 L1343.4 561.6 L1345.7 561.0 L1348.0 560.4 L1350.3 559.8 L1352.7 559.2 L1355.0 558.6 L1357.3 558.0 L1359.6 557.4 L1361.9 556.7 L1364.2 556.1 L1366.5 555.5 L1368.8 554.8 L1371.1 554.1 L1373.4 553.5 L1375.7 552.8 L1378.0 552.1 L1380.3 551.4 L1382.6 550.7 L1384.9 550.0 L1387.2 549.2 L1389.5 548.5 L1391.8 547.8 L1394.0 547.0 L1396.3 546.2 L1398.6 545.5 L1400.9 544.7 L1403.2 543.9 L1405.4 543.1 L1407.7 542.3 L1410.0 541.5 L1412.2 540.6 L1414.5 539.8 L1416.7 538.9 L1419.0 538.1 L1421.2 537.2 L1423.5 536.3 L1425.7 535.4 L1428.0 534.5 L1430.2 533.6 L1432.5 532.6 L1434.7 531.7 L1436.9 530.7 L1439.1 529.7 L1441.4 528.8 L1443.6 527.8 L1445.8 526.8 L1448.0 525.7 L1450.2 524.7 L1452.4 523.6 L1454.6 522.6 L1456.8 521.5 L1459.0 520.4 L1461.1 519.3 L1463.2 518.2 L1465.2 517.1 L1467.3 515.9 L1469.3 514.8 L1471.4 513.6 L1473.4 512.4 L1475.4 511.2 L1477.5 510.0 L1479.5 508.8 L1481.5 507.6 L1483.4 506.3 L1485.4 505.1 L1487.4 503.8 L1489.3 502.5 L1491.3 501.2 L1493.2 499.9 L1495.1 498.5 L1497.0 497.2 L1498.9 495.8 L1500.7 494.4 L1502.5 493.1 L1504.2 491.6 L1505.9 490.2 L1507.6 488.8 L1509.3 487.3 L1511.0 485.9 L1512.6 484.4 L1514.3 482.9 L1515.9 481.4 L1517.5 479.8 L1519.1 478.3 L1520.6 476.7 L1522.2 475.2 L1523.7 473.6 L1525.2 472.0 L1526.7 470.3 L1528.2 468.7 L1529.7 467.0 L1531.2 465.4 L1532.8 463.7 L1534.3 462.0 L1535.8 460.3 L1537.2 458.5 L1538.7 456.8 L1540.1 455.0 L1541.5 453.2 L1542.9 451.4 L1544.3 449.6 L1545.7 447.8 L1547.0 445.9 L1548.3 444.0 L1549.6 442.2 L1550.9 440.3 L1552.1 438.3 L1553.3 436.4 L1554.5 434.4 L1555.7 432.5 L1556.9 430.5 L1558.0 428.5 L1559.1 426.4 L1560.2 424.4 L1561.2 422.3 L1562.2 420.3 L1563.2 418.2 L1564.2 416.1 L1565.4 413.9 L1566.5 411.8 L1567.6 409.6 L1568.7 407.4 L1569.8 405.2 L1570.8 403.0 L1571.8 400.8 L1572.8 398.5 L1573.8 396.3 L1574.7 394.0 L1575.7 391.7 L1576.5 389.4 L1577.3 387.1 L1578.1 384.8 L1578.9 382.5 L1579.6 380.2 L1580.4 377.9 L1581.1 375.5 L1581.8 373.2 L1582.4 370.9 L1583.1 368.6 L1583.7 366.2 L1584.4 363.9 L1584.9 361.6 L1585.5 359.3 L1586.0 357.0 L1586.6 354.7 L1587.1 352.4 L1587.6 350.1 L1588.1 347.8 L1588.6 345.5 L1589.1 343.3 L1589.5 341.0 L1590.0 338.7 L1590.4 336.5 L1590.8 334.2 L1591.2 332.0 L1591.5 329.7 L1591.8 327.5 L1592.1 325.2 L1592.3 322.9 L1592.1 320.4 L1592.5 319.1 L1592.4 318.0 L1592.2 317.1 L1591.8 316.2 L1591.3 315.4 L1590.8 314.7 L1590.1 314.0 L1589.4 313.3 L1588.7 312.7 L1587.9 312.1 L1587.1 311.5 L1586.3 310.8 L1585.5 310.2 L1584.7 309.6 L1583.9 308.9 L1583.1 308.3 L1582.3 307.6 L1581.6 306.9 L1580.8 306.2 L1580.1 305.5 L1579.4 304.8 L1578.7 304.1 L1578.0 303.4 L1577.3 302.6 L1576.6 301.9 L1575.9 301.1 L1575.3 300.3 L1574.7 299.6 L1574.0 298.8 L1573.4 298.0 L1572.8 297.2 L1572.3 296.4 L1571.7 295.6 L1571.2 294.7 L1570.6 293.9 L1570.1 293.1 L1569.6 292.2 L1569.1 291.4 L1568.6 290.5 L1568.1 289.6 L1567.7 288.7 L1567.2 287.9 L1566.8 287.0 L1566.4 286.1 L1566.0 285.2 L1565.6 284.3 L1565.2 283.4 L1564.8 282.5 L1564.4 281.5 L1564.0 280.6 L1563.7 279.7 L1563.4 278.7 L1563.0 277.8 L1562.7 276.8 L1562.4 275.9 L1562.1 274.9 L1561.8 274.0 L1561.5 273.0 L1561.2 272.0 L1560.9 271.1 L1560.6 270.1 L1560.4 269.1 L1560.1 268.1 L1559.9 267.2 L1559.6 266.2 L1559.4 265.2 L1559.1 264.2 L1558.9 263.2 L1558.7 262.2 L1558.5 261.2 L1558.3 260.2 L1558.1 259.2 L1557.9 258.2 L1557.6 257.2 L1557.5 256.2 L1557.3 255.2 L1557.1 254.1 L1556.9 253.1 L1556.7 252.1 L1556.5 251.1 L1556.3 250.1 L1556.2 249.1 L1556.0 248.1 L1555.8 247.1 L1555.6 246.0 L1555.5 245.0 L1555.3 244.0 L1555.1 243.0 L1554.9 242.0 L1554.8 241.0 L1554.6 240.0 L1554.4 238.9 L1554.3 237.9 L1554.1 236.9 L1553.9 235.9 L1553.8 234.9 L1553.6 233.9 L1553.5 232.9 L1553.3 231.9 L1553.1 230.9 L1553.0 229.8 L1552.8 228.8 L1552.7 227.8 L1552.5 226.8 L1552.4 225.8 L1552.2 224.8 L1552.1 223.8 L1551.9 222.8 L1551.8 221.8 L1551.6 220.7 L1551.5 219.7 L1551.3 218.7 L1551.2 217.7 L1551.0 216.7 L1550.9 215.7 L1550.7 214.7 L1550.6 213.7 L1550.5 212.7 L1550.3 211.7 L1550.2 210.7 L1550.0 209.7 L1549.9 208.6 L1549.8 207.6 L1549.6 206.6 L1549.5 205.6 L1549.4 204.6 L1549.2 203.6 L1549.1 202.6 L1549.0 201.6 L1548.8 200.6 L1548.7 199.6 L1548.6 198.6 L1548.5 197.6 L1548.3 196.6 L1548.2 195.6 L1548.1 194.5 L1548.0 193.5 L1547.8 192.5 L1547.7 191.5 L1547.6 190.5 L1547.5 189.5 L1547.3 188.5 L1547.2 187.5 L1547.1 186.5 L1547.0 185.5 L1546.9 184.5 L1546.8 183.5 L1546.6 182.5 L1546.5 181.5 L1546.4 180.5 L1546.3 179.5 L1546.2 178.5 L1546.1 177.4 L1546.0 176.4 L1545.9 175.4 L1545.7 174.4 L1545.6 173.4 L1545.5 172.4 L1545.4 171.4 L1545.3 170.4 L1545.2 169.4 L1545.1 168.4 L1545.0 167.4 L1544.9 166.4 L1544.8 165.4 L1544.7 164.4 L1544.6 163.4 L1544.5 162.4 L1544.4 161.4 L1544.3 160.4 L1544.2 159.4 L1544.1 158.3 L1544.0 157.3 L1543.9 156.3 L1543.8 155.3 L1543.7 154.3 L1543.6 153.3 L1543.5 152.3 L1543.4 151.3 L1543.3 150.3 L1543.2 149.3 L1543.1 148.3 L1543.0 147.3 L1542.9 146.3 L1542.8 145.3 L1542.7 144.3 L1542.6 143.3 L1542.6 142.3 L1542.5 141.3 L1542.4 140.3 L1542.3 139.3 L1542.2 138.2 L1542.1 137.2 L1542.0 136.2 L1541.9 135.2 L1541.8 134.2 L1541.8 133.2 L1541.7 132.2 L1541.6 131.2 L1541.5 130.2 L1541.4 129.2 L1541.3 128.2 L1541.2 127.2 L1541.2 126.2 L1541.1 125.2 L1541.0 124.2 L1540.9 123.2 L1540.8 122.1 L1540.7 121.1 L1540.7 120.1 L1540.6 119.1 L1540.5 118.1 L1540.4 117.1 L1540.3 116.1 L1540.3 115.1 L1540.2 114.1 L1540.1 113.1 L1540.0 112.1 L1540.0 111.1 L1539.9 110.1 L1539.8 109.1 L1539.7 108.0 L1539.6 107.0 L1539.6 106.0 L1539.5 105.0 L1539.4 104.0 L1539.3 103.0 L1539.3 102.0 L1539.2 101.0 L1539.1 100.0 L1539.0 99.0 L1539.0 98.0 L1538.9 96.9 L1538.8 95.9 L1538.7 94.9 L1538.7 93.9 L1538.6 92.9 L1538.5 91.9 L1538.5 90.9 L1538.4 89.9 L1538.3 88.9 L1538.2 87.9 L1538.2 86.8 L1538.1 85.8 L1538.0 84.8 L1537.9 83.8 L1537.9 82.8 L1537.8 81.8 L1537.7 80.8 L1537.7 79.8 L1537.6 78.7 L1537.5 77.7 L1537.5 76.7 L1537.4 75.7 L1537.3 74.7 L1537.2 73.7 L1537.2 72.7 L1537.1 71.7 L1537.0 70.6 L1537.0 69.6 L1536.9 68.6 L1536.8 67.6 L1536.8 66.6 L1536.7 65.6 L1536.6 64.5 L1536.5 63.5 L1536.5 62.5 L1536.4 61.5 L1536.3 60.5 L1536.3 59.5 L1536.2 58.4 L1536.1 57.4 L1536.1 56.4 L1536.0 55.4 L1535.9 54.4 L1535.9 53.4 L1535.8 52.3 L1535.7 51.3 L1535.6 50.3 L1535.6 49.3 L1535.5 48.3 L1535.4 47.2 L1535.4 46.2 L1535.3 45.2 L1535.2 44.2 L1535.2 43.2 L1535.1 42.1 L1535.0 41.1 L1535.0 40.1 L1534.9 39.1 L1534.8 38.1 L1534.7 37.0 L1534.7 36.0 L1534.6 35.0 L1534.5 34.0 L1534.5 32.9 L1534.4 31.9 L1534.3 30.9 L1534.2 29.9" stroke="#000" stroke-width="5.2"/>
<path d="M1527.3 59.6 L1527.3 60.5 L1527.4 61.4 L1527.4 62.3 L1527.5 63.3 L1527.5 64.2 L1527.6 65.2 L1527.6 66.1 L1527.7 67.1 L1527.8 68.0 L1527.8 69.0 L1527.9 69.9 L1527.9 70.8 L1528.0 71.8 L1528.0 72.7 L1528.1 73.7 L1528.1 74.6 L1528.2 75.6 L1528.3 76.5 L1528.3 77.4 L1528.4 78.4 L1528.4 79.3 L1528.5 80.3 L1528.5 81.2 L1528.6 82.1 L1528.6 83.1 L1528.7 84.0 L1528.8 85.0 L1528.8 85.9 L1528.9 86.8 L1528.9 87.8 L1529.0 88.7 L1529.0 89.7 L1529.1 90.6 L1529.1 91.5 L1529.2 92.5 L1529.2 93.4 L1529.3 94.3 L1529.4 95.3 L1529.4 96.2 L1529.5 97.2 L1529.5 98.1 L1529.6 99.0 L1529.6 100.0 L1529.7 100.9 L1529.8 101.8 L1529.8 102.8 L1529.9 103.7 L1529.9 104.7 L1530.0 105.6 L1530.0 106.5 L1530.1 107.5 L1530.2 108.4 L1530.2 109.3 L1530.3 110.3 L1530.3 111.2 L1530.4 112.1 L1530.5 113.1 L1530.5 114.0 L1530.6 114.9 L1530.6 115.9 L1530.7 116.8 L1530.8 117.7 L1530.8 118.7 L1530.9 119.6 L1530.9 120.5 L1531.0 121.5 L1531.1 122.4 L1531.1 123.3 L1531.2 124.3 L1531.2 125.2 L1531.3 126.1 L1531.4 127.1 L1531.4 128.0 L1531.5 128.9 L1531.6 129.9 L1531.6 130.8 L1531.7 131.7 L1531.8 132.7 L1531.8 133.6 L1531.9 134.5 L1532.0 135.5 L1532.0 136.4 L1532.1 137.3 L1532.2 138.3 L1532.2 139.2 L1532.3 140.1 L1532.4 141.1 L1532.5 142.0 L1532.5 142.9 L1532.6 143.8 L1532.7 144.8 L1532.7 145.7 L1532.8 146.6 L1532.9 147.6 L1533.0 148.5 L1533.0 149.4 L1533.1 150.4 L1533.2 151.3 L1533.3 152.2 L1533.3 153.1 L1533.4 154.1 L1533.5 155.0 L1533.6 155.9 L1533.7 156.9 L1533.7 157.8 L1533.8 158.7 L1533.9 159.7 L1534.0 160.6 L1534.1 161.5 L1534.2 162.4 L1534.2 163.4 L1534.3 164.3 L1534.4 165.2 L1534.5 166.2 L1534.6 167.1 L1534.7 168.0 L1534.8 168.9 L1534.8 169.9 L1534.9 170.8 L1535.0 171.7 L1535.1 172.7 L1535.2 173.6 L1535.3 174.5 L1535.4 175.4 L1535.5 176.4 L1535.6 177.3 L1535.7 178.2 L1535.8 179.2 L1535.9 180.1 L1536.0 181.0 L1536.1 182.0 L1536.2 182.9 L1536.3 183.8 L1536.4 184.7 L1536.5 185.7 L1536.6 186.6 L1536.7 187.5 L1536.8 188.5 L1536.9 189.4 L1537.0 190.3 L1537.1 191.2 L1537.2 192.2 L1537.3 193.1 L1537.4 194.0 L1537.6 195.0 L1537.7 195.9 L1537.8 196.8 L1537.9 197.7 L1538.0 198.7 L1538.1 199.6 L1538.2 200.5 L1538.4 201.5 L1538.5 202.4 L1538.6 203.3 L1538.7 204.2 L1538.9 205.2 L1539.0 206.1 L1539.1 207.0 L1539.2 208.0 L1539.4 208.9 L1539.5 209.8 L1539.6 210.7 L1539.7 211.7 L1539.9 212.6 L1540.0 213.5 L1540.1 214.5 L1540.3 215.4 L1540.4 216.3 L1540.5 217.2 L1540.7 218.2 L1540.8 219.1 L1541.0 220.0 L1541.1 221.0 L1541.2 221.9 L1541.4 222.8 L1541.5 223.8 L1541.7 224.7 L1541.8 225.6 L1542.0 226.5 L1542.1 227.5 L1542.3 228.4 L1542.4 229.3 L1542.6 230.3 L1542.7 231.2 L1542.9 232.1 L1543.0 233.1 L1543.2 234.0 L1543.4 234.9 L1543.5 235.8 L1543.7 236.8 L1543.8 237.7 L1544.0 238.6 L1544.2 239.6 L1544.3 240.5 L1544.5 241.4 L1544.7 242.4 L1544.9 243.3 L1545.0 244.2 L1545.2 245.2 L1545.4 246.1 L1545.6 247.0 L1545.7 248.0 L1545.9 248.9 L1546.1 249.8 L1546.3 250.8 L1546.5 251.7 L1546.6 252.6 L1546.8 253.6 L1547.0 254.5 L1547.2 255.4 L1547.4 256.3 L1547.6 257.3 L1547.8 258.2 L1548.0 259.1 L1548.2 260.1 L1548.4 261.0 L1548.6 261.9 L1548.8 262.9 L1549.0 263.8 L1549.2 264.7 L1549.4 265.7 L1549.6 266.6 L1549.8 267.5 L1550.0 268.5 L1550.3 269.4 L1550.5 270.3 L1550.7 271.2 L1551.0 272.2 L1551.2 273.1 L1551.5 274.0 L1551.7 274.9 L1552.0 275.8 L1552.2 276.7 L1552.5 277.6 L1552.8 278.5 L1553.0 279.4 L1553.3 280.3 L1553.6 281.2 L1553.9 282.1 L1554.2 283.0 L1554.6 283.8 L1554.9 284.7 L1555.2 285.6 L1555.6 286.5 L1555.9 287.3 L1556.3 288.2 L1556.6 289.0 L1557.0 289.8 L1557.4 290.7 L1557.8 291.5 L1558.2 292.3 L1558.6 293.2 L1559.0 294.0 L1559.5 294.8 L1559.9 295.6 L1560.4 296.4 L1560.8 297.1 L1561.3 297.9 L1561.8 298.7 L1562.3 299.4 L1562.8 300.2 L1563.4 300.9 L1563.9 301.7 L1564.4 302.4 L1565.0 303.1 L1565.6 303.8 L1566.2 304.5 L1566.8 305.2 L1567.4 305.9 L1568.1 306.5 L1568.7 307.1 L1569.4 307.7 L1570.1 308.3 L1570.9 308.9 L1571.6 309.4 L1572.4 309.9 L1573.2 310.3 L1574.0 310.8 L1574.8 311.2 L1575.7 311.6 L1576.6 311.9 L1577.4 312.3 L1578.3 312.6 L1579.2 312.9 L1580.1 313.2 L1581.0 313.5 L1582.0 313.8 L1582.9 314.1 L1583.8 314.4 L1584.7 314.7 L1585.6 315.0 L1586.5 315.3 L1587.3 315.7 L1588.2 316.0 L1589.0 316.4 L1589.9 316.8 L1590.7 317.2 L1591.5 317.6 L1592.0 318.5 L1592.5 319.1 L1592.1 320.4 L1592.3 322.9 L1592.1 325.2 L1591.8 327.5 L1591.5 329.7 L1591.2 332.0 L1590.8 334.2 L1590.4 336.5 L1590.0 338.7 L1589.5 341.0 L1589.1 343.3 L1588.6 345.5 L1588.1 347.8 L1587.6 350.1 L1587.1 352.4 L1586.6 354.7 L1586.0 357.0 L1585.5 359.3 L1584.9 361.6 L1584.4 363.9 L1583.7 366.2 L1583.1 368.6 L1582.4 370.9 L1581.8 373.2 L1581.1 375.5 L1580.4 377.9 L1579.6 380.2 L1578.9 382.5 L1578.1 384.8 L1577.3 387.1 L1576.5 389.4 L1575.7 391.7 L1574.7 394.0 L1573.8 396.3 L1572.8 398.5 L1571.8 400.8 L1570.8 403.0 L1569.8 405.2 L1568.7 407.4 L1567.6 409.6 L1566.5 411.8 L1565.4 413.9 L1564.2 416.1 L1563.2 418.2 L1562.2 420.3 L1561.2 422.3 L1560.2 424.4 L1559.1 426.4 L1558.0 428.5 L1556.9 430.5 L1555.7 432.5 L1554.5 434.4 L1553.3 436.4 L1552.1 438.3 L1550.9 440.3 L1549.6 442.2 L1548.3 444.0 L1547.0 445.9 L1545.7 447.8 L1544.3 449.6 L1542.9 451.4 L1541.5 453.2 L1540.1 455.0 L1538.7 456.8 L1537.2 458.5 L1535.8 460.3 L1534.3 462.0 L1532.8 463.7 L1531.2 465.4 L1529.7 467.0 L1528.2 468.7 L1526.7 470.3 L1525.2 472.0 L1523.7 473.6 L1522.2 475.2 L1520.6 476.7 L1519.1 478.3 L1517.5 479.8 L1515.9 481.4 L1514.3 482.9 L1512.6 484.4 L1511.0 485.9 L1509.3 487.3 L1507.6 488.8 L1505.9 490.2 L1504.2 491.6 L1502.5 493.1 L1500.7 494.4 L1498.9 495.8 L1497.0 497.2 L1495.1 498.5 L1493.2 499.9 L1491.3 501.2 L1489.3 502.5 L1487.4 503.8 L1485.4 505.1 L1483.4 506.3 L1481.5 507.6 L1479.5 508.8 L1477.5 510.0 L1475.4 511.2 L1473.4 512.4 L1471.4 513.6 L1469.3 514.8 L1467.3 515.9 L1465.2 517.1 L1463.2 518.2 L1461.1 519.3 L1459.0 520.4 L1456.8 521.5 L1454.6 522.6 L1452.4 523.6 L1450.2 524.7 L1448.0 525.7 L1445.8 526.8 L1443.6 527.8 L1441.4 528.8 L1439.1 529.7 L1436.9 530.7 L1434.7 531.7 L1432.5 532.6 L1430.2 533.6 L1428.0 534.5 L1425.7 535.4 L1423.5 536.3 L1421.2 537.2 L1419.0 538.1 L1416.7 538.9 L1414.5 539.8 L1412.2 540.6 L1410.0 541.5 L1407.7 542.3 L1405.4 543.1 L1403.2 543.9 L1400.9 544.7 L1398.6 545.5 L1396.3 546.2 L1394.0 547.0 L1391.8 547.8 L1389.5 548.5 L1387.2 549.2 L1384.9 550.0 L1382.6 550.7 L1380.3 551.4 L1378.0 552.1 L1375.7 552.8 L1373.4 553.5 L1371.1 554.1 L1368.8 554.8 L1366.5 555.5 L1364.2 556.1 L1361.9 556.7 L1359.6 557.4 L1357.3 558.0 L1355.0 558.6 L1352.7 559.2 L1350.3 559.8 L1348.0 560.4 L1345.7 561.0 L1343.4 561.6 L1341.1 562.2 L1338.7 562.8 L1336.4 563.3 L1334.1 563.9 L1331.8 564.5 L1329.4 565.0 L1327.1 565.5 L1324.8 566.1 L1322.4 566.6 L1320.1 567.1 L1317.8 567.7 L1315.4 568.2 L1313.1 568.7 L1310.8 569.2 L1308.4 569.7 L1306.1 570.2 L1303.8 570.7 L1301.5 571.2 L1299.2 571.7 L1296.9 572.2 L1294.6 572.7 L1292.3 573.2 L1290.0 573.6 L1287.7 574.1 L1285.4 574.6 L1283.1 575.0 L1280.7 575.5 L1278.4 576.0 L1276.1 576.4 L1273.8 576.9 L1271.5 577.3 L1269.2 577.8 L1266.9 578.2 L1264.6 578.6 L1262.2 579.1 L1259.9 579.5 L1257.6 579.9 L1255.3 580.4 L1253.0 580.8 L1250.7 581.2 L1248.3 581.6 L1246.0 582.1 L1243.7 582.5 L1241.4 582.9 L1239.1 583.3 L1236.7 583.7 L1234.4 584.1 L1232.1 584.5 L1229.8 584.9 L1227.4 585.3 L1225.1 585.6 L1222.8 586.0 L1220.5 586.4 L1218.2 586.8 L1215.8 587.2 L1213.5 587.5 L1211.2 587.9 L1208.8 588.3 L1206.5 588.6 L1204.2 589.0 L1201.9 589.4 L1199.5 589.7 L1197.2 590.1 L1194.9 590.4 L1192.5 590.8 L1190.2 591.1 L1187.9 591.5 L1185.5 591.8 L1183.2 592.1 L1180.9 592.5 L1178.5 592.8 L1176.2 593.1 L1173.9 593.5 L1171.5 593.8 L1169.2 594.1 L1166.9 594.4 L1164.5 594.7 L1162.2 595.1 L1159.9 595.4 L1157.5 595.7 L1155.2 596.0 L1152.9 596.3 L1150.5 596.6 L1148.2 596.9 L1145.8 597.2 L1143.5 597.5 L1141.2 597.8 L1138.8 598.1 L1136.5 598.4 L1134.1 598.7 L1131.8 598.9 L1129.5 599.2 L1127.1 599.5 L1124.8 599.8 L1122.4 600.1 L1120.1 600.3 L1117.8 600.6 L1115.4 600.9 L1113.1 601.2 L1110.7 601.4 L1108.4 601.7 L1106.0 601.9 L1103.7 602.2 L1101.4 602.5 L1099.0 602.7 L1096.7 603.0 L1094.3 603.2 L1092.0 603.5 L1089.6 603.7 L1087.3 604.0 L1084.9 604.2 L1082.6 604.5 L1080.3 604.7 L1077.9 604.9 L1075.6 605.2 L1073.2 605.4 L1070.9 605.7 L1068.5 605.9 L1066.2 606.1 L1063.8 606.3 L1061.5 606.6 L1059.1 606.8 L1056.8 607.0 L1054.5 607.3 L1052.1 607.5 L1049.8 607.7 L1047.4 607.9 L1045.1 608.1 L1042.7 608.3 L1040.4 608.6 L1038.0 608.8 L1035.7 609.0 L1033.3 609.2 L1031.0 609.4 L1028.6 609.6 L1026.3 609.8 L1023.9 610.0 L1021.6 610.2 L1019.3 610.4 L1016.9 610.8" stroke="#000" stroke-width="5.2" stroke-dasharray="19.2 19.2"/>
</g>
<rect x="1028.5" y="41.2" width="750.8" height="574.2" fill="none" stroke="#262626" stroke-width="1.3"/>
<line x1="1177.1" y1="615.4" x2="1177.1" y2="607.9" stroke="#262626" stroke-width="1.3"/>
<line x1="1177.1" y1="41.2" x2="1177.1" y2="48.7" stroke="#262626" stroke-width="1.3"/>
<line x1="1327.6" y1="615.4" x2="1327.6" y2="607.9" stroke="#262626" stroke-width="1.3"/>
<line x1="1327.6" y1="41.2" x2="1327.6" y2="48.7" stroke="#262626" stroke-width="1.3"/>
<line x1="1478.2" y1="615.4" x2="1478.2" y2="607.9" stroke="#262626" stroke-width="1.3"/>
<line x1="1478.2" y1="41.2" x2="1478.2" y2="48.7" stroke="#262626" stroke-width="1.3"/>
<line x1="1628.7" y1="615.4" x2="1628.7" y2="607.9" stroke="#262626" stroke-width="1.3"/>
<line x1="1628.7" y1="41.2" x2="1628.7" y2="48.7" stroke="#262626" stroke-width="1.3"/>
<line x1="1779.3" y1="615.4" x2="1779.3" y2="607.9" stroke="#262626" stroke-width="1.3"/>
<line x1="1779.3" y1="41.2" x2="1779.3" y2="48.7" stroke="#262626" stroke-width="1.3"/>
<line x1="1028.5" y1="615.4" x2="1036.0" y2="615.4" stroke="#262626" stroke-width="1.3"/>
<line x1="1779.3" y1="615.4" x2="1771.8" y2="615.4" stroke="#262626" stroke-width="1.3"/>
<line x1="1028.5" y1="500.6" x2="1036.0" y2="500.6" stroke="#262626" stroke-width="1.3"/>
<line x1="1779.3" y1="500.6" x2="1771.8" y2="500.6" stroke="#262626" stroke-width="1.3"/>
<line x1="1028.5" y1="385.7" x2="1036.0" y2="385.7" stroke="#262626" stroke-width="1.3"/>
<line x1="1779.3" y1="385.7" x2="1771.8" y2="385.7" stroke="#262626" stroke-width="1.3"/>
<line x1="1028.5" y1="270.9" x2="1036.0" y2="270.9" stroke="#262626" stroke-width="1.3"/>
<line x1="1779.3" y1="270.9" x2="1771.8" y2="270.9" stroke="#262626" stroke-width="1.3"/>
<line x1="1028.5" y1="156.0" x2="1036.0" y2="156.0" stroke="#262626" stroke-width="1.3"/>
<line x1="1779.3" y1="156.0" x2="1771.8" y2="156.0" stroke="#262626" stroke-width="1.3"/>
<line x1="1028.5" y1="41.2" x2="1036.0" y2="41.2" stroke="#262626" stroke-width="1.3"/>
<line x1="1779.3" y1="41.2" x2="1771.8" y2="41.2" stroke="#262626" stroke-width="1.3"/>
<text x="1177.1" y="660.0" font-size="35.0" fill="#262626" text-anchor="middle" >0</text>
<text x="1327.6" y="660.0" font-size="35.0" fill="#262626" text-anchor="middle" >1</text>
<text x="1478.2" y="660.0" font-size="35.0" fill="#262626" text-anchor="middle" >2</text>
<text x="1628.7" y="660.0" font-size="35.0" fill="#262626" text-anchor="middle" >3</text>
<text x="1779.3" y="660.0" font-size="35.0" fill="#262626" text-anchor="middle" >4</text>
<text x="1015.0" y="627.7" font-size="35.0" fill="#262626" text-anchor="end" >0</text>
<text x="1015.0" y="512.9" font-size="35.0" fill="#262626" text-anchor="end" >0.2</text>
<text x="1015.0" y="398.0" font-size="35.0" fill="#262626" text-anchor="end" >0.4</text>
<text x="1015.0" y="283.2" font-size="35.0" fill="#262626" text-anchor="end" >0.6</text>
<text x="1015.0" y="168.3" font-size="35.0" fill="#262626" text-anchor="end" >0.8</text>
<text x="1015.0" y="53.5" font-size="35.0" fill="#262626" text-anchor="end" >1</text>
<text x="1399.4" y="705.2" font-size="38.3" fill="#262626" text-anchor="middle" >Displacement (mm)</text>
<text x="958.5" y="328.0" font-size="38.8" fill="#262626" text-anchor="middle" transform="rotate(-90 958.5 328)">Load factor λ</text>
<text x="930.0" y="57.5" font-size="46.0" fill="#000" text-anchor="start" >b</text>
<rect x="1048" y="61" width="250.2" height="82.5" fill="#fff" stroke="#262626" stroke-width="1.3"/>
<line x1="1054.8" y1="83.9" x2="1130" y2="83.9" stroke="#f00" stroke-width="5.2"/>
<line x1="1054.8" y1="121.7" x2="1130" y2="121.7" stroke="#f00" stroke-width="5.2" stroke-dasharray="19.2 19.2"/>
<text x="1135.5" y="94.8" font-size="31.4" fill="#000" text-anchor="start" >ALE-ANCF</text>
<text x="1135.5" y="133.2" font-size="31.4" fill="#000" text-anchor="start" >ANCF</text>
<text x="1312.0" y="286.4" font-size="31" fill="#f00" font-style="italic">U</text><text x="1333.5" y="300.2" font-size="24" fill="#f00" font-style="italic">A</text>
<line x1="1347.8" y1="280.8" x2="1372.5" y2="279.9" stroke="#f00" stroke-width="1.3"/><path d="M1390.5 279.2 L1364.5 271.2 Q1367.4 276.0 1372.5 279.9 Q1367.7 284.1 1365.2 289.2 Z" fill="#f00"/>
<text x="1445.5" y="284.6" font-size="31" fill="#000" font-style="italic">U</text><text x="1467.0" y="298.4" font-size="24" fill="#000" font-style="italic">C</text>
<line x1="1482.9" y1="279.8" x2="1500.0" y2="279.8" stroke="#000" stroke-width="1.3"/><path d="M1518.0 279.8 L1492.3 270.8 Q1495.0 275.8 1500.0 279.8 Q1495.0 283.9 1492.3 288.8 Z" fill="#000"/>
<text x="1720.0" y="283.4" font-size="31" fill="#00f" font-style="italic">U</text><text x="1741.5" y="297.2" font-size="24" fill="#00f" font-style="italic">B</text>
<line x1="1709.3" y1="277.5" x2="1683.5" y2="277.1" stroke="#00f" stroke-width="1.3"/><path d="M1665.5 276.8 L1691.0 286.5 Q1688.4 281.4 1683.5 277.1 Q1688.6 273.0 1691.3 267.9 Z" fill="#00f"/>
</svg></body></html>
